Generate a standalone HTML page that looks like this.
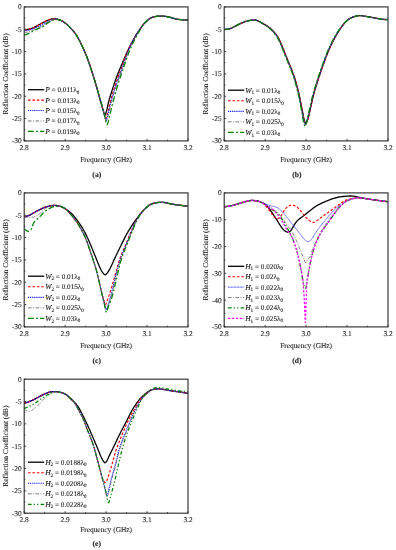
<!DOCTYPE html>
<html><head><meta charset="utf-8"><title>Reflection coefficient plots</title>
<style>svg text{text-rendering:geometricPrecision}html,body{margin:0;padding:0;background:#fff;width:396px;height:550px;overflow:hidden}svg{display:block;filter:blur(0.35px)}</style>
</head><body>
<svg width="396" height="550" viewBox="0 0 396 550" font-family="'Liberation Serif', 'Times New Roman', serif" fill="#1a1a1a"><style>text{stroke:#1a1a1a;stroke-width:0.1px}</style>
<g transform="translate(0 0)">
<clipPath id="cpa"><rect x="24.20" y="6.40" width="163.80" height="134.50"/></clipPath>
<g clip-path="url(#cpa)">
<path d="M24.2 29.9 24.7 29.9 25.2 29.8 25.7 29.7 26.2 29.7 26.7 29.6 27.2 29.5 27.7 29.4 28.2 29.3 28.7 29.2 29.0 29.1 29.2 29.1 29.7 28.9 30.2 28.8 30.7 28.7 31.2 28.5 31.7 28.3 32.2 28.2 32.7 28.0 33.2 27.8 33.7 27.6 34.2 27.4 34.6 27.2 34.7 27.2 35.2 26.9 35.7 26.7 36.2 26.4 36.7 26.1 37.2 25.8 37.7 25.5 38.2 25.2 38.7 24.9 39.2 24.6 39.7 24.4 40.0 24.2 40.2 24.1 40.7 23.8 41.2 23.5 41.7 23.3 42.2 23.0 42.7 22.7 43.2 22.5 43.7 22.2 44.2 21.9 44.7 21.7 45.1 21.5 45.2 21.5 45.7 21.2 46.2 21.0 46.7 20.7 47.2 20.5 47.7 20.3 48.2 20.0 48.7 19.8 49.2 19.7 49.7 19.5 50.1 19.4 50.2 19.4 50.7 19.3 51.2 19.2 51.7 19.1 52.2 19.0 52.7 19.0 53.2 18.9 53.7 18.9 54.2 18.9 54.7 18.9 55.2 18.9 55.7 18.9 56.2 19.0 56.7 19.1 57.2 19.2 57.7 19.3 58.2 19.5 58.7 19.6 59.2 19.8 59.7 19.9 60.2 20.1 60.7 20.3 61.2 20.5 61.7 20.8 62.2 21.0 62.7 21.3 63.2 21.6 63.7 22.0 64.2 22.3 64.7 22.7 65.2 23.0 65.3 23.1 65.7 23.4 66.2 23.8 66.7 24.2 67.2 24.7 67.7 25.1 68.2 25.6 68.7 26.1 69.2 26.6 69.7 27.1 70.2 27.6 70.3 27.7 70.7 28.1 71.2 28.6 71.7 29.2 72.2 29.7 72.7 30.3 73.2 30.9 73.7 31.5 74.2 32.1 74.7 32.8 75.2 33.4 75.4 33.7 75.7 34.1 76.2 34.9 76.7 35.6 77.2 36.5 77.7 37.4 78.2 38.2 78.7 39.2 79.1 39.9 79.2 40.1 79.7 41.0 80.2 42.0 80.7 43.0 81.2 44.0 81.7 45.1 82.2 46.1 82.7 47.2 83.2 48.3 83.7 49.4 84.2 50.5 84.7 51.7 85.2 52.8 85.4 53.3 85.7 54.0 86.2 55.2 86.7 56.5 87.2 57.8 87.7 59.2 88.2 60.6 88.7 62.0 89.0 62.8 89.2 63.4 89.7 64.8 90.2 66.3 90.7 67.9 91.2 69.4 91.7 71.0 92.2 72.6 92.5 73.5 92.7 74.1 93.2 75.7 93.7 77.3 94.2 78.9 94.7 80.5 95.2 82.1 95.7 83.8 96.2 85.5 96.5 86.5 96.7 87.2 97.2 89.0 97.7 90.8 98.2 92.6 98.7 94.5 99.2 96.4 99.7 98.2 100.0 99.3 100.2 100.0 100.7 101.8 101.2 103.6 101.4 104.3 101.7 105.4 102.2 107.1 102.7 108.8 103.2 110.5 103.3 110.8 103.7 112.1 104.2 113.8 104.7 114.9 104.9 115.1 105.2 115.0 105.7 113.8 106.2 112.1 106.5 111.0 106.7 110.3 107.2 108.2 107.7 105.8 108.2 103.6 108.7 101.5 109.2 99.7 109.7 98.0 110.2 96.3 110.7 94.7 111.2 93.1 111.7 91.5 112.0 90.6 112.2 90.0 112.7 88.4 113.2 86.9 113.7 85.4 114.2 83.9 114.7 82.4 115.2 81.0 115.3 80.7 115.7 79.6 116.2 78.2 116.7 76.9 117.2 75.6 117.7 74.3 118.2 73.0 118.6 72.0 118.7 71.8 119.2 70.5 119.7 69.3 120.2 68.1 120.7 67.0 121.2 65.8 121.7 64.6 121.8 64.4 122.2 63.5 122.7 62.3 123.2 61.1 123.7 59.9 124.2 58.7 124.7 57.5 125.2 56.4 125.6 55.5 125.7 55.3 126.2 54.2 126.7 53.1 127.2 52.0 127.7 50.9 128.2 49.8 128.7 48.7 129.2 47.7 129.7 46.7 130.2 45.7 130.7 44.7 130.8 44.5 131.2 43.7 131.7 42.8 132.2 41.9 132.7 41.0 133.2 40.0 133.7 39.1 134.2 38.3 134.7 37.4 135.2 36.5 135.7 35.7 136.2 34.9 136.7 34.1 137.2 33.3 137.6 32.7 137.7 32.5 138.2 31.8 138.7 31.0 139.2 30.3 139.7 29.5 140.2 28.8 140.7 28.0 141.2 27.3 141.7 26.6 142.2 25.9 142.7 25.3 143.2 24.7 143.7 24.1 144.2 23.5 144.7 23.0 145.2 22.5 145.7 22.0 146.2 21.6 146.7 21.1 147.2 20.7 147.7 20.2 148.2 19.8 148.7 19.4 149.2 19.0 149.7 18.7 150.2 18.3 150.7 18.0 151.2 17.8 151.7 17.5 152.2 17.4 152.7 17.2 153.2 17.1 153.7 16.9 154.2 16.8 154.7 16.7 155.2 16.6 155.7 16.5 156.2 16.4 156.7 16.3 157.2 16.2 157.7 16.2 158.2 16.1 158.7 16.1 158.8 16.1 159.2 16.1 159.7 16.1 160.2 16.1 160.7 16.1 161.2 16.1 161.7 16.1 162.2 16.1 162.7 16.1 163.2 16.2 163.7 16.2 164.2 16.2 164.7 16.3 165.0 16.3 165.2 16.3 165.7 16.4 166.2 16.5 166.7 16.6 167.2 16.7 167.7 16.8 168.2 16.9 168.7 17.0 169.2 17.1 169.7 17.2 170.2 17.3 170.7 17.5 171.2 17.6 171.7 17.8 172.2 17.9 172.7 18.1 173.2 18.2 173.7 18.4 174.2 18.5 174.7 18.6 175.2 18.8 175.7 18.9 176.2 19.0 176.7 19.1 177.2 19.2 177.7 19.3 178.2 19.4 178.7 19.4 179.2 19.5 179.7 19.5 180.2 19.6 180.7 19.6 181.2 19.7 181.7 19.7 182.2 19.8 182.7 19.8 183.0 19.8 183.2 19.8 183.7 19.8 184.2 19.9 184.7 19.9 185.2 19.9 185.7 19.9 186.2 20.0 186.7 20.0 187.2 20.0 187.7 20.0 188.0 20.0" fill="none" stroke="#000000" stroke-width="1.30" stroke-linejoin="round"/>
<path d="M24.2 29.9 24.7 29.9 25.2 29.8 25.7 29.7 26.2 29.7 26.7 29.6 27.2 29.5 27.7 29.4 28.2 29.3 28.7 29.2 29.0 29.1 29.2 29.1 29.7 28.9 30.2 28.8 30.7 28.7 31.2 28.5 31.7 28.3 32.2 28.2 32.7 28.0 33.2 27.8 33.7 27.6 34.2 27.4 34.6 27.2 34.7 27.2 35.2 26.9 35.7 26.7 36.2 26.4 36.7 26.1 37.2 25.8 37.7 25.5 38.2 25.2 38.7 24.9 39.2 24.6 39.7 24.4 40.0 24.2 40.2 24.1 40.7 23.8 41.2 23.5 41.7 23.3 42.2 23.0 42.7 22.7 43.2 22.5 43.7 22.2 44.2 21.9 44.7 21.7 45.1 21.5 45.2 21.5 45.7 21.2 46.2 21.0 46.7 20.7 47.2 20.5 47.7 20.3 48.2 20.0 48.7 19.8 49.2 19.7 49.7 19.5 50.1 19.4 50.2 19.4 50.7 19.3 51.2 19.2 51.7 19.1 52.2 19.0 52.7 19.0 53.2 18.9 53.7 18.9 54.2 18.9 54.7 18.9 55.2 18.9 55.7 18.9 56.2 19.0 56.7 19.1 57.2 19.2 57.7 19.3 58.2 19.5 58.7 19.6 59.2 19.8 59.7 19.9 60.2 20.1 60.7 20.3 61.2 20.5 61.7 20.8 62.2 21.0 62.7 21.3 63.2 21.6 63.7 22.0 64.2 22.3 64.7 22.7 65.2 23.0 65.3 23.1 65.7 23.4 66.2 23.8 66.7 24.2 67.2 24.7 67.7 25.1 68.2 25.6 68.7 26.1 69.2 26.6 69.7 27.1 70.2 27.6 70.3 27.7 70.7 28.1 71.2 28.6 71.7 29.2 72.2 29.7 72.7 30.3 73.2 30.9 73.7 31.5 74.2 32.1 74.7 32.8 75.2 33.4 75.4 33.7 75.7 34.1 76.2 34.9 76.7 35.6 77.2 36.5 77.7 37.4 78.2 38.2 78.7 39.2 79.1 39.9 79.2 40.1 79.7 41.0 80.2 42.0 80.7 43.0 81.2 44.0 81.7 45.1 82.2 46.1 82.7 47.2 83.2 48.3 83.7 49.4 84.2 50.5 84.7 51.7 85.2 52.8 85.4 53.3 85.7 54.0 86.2 55.2 86.7 56.5 87.2 57.8 87.7 59.2 88.2 60.6 88.7 62.0 89.0 62.8 89.2 63.4 89.7 64.8 90.2 66.3 90.7 67.9 91.2 69.4 91.7 71.0 92.2 72.6 92.5 73.5 92.7 74.1 93.2 75.7 93.7 77.3 94.2 78.9 94.7 80.5 95.2 82.1 95.7 83.8 96.2 85.5 96.5 86.5 96.7 87.2 97.2 89.0 97.7 90.8 98.2 92.7 98.7 94.6 99.2 96.4 99.7 98.2 100.0 99.3 100.2 100.0 100.7 101.6 101.2 103.2 101.6 104.5 101.7 104.8 102.2 106.6 102.7 108.5 103.2 110.3 103.6 111.8 103.7 112.2 104.2 114.3 104.7 116.5 105.2 118.3 105.6 119.0 105.7 119.0 106.2 118.3 106.7 116.5 107.2 114.5 107.7 112.6 108.2 110.4 108.7 108.2 109.2 106.1 109.6 104.5 109.7 104.1 110.2 102.2 110.7 100.4 111.2 98.6 111.7 96.9 112.2 95.2 112.7 93.5 113.0 92.5 113.2 91.8 113.7 90.2 114.2 88.6 114.7 87.0 115.2 85.5 115.7 84.0 116.2 82.5 116.7 81.0 117.2 79.6 117.7 78.2 118.2 76.8 118.7 75.4 119.2 74.0 119.4 73.5 119.7 72.7 120.2 71.4 120.7 70.1 121.2 68.8 121.7 67.4 122.2 66.1 122.4 65.5 122.7 64.6 123.2 63.0 123.7 61.4 124.2 59.7 124.7 58.1 125.2 56.6 125.6 55.5 125.7 55.2 126.2 54.0 126.7 52.8 127.2 51.7 127.7 50.6 128.2 49.6 128.7 48.5 129.2 47.6 129.7 46.6 130.2 45.6 130.7 44.7 130.8 44.5 131.2 43.8 131.7 42.8 132.2 41.9 132.7 41.0 133.2 40.1 133.7 39.2 134.2 38.3 134.7 37.4 135.2 36.6 135.7 35.7 136.2 34.9 136.7 34.1 137.2 33.3 137.6 32.7 137.7 32.5 138.2 31.8 138.7 31.0 139.2 30.3 139.7 29.5 140.2 28.8 140.7 28.0 141.2 27.3 141.7 26.6 142.2 25.9 142.7 25.3 143.2 24.7 143.7 24.1 144.2 23.5 144.7 23.0 145.2 22.5 145.7 22.0 146.2 21.6 146.7 21.1 147.2 20.7 147.7 20.2 148.2 19.8 148.7 19.4 149.2 19.0 149.7 18.7 150.2 18.3 150.7 18.0 151.2 17.8 151.7 17.5 152.2 17.4 152.7 17.2 153.2 17.1 153.7 16.9 154.2 16.8 154.7 16.7 155.2 16.6 155.7 16.5 156.2 16.4 156.7 16.3 157.2 16.2 157.7 16.2 158.2 16.1 158.7 16.1 158.8 16.1 159.2 16.1 159.7 16.1 160.2 16.1 160.7 16.1 161.2 16.1 161.7 16.1 162.2 16.1 162.7 16.1 163.2 16.2 163.7 16.2 164.2 16.2 164.7 16.3 165.0 16.3 165.2 16.3 165.7 16.4 166.2 16.5 166.7 16.6 167.2 16.7 167.7 16.8 168.2 16.9 168.7 17.0 169.2 17.1 169.7 17.2 170.2 17.3 170.7 17.5 171.2 17.6 171.7 17.8 172.2 17.9 172.7 18.1 173.2 18.2 173.7 18.4 174.2 18.5 174.7 18.6 175.2 18.8 175.7 18.9 176.2 19.0 176.7 19.1 177.2 19.2 177.7 19.3 178.2 19.4 178.7 19.4 179.2 19.5 179.7 19.5 180.2 19.6 180.7 19.6 181.2 19.7 181.7 19.7 182.2 19.8 182.7 19.8 183.0 19.8 183.2 19.8 183.7 19.8 184.2 19.9 184.7 19.9 185.2 19.9 185.7 19.9 186.2 20.0 186.7 20.0 187.2 20.0 187.7 20.0 188.0 20.0" fill="none" stroke="#ff0000" stroke-width="1.15" stroke-dasharray="2.6 1.8" stroke-linejoin="round"/>
<path d="M24.2 31.0 24.7 31.0 25.2 30.9 25.7 30.8 26.2 30.8 26.7 30.7 27.2 30.6 27.7 30.5 28.2 30.4 28.7 30.3 29.0 30.2 29.2 30.2 29.7 30.0 30.2 29.9 30.7 29.7 31.2 29.5 31.7 29.3 32.2 29.1 32.7 29.0 33.1 28.8 33.2 28.8 33.7 28.6 34.2 28.4 34.7 28.2 35.2 28.0 35.7 27.8 36.2 27.6 36.7 27.3 37.2 27.1 37.7 26.9 38.0 26.8 38.2 26.7 38.7 26.5 39.2 26.3 39.7 26.1 40.2 25.9 40.7 25.7 41.2 25.5 41.7 25.2 42.2 25.0 42.7 24.7 43.2 24.5 43.7 24.2 44.2 23.9 44.7 23.6 45.2 23.3 45.7 23.0 46.2 22.7 46.7 22.5 47.0 22.3 47.2 22.2 47.7 21.9 48.2 21.7 48.7 21.5 49.2 21.2 49.7 21.0 50.2 20.8 50.7 20.5 51.2 20.3 51.7 20.1 52.0 20.0 52.2 19.9 52.7 19.7 53.2 19.5 53.7 19.3 54.2 19.1 54.7 19.0 55.2 18.9 55.7 18.9 56.2 18.9 56.7 19.0 57.2 19.1 57.7 19.2 58.2 19.4 58.7 19.5 59.2 19.7 59.7 19.9 60.2 20.1 60.7 20.3 61.2 20.5 61.7 20.8 62.2 21.1 62.7 21.4 63.2 21.7 63.7 22.0 64.2 22.3 64.7 22.7 65.2 23.0 65.3 23.1 65.7 23.4 66.2 23.8 66.7 24.2 67.2 24.7 67.7 25.1 68.2 25.6 68.7 26.1 69.2 26.6 69.7 27.1 70.2 27.6 70.3 27.7 70.7 28.1 71.2 28.6 71.7 29.2 72.2 29.7 72.7 30.3 73.2 30.9 73.7 31.5 74.2 32.1 74.7 32.8 75.2 33.4 75.4 33.7 75.7 34.1 76.2 34.9 76.7 35.6 77.2 36.5 77.7 37.4 78.2 38.2 78.7 39.2 79.1 39.9 79.2 40.1 79.7 41.0 80.2 42.0 80.7 43.0 81.2 44.0 81.7 45.1 82.2 46.1 82.7 47.2 83.2 48.3 83.7 49.4 84.2 50.5 84.7 51.7 85.2 52.8 85.4 53.3 85.7 54.0 86.2 55.2 86.7 56.5 87.2 57.8 87.7 59.2 88.2 60.6 88.7 62.0 89.0 62.8 89.2 63.4 89.7 64.8 90.2 66.3 90.7 67.9 91.2 69.4 91.7 71.0 92.2 72.6 92.5 73.5 92.7 74.1 93.2 75.7 93.7 77.3 94.2 78.9 94.7 80.5 95.2 82.1 95.7 83.8 96.2 85.5 96.5 86.5 96.7 87.2 97.2 89.0 97.7 90.8 98.2 92.7 98.7 94.6 99.2 96.5 99.7 98.3 100.0 99.3 100.2 100.0 100.7 101.5 101.2 103.0 101.7 104.6 102.2 106.4 102.7 108.3 103.2 110.2 103.7 112.1 103.9 112.8 104.2 114.0 104.7 116.2 105.2 118.4 105.7 119.9 106.0 120.3 106.2 120.3 106.7 119.1 107.2 117.1 107.6 115.5 107.7 115.1 108.2 113.1 108.7 111.0 109.2 108.8 109.7 106.7 110.0 105.5 110.2 104.7 110.7 102.9 111.2 101.1 111.7 99.3 112.2 97.6 112.7 95.9 113.2 94.2 113.4 93.5 113.7 92.5 114.2 90.9 114.7 89.2 115.2 87.6 115.7 86.0 116.2 84.5 116.6 83.3 116.7 83.0 117.2 81.5 117.7 80.1 118.2 78.7 118.7 77.3 119.2 76.0 119.7 74.6 119.8 74.3 120.2 73.2 120.7 71.8 121.2 70.4 121.7 69.1 122.2 67.7 122.7 66.3 122.8 66.0 123.2 64.9 123.7 63.4 124.2 62.0 124.7 60.5 125.2 59.1 125.7 57.7 126.2 56.3 126.7 54.9 127.2 53.6 127.7 52.2 128.2 50.8 128.7 49.5 129.2 48.2 129.7 47.0 130.2 45.8 130.7 44.7 130.8 44.5 131.2 43.7 131.7 42.7 132.2 41.7 132.7 40.8 133.2 39.9 133.7 39.0 134.2 38.1 134.7 37.3 135.2 36.4 135.7 35.6 136.2 34.8 136.7 34.1 137.2 33.3 137.6 32.7 137.7 32.6 138.2 31.8 138.7 31.1 139.2 30.3 139.7 29.5 140.2 28.8 140.7 28.1 141.2 27.3 141.7 26.6 142.2 26.0 142.7 25.3 143.2 24.7 143.7 24.1 144.2 23.5 144.7 23.0 145.2 22.5 145.7 22.0 146.2 21.6 146.7 21.1 147.2 20.7 147.7 20.2 148.2 19.8 148.7 19.4 149.2 19.0 149.7 18.7 150.2 18.3 150.7 18.0 151.2 17.8 151.7 17.5 152.2 17.4 152.7 17.2 153.2 17.1 153.7 16.9 154.2 16.8 154.7 16.7 155.2 16.6 155.7 16.5 156.2 16.4 156.7 16.3 157.2 16.2 157.7 16.2 158.2 16.1 158.7 16.1 158.8 16.1 159.2 16.1 159.7 16.1 160.2 16.1 160.7 16.1 161.2 16.1 161.7 16.1 162.2 16.1 162.7 16.1 163.2 16.2 163.7 16.2 164.2 16.2 164.7 16.3 165.0 16.3 165.2 16.3 165.7 16.4 166.2 16.5 166.7 16.6 167.2 16.7 167.7 16.8 168.2 16.9 168.7 17.0 169.2 17.1 169.7 17.2 170.2 17.3 170.7 17.5 171.2 17.6 171.7 17.8 172.2 17.9 172.7 18.1 173.2 18.2 173.7 18.4 174.2 18.5 174.7 18.6 175.2 18.8 175.7 18.9 176.2 19.0 176.7 19.1 177.2 19.2 177.7 19.3 178.2 19.4 178.7 19.4 179.2 19.5 179.7 19.5 180.2 19.6 180.7 19.6 181.2 19.7 181.7 19.7 182.2 19.8 182.7 19.8 183.0 19.8 183.2 19.8 183.7 19.8 184.2 19.9 184.7 19.9 185.2 19.9 185.7 19.9 186.2 20.0 186.7 20.0 187.2 20.0 187.7 20.0 188.0 20.0" fill="none" stroke="#0000ff" stroke-width="1.15" stroke-dasharray="1.1 1.0" stroke-linejoin="round"/>
<path d="M24.2 32.8 24.7 32.7 25.2 32.7 25.7 32.6 26.2 32.5 26.7 32.4 27.2 32.2 27.7 32.1 28.2 32.0 28.7 31.9 29.0 31.8 29.2 31.7 29.7 31.6 30.2 31.5 30.7 31.3 31.2 31.1 31.7 31.0 32.2 30.8 32.7 30.6 33.0 30.5 33.2 30.4 33.7 30.2 34.2 30.0 34.7 29.8 35.2 29.6 35.7 29.4 36.2 29.2 36.7 28.9 37.2 28.7 37.7 28.4 38.0 28.3 38.2 28.2 38.7 28.0 39.2 27.7 39.7 27.4 40.2 27.2 40.7 26.9 41.2 26.6 41.7 26.3 42.2 26.0 42.7 25.7 43.2 25.4 43.7 25.0 44.2 24.7 44.7 24.3 45.2 23.9 45.7 23.6 46.2 23.3 46.7 23.0 47.0 22.8 47.2 22.7 47.7 22.4 48.2 22.2 48.7 21.9 49.2 21.7 49.7 21.5 50.2 21.2 50.7 21.0 51.2 20.8 51.7 20.5 52.0 20.4 52.2 20.3 52.7 20.0 53.2 19.8 53.7 19.5 54.2 19.2 54.7 19.0 55.2 18.9 55.7 18.8 56.2 18.8 56.7 18.9 57.2 19.0 57.7 19.1 58.2 19.3 58.7 19.5 59.2 19.7 59.7 19.9 60.2 20.1 60.7 20.3 61.2 20.5 61.7 20.8 62.2 21.1 62.7 21.4 63.2 21.7 63.7 22.0 64.2 22.3 64.7 22.7 65.2 23.0 65.3 23.1 65.7 23.4 66.2 23.8 66.7 24.2 67.2 24.7 67.7 25.1 68.2 25.6 68.7 26.1 69.2 26.6 69.7 27.1 70.2 27.6 70.3 27.7 70.7 28.1 71.2 28.6 71.7 29.2 72.2 29.7 72.7 30.3 73.2 30.9 73.7 31.5 74.2 32.1 74.7 32.8 75.2 33.4 75.4 33.7 75.7 34.1 76.2 34.9 76.7 35.6 77.2 36.5 77.7 37.4 78.2 38.2 78.7 39.2 79.1 39.9 79.2 40.1 79.7 41.0 80.2 42.0 80.7 43.0 81.2 44.0 81.7 45.1 82.2 46.1 82.7 47.2 83.2 48.3 83.7 49.4 84.2 50.5 84.7 51.7 85.2 52.8 85.4 53.3 85.7 54.0 86.2 55.2 86.7 56.5 87.2 57.8 87.7 59.2 88.2 60.6 88.7 62.0 89.0 62.8 89.2 63.4 89.7 64.8 90.2 66.3 90.7 67.9 91.2 69.4 91.7 71.0 92.2 72.6 92.5 73.5 92.7 74.1 93.2 75.7 93.7 77.3 94.2 78.9 94.7 80.5 95.2 82.1 95.7 83.8 96.2 85.5 96.5 86.5 96.7 87.2 97.2 89.0 97.7 90.9 98.2 92.8 98.7 94.6 99.2 96.5 99.7 98.3 100.0 99.3 100.2 99.9 100.7 101.4 101.2 102.8 101.7 104.4 101.8 104.7 102.2 106.1 102.7 108.0 103.2 110.0 103.7 112.0 104.1 113.5 104.2 113.9 104.7 116.1 105.2 118.3 105.7 120.2 106.2 121.2 106.3 121.3 106.7 120.9 107.2 119.3 107.7 117.2 108.0 116.0 108.2 115.3 108.7 113.3 109.2 111.3 109.7 109.2 110.2 107.2 110.5 106.0 110.7 105.2 111.2 103.3 111.7 101.5 112.2 99.6 112.7 97.8 113.2 96.1 113.7 94.3 113.8 94.0 114.2 92.7 114.7 91.1 115.2 89.5 115.7 88.0 116.2 86.4 116.7 84.9 117.0 84.0 117.2 83.4 117.7 81.9 118.2 80.4 118.7 78.9 119.2 77.4 119.7 76.0 120.1 74.8 120.2 74.5 120.7 73.1 121.2 71.7 121.7 70.4 122.2 69.0 122.7 67.6 123.1 66.5 123.2 66.2 123.7 64.7 124.2 63.2 124.7 61.6 125.2 60.1 125.7 58.6 126.2 57.2 126.4 56.6 126.7 55.8 127.2 54.4 127.7 53.1 128.2 51.8 128.7 50.6 129.2 49.3 129.7 48.1 130.2 47.0 130.7 45.8 131.0 45.2 131.2 44.8 131.7 43.7 132.2 42.7 132.7 41.6 133.2 40.6 133.7 39.6 134.2 38.7 134.7 37.7 135.2 36.8 135.7 35.9 136.2 35.0 136.7 34.1 137.2 33.3 137.6 32.7 137.7 32.5 138.2 31.8 138.7 31.0 139.2 30.2 139.7 29.5 140.2 28.7 140.7 28.0 141.2 27.3 141.7 26.6 142.2 25.9 142.7 25.2 143.2 24.6 143.7 24.0 144.2 23.5 144.7 23.0 145.2 22.5 145.7 22.0 146.2 21.6 146.7 21.1 147.2 20.7 147.7 20.3 148.2 19.8 148.7 19.4 149.2 19.1 149.7 18.7 150.2 18.4 150.7 18.1 151.2 17.8 151.7 17.5 152.2 17.4 152.7 17.2 153.2 17.1 153.7 16.9 154.2 16.8 154.7 16.7 155.2 16.6 155.7 16.5 156.2 16.4 156.7 16.3 157.2 16.2 157.7 16.2 158.2 16.1 158.7 16.1 158.8 16.1 159.2 16.1 159.7 16.1 160.2 16.1 160.7 16.1 161.2 16.1 161.7 16.1 162.2 16.1 162.7 16.1 163.2 16.2 163.7 16.2 164.2 16.2 164.7 16.3 165.0 16.3 165.2 16.3 165.7 16.4 166.2 16.5 166.7 16.6 167.2 16.7 167.7 16.8 168.2 16.9 168.7 17.0 169.2 17.1 169.7 17.2 170.2 17.3 170.7 17.5 171.2 17.6 171.7 17.8 172.2 17.9 172.7 18.1 173.2 18.2 173.7 18.4 174.2 18.5 174.7 18.6 175.2 18.8 175.7 18.9 176.2 19.0 176.7 19.1 177.2 19.2 177.7 19.3 178.2 19.4 178.7 19.4 179.2 19.5 179.7 19.5 180.2 19.6 180.7 19.6 181.2 19.7 181.7 19.7 182.2 19.8 182.7 19.8 183.0 19.8 183.2 19.8 183.7 19.8 184.2 19.9 184.7 19.9 185.2 19.9 185.7 19.9 186.2 20.0 186.7 20.0 187.2 20.0 187.7 20.0 188.0 20.0" fill="none" stroke="#6a6a6a" stroke-width="0.90" stroke-dasharray="3.6 1.4 0.9 1.6" stroke-linejoin="round"/>
<path d="M24.2 35.2 24.7 35.0 25.2 34.9 25.7 34.7 26.2 34.5 26.7 34.3 27.2 34.1 27.7 33.9 28.2 33.7 28.7 33.4 29.0 33.3 29.2 33.2 29.7 33.0 30.2 32.7 30.7 32.4 31.2 32.1 31.7 31.9 32.2 31.6 32.7 31.3 33.1 31.1 33.2 31.0 33.7 30.8 34.2 30.5 34.7 30.3 35.2 30.0 35.7 29.8 36.2 29.5 36.7 29.3 37.2 29.1 37.7 28.8 38.0 28.7 38.2 28.6 38.7 28.4 39.2 28.2 39.7 28.0 40.2 27.9 40.7 27.7 41.2 27.5 41.7 27.2 42.2 27.0 42.7 26.7 43.2 26.4 43.7 26.0 44.2 25.6 44.7 25.2 45.2 24.8 45.7 24.4 46.2 24.1 46.7 23.7 47.0 23.5 47.2 23.4 47.7 23.0 48.2 22.7 48.7 22.4 49.2 22.1 49.7 21.8 50.2 21.5 50.7 21.3 51.2 21.0 51.6 20.8 51.7 20.8 52.2 20.5 52.7 20.3 53.2 20.0 53.7 19.8 54.2 19.7 54.7 19.6 55.0 19.5 55.2 19.5 55.7 19.4 56.2 19.4 56.7 19.5 57.2 19.5 57.7 19.6 58.2 19.7 58.7 19.8 59.2 20.0 59.7 20.1 60.0 20.2 60.2 20.3 60.7 20.4 61.2 20.6 61.7 20.9 62.2 21.1 62.7 21.4 63.2 21.7 63.7 22.0 64.2 22.4 64.7 22.7 65.2 23.0 65.3 23.1 65.7 23.4 66.2 23.8 66.7 24.2 67.2 24.6 67.7 25.1 68.2 25.6 68.7 26.1 69.2 26.6 69.7 27.1 70.2 27.6 70.3 27.7 70.7 28.1 71.2 28.6 71.7 29.2 72.2 29.7 72.7 30.3 73.2 30.9 73.7 31.5 74.2 32.1 74.7 32.8 75.2 33.4 75.4 33.7 75.7 34.1 76.2 34.9 76.7 35.6 77.2 36.5 77.7 37.4 78.2 38.2 78.7 39.2 79.1 39.9 79.2 40.1 79.7 41.0 80.2 42.0 80.7 43.0 81.2 44.0 81.7 45.1 82.2 46.1 82.7 47.2 83.2 48.3 83.7 49.4 84.2 50.5 84.7 51.7 85.2 52.8 85.4 53.3 85.7 54.0 86.2 55.2 86.7 56.5 87.2 57.8 87.7 59.2 88.2 60.6 88.7 62.0 89.0 62.8 89.2 63.4 89.7 64.8 90.2 66.3 90.7 67.9 91.2 69.4 91.7 71.0 92.2 72.6 92.5 73.5 92.7 74.1 93.2 75.7 93.7 77.3 94.2 78.9 94.7 80.5 95.2 82.1 95.7 83.8 96.2 85.5 96.5 86.5 96.7 87.2 97.2 89.0 97.7 90.9 98.2 92.8 98.7 94.7 99.2 96.5 99.7 98.3 100.0 99.3 100.2 99.9 100.7 101.3 101.2 102.6 101.7 104.0 102.0 105.0 102.2 105.7 102.7 107.6 103.2 109.7 103.7 111.8 104.2 113.9 104.6 115.5 104.7 115.9 105.2 118.2 105.7 120.7 106.2 122.9 106.7 124.4 107.0 124.8 107.2 124.8 107.7 123.8 108.2 121.9 108.7 119.7 109.0 118.5 109.2 117.7 109.7 115.7 110.2 113.5 110.7 111.3 111.2 109.2 111.5 108.0 111.7 107.2 112.2 105.3 112.7 103.4 113.2 101.6 113.7 99.7 114.2 97.9 114.7 96.1 115.0 95.0 115.2 94.3 115.7 92.4 116.2 90.6 116.7 88.8 117.2 87.0 117.7 85.3 117.8 85.0 118.2 83.7 118.7 82.1 119.2 80.5 119.7 79.0 120.2 77.5 120.7 76.0 121.2 74.5 121.7 73.1 122.2 71.7 122.7 70.3 123.2 68.9 123.5 68.0 123.7 67.4 124.2 65.9 124.7 64.3 125.2 62.8 125.7 61.2 126.2 59.7 126.7 58.3 126.8 58.0 127.2 56.9 127.7 55.6 128.2 54.2 128.7 52.9 129.2 51.7 129.7 50.4 130.2 49.2 130.7 48.0 131.2 46.9 131.6 46.0 131.7 45.8 132.2 44.7 132.7 43.6 133.2 42.6 133.7 41.6 134.2 40.6 134.7 39.6 135.2 38.6 135.7 37.6 136.2 36.7 136.7 35.8 137.2 34.9 137.7 34.0 138.0 33.5 138.2 33.2 138.7 32.3 139.2 31.4 139.7 30.6 140.2 29.7 140.7 28.8 141.2 28.0 141.7 27.2 142.2 26.4 142.7 25.6 143.2 24.9 143.7 24.2 144.2 23.6 144.7 23.0 145.2 22.5 145.7 22.0 146.2 21.5 146.7 21.1 147.2 20.6 147.7 20.2 148.2 19.8 148.7 19.4 149.2 19.0 149.7 18.6 150.2 18.3 150.7 18.0 151.2 17.8 151.7 17.5 152.2 17.3 152.7 17.2 153.2 17.1 153.7 16.9 154.2 16.8 154.7 16.7 155.2 16.6 155.7 16.5 156.2 16.4 156.7 16.3 157.2 16.2 157.7 16.2 158.2 16.1 158.7 16.1 158.8 16.1 159.2 16.1 159.7 16.1 160.2 16.1 160.7 16.1 161.2 16.1 161.7 16.1 162.2 16.1 162.7 16.1 163.2 16.2 163.7 16.2 164.2 16.2 164.7 16.3 165.0 16.3 165.2 16.3 165.7 16.4 166.2 16.5 166.7 16.6 167.2 16.7 167.7 16.8 168.2 16.9 168.7 17.0 169.2 17.1 169.7 17.2 170.2 17.3 170.7 17.5 171.2 17.6 171.7 17.8 172.2 17.9 172.7 18.1 173.2 18.2 173.7 18.4 174.2 18.5 174.7 18.6 175.2 18.8 175.7 18.9 176.2 19.0 176.7 19.1 177.2 19.2 177.7 19.3 178.2 19.4 178.7 19.4 179.2 19.5 179.7 19.5 180.2 19.6 180.7 19.6 181.2 19.7 181.7 19.7 182.2 19.8 182.7 19.8 183.0 19.8 183.2 19.8 183.7 19.8 184.2 19.9 184.7 19.9 185.2 19.9 185.7 19.9 186.2 20.0 186.7 20.0 187.2 20.0 187.7 20.0 188.0 20.0" fill="none" stroke="#008000" stroke-width="1.25" stroke-dasharray="5.7 2.3 1.8 2.3" stroke-linejoin="round"/>
</g>
<line x1="28" y1="89.70" x2="44.2" y2="89.70" fill="none" stroke="#000000" stroke-width="1.30"/>
<text x="45.2" y="92.10" font-size="7.20"><tspan font-style="italic" font-size="7.5">P</tspan> = 0.011&#955;<tspan font-size="5.0" dy="1.6">0</tspan></text>
<line x1="28" y1="100.12" x2="44.2" y2="100.12" fill="none" stroke="#ff0000" stroke-width="1.15" stroke-dasharray="2.6 1.8"/>
<text x="45.2" y="102.52" font-size="7.20"><tspan font-style="italic" font-size="7.5">P</tspan> = 0.013&#955;<tspan font-size="5.0" dy="1.6">0</tspan></text>
<line x1="28" y1="110.54" x2="44.2" y2="110.54" fill="none" stroke="#0000ff" stroke-width="1.15" stroke-dasharray="1.1 1.0"/>
<text x="45.2" y="112.94" font-size="7.20"><tspan font-style="italic" font-size="7.5">P</tspan> = 0.015&#955;<tspan font-size="5.0" dy="1.6">0</tspan></text>
<line x1="28" y1="120.96" x2="44.2" y2="120.96" fill="none" stroke="#6a6a6a" stroke-width="0.90" stroke-dasharray="3.6 1.4 0.9 1.6"/>
<text x="45.2" y="123.36" font-size="7.20"><tspan font-style="italic" font-size="7.5">P</tspan> = 0.017&#955;<tspan font-size="5.0" dy="1.6">0</tspan></text>
<line x1="28" y1="131.38" x2="44.2" y2="131.38" fill="none" stroke="#008000" stroke-width="1.25" stroke-dasharray="5.7 2.3 1.8 2.3"/>
<text x="45.2" y="133.78" font-size="7.20"><tspan font-style="italic" font-size="7.5">P</tspan> = 0.019&#955;<tspan font-size="5.0" dy="1.6">0</tspan></text>
<rect x="24.20" y="6.90" width="163.80" height="134.00" fill="none" stroke="#303030" stroke-width="1.15"/>
<line x1="24.20" y1="140.90" x2="24.20" y2="138.90" stroke="#303030" stroke-width="0.9"/>
<text x="24.20" y="149.60" font-size="7.40" text-anchor="middle">2.8</text>
<line x1="44.67" y1="140.90" x2="44.67" y2="139.70" stroke="#303030" stroke-width="0.9"/>
<line x1="65.15" y1="140.90" x2="65.15" y2="138.90" stroke="#303030" stroke-width="0.9"/>
<text x="65.15" y="149.60" font-size="7.40" text-anchor="middle">2.9</text>
<line x1="85.62" y1="140.90" x2="85.62" y2="139.70" stroke="#303030" stroke-width="0.9"/>
<line x1="106.10" y1="140.90" x2="106.10" y2="138.90" stroke="#303030" stroke-width="0.9"/>
<text x="106.10" y="149.60" font-size="7.40" text-anchor="middle">3.0</text>
<line x1="126.58" y1="140.90" x2="126.58" y2="139.70" stroke="#303030" stroke-width="0.9"/>
<line x1="147.05" y1="140.90" x2="147.05" y2="138.90" stroke="#303030" stroke-width="0.9"/>
<text x="147.05" y="149.60" font-size="7.40" text-anchor="middle">3.1</text>
<line x1="167.53" y1="140.90" x2="167.53" y2="139.70" stroke="#303030" stroke-width="0.9"/>
<line x1="188.00" y1="140.90" x2="188.00" y2="138.90" stroke="#303030" stroke-width="0.9"/>
<text x="188.00" y="149.60" font-size="7.40" text-anchor="middle">3.2</text>
<line x1="24.20" y1="6.90" x2="26.20" y2="6.90" stroke="#303030" stroke-width="0.9"/>
<text x="21.60" y="9.30" font-size="7.40" text-anchor="end">0</text>
<line x1="24.20" y1="18.07" x2="25.40" y2="18.07" stroke="#303030" stroke-width="0.9"/>
<line x1="24.20" y1="29.23" x2="26.20" y2="29.23" stroke="#303030" stroke-width="0.9"/>
<text x="21.60" y="31.63" font-size="7.40" text-anchor="end">-5</text>
<line x1="24.20" y1="40.40" x2="25.40" y2="40.40" stroke="#303030" stroke-width="0.9"/>
<line x1="24.20" y1="51.57" x2="26.20" y2="51.57" stroke="#303030" stroke-width="0.9"/>
<text x="21.60" y="53.97" font-size="7.40" text-anchor="end">-10</text>
<line x1="24.20" y1="62.73" x2="25.40" y2="62.73" stroke="#303030" stroke-width="0.9"/>
<line x1="24.20" y1="73.90" x2="26.20" y2="73.90" stroke="#303030" stroke-width="0.9"/>
<text x="21.60" y="76.30" font-size="7.40" text-anchor="end">-15</text>
<line x1="24.20" y1="85.07" x2="25.40" y2="85.07" stroke="#303030" stroke-width="0.9"/>
<line x1="24.20" y1="96.23" x2="26.20" y2="96.23" stroke="#303030" stroke-width="0.9"/>
<text x="21.60" y="98.63" font-size="7.40" text-anchor="end">-20</text>
<line x1="24.20" y1="107.40" x2="25.40" y2="107.40" stroke="#303030" stroke-width="0.9"/>
<line x1="24.20" y1="118.57" x2="26.20" y2="118.57" stroke="#303030" stroke-width="0.9"/>
<text x="21.60" y="120.97" font-size="7.40" text-anchor="end">-25</text>
<line x1="24.20" y1="129.73" x2="25.40" y2="129.73" stroke="#303030" stroke-width="0.9"/>
<line x1="24.20" y1="140.90" x2="26.20" y2="140.90" stroke="#303030" stroke-width="0.9"/>
<text x="21.60" y="143.30" font-size="7.40" text-anchor="end">-30</text>
<text x="106.10" y="162.00" font-size="7.40" text-anchor="middle">Frequency (GHz)</text>
<text transform="translate(7.5 73.90) rotate(-90)" font-size="7.40" text-anchor="middle">Reflection Coefficient (dB)</text>
<text x="96.80" y="176.60" font-size="7.60" font-weight="bold" text-anchor="middle">(a)</text>
</g>
<g transform="translate(200 0)">
<clipPath id="cpb"><rect x="24.20" y="6.40" width="163.80" height="134.50"/></clipPath>
<g clip-path="url(#cpb)">
<path d="M24.2 29.5 24.7 29.5 25.2 29.5 25.7 29.4 26.2 29.4 26.7 29.3 27.2 29.3 27.7 29.2 28.2 29.1 28.7 29.0 29.2 28.9 29.7 28.7 29.8 28.7 30.2 28.6 30.7 28.4 31.2 28.2 31.7 28.0 32.2 27.8 32.7 27.5 33.2 27.2 33.7 27.0 34.2 26.7 34.7 26.5 35.2 26.2 35.6 26.0 35.7 26.0 36.2 25.7 36.7 25.4 37.2 25.2 37.7 24.9 38.2 24.7 38.7 24.4 39.2 24.1 39.7 23.9 40.2 23.6 40.7 23.4 41.2 23.2 41.4 23.1 41.7 23.0 42.2 22.8 42.7 22.6 43.2 22.4 43.7 22.2 44.2 22.0 44.7 21.8 45.2 21.6 45.7 21.4 46.2 21.3 46.7 21.2 47.2 21.0 47.3 21.0 47.7 20.9 48.2 20.8 48.7 20.7 49.2 20.6 49.7 20.5 50.2 20.4 50.7 20.3 51.2 20.2 51.7 20.1 52.2 20.0 52.7 20.0 53.2 19.9 53.7 19.9 54.2 19.9 54.7 20.0 55.0 20.0 55.2 20.0 55.7 20.1 56.2 20.3 56.7 20.4 57.2 20.6 57.7 20.8 58.2 21.0 58.7 21.3 58.8 21.3 59.2 21.5 59.7 21.7 60.2 22.0 60.7 22.3 61.2 22.6 61.7 22.9 62.2 23.2 62.6 23.4 62.7 23.5 63.2 23.7 63.7 24.0 64.2 24.3 64.7 24.6 65.2 24.9 65.7 25.2 66.2 25.5 66.4 25.6 66.7 25.8 67.2 26.1 67.7 26.4 68.2 26.8 68.7 27.1 69.2 27.5 69.7 27.9 70.2 28.3 70.7 28.7 71.2 29.2 71.7 29.7 72.2 30.2 72.7 30.7 73.2 31.2 73.7 31.8 73.9 32.0 74.2 32.3 74.7 32.9 75.2 33.5 75.7 34.1 76.2 34.8 76.7 35.4 77.2 36.2 77.7 36.9 78.2 37.7 78.7 38.7 79.2 39.7 79.7 40.7 80.2 41.8 80.7 42.9 81.2 44.1 81.7 45.3 82.2 46.5 82.7 47.7 82.9 48.2 83.2 48.9 83.7 50.2 84.2 51.4 84.7 52.7 85.2 53.9 85.7 55.2 86.2 56.4 86.7 57.6 87.2 58.9 87.7 60.1 88.2 61.4 88.7 62.6 89.2 63.9 89.5 64.6 89.7 65.1 90.2 66.3 90.7 67.5 91.2 68.7 91.7 70.0 92.2 71.2 92.7 72.5 92.8 72.8 93.2 73.9 93.7 75.3 94.2 76.8 94.7 78.3 95.2 79.9 95.3 80.2 95.7 81.5 96.2 83.3 96.7 85.1 97.2 87.0 97.7 88.9 98.1 90.5 98.2 90.9 98.7 93.0 99.2 95.2 99.7 97.5 100.0 98.9 100.2 99.9 100.7 102.5 101.2 105.1 101.7 107.8 102.2 110.5 102.5 112.0 102.7 113.0 103.2 115.5 103.7 117.9 104.1 119.4 104.2 119.7 104.7 121.4 105.2 122.8 105.7 123.2 106.2 122.6 106.7 121.5 106.8 121.3 107.2 120.4 107.7 119.2 108.2 117.8 108.7 116.0 109.2 113.9 109.7 111.7 110.2 109.3 110.7 107.1 111.2 104.9 111.7 102.6 112.2 100.3 112.7 98.1 113.1 96.5 113.2 96.1 113.7 94.2 114.2 92.4 114.7 90.6 115.2 88.9 115.7 87.3 116.2 85.6 116.4 85.0 116.7 84.0 117.2 82.4 117.7 80.9 118.2 79.3 118.7 77.8 119.2 76.3 119.7 74.8 119.8 74.5 120.2 73.3 120.7 71.8 121.2 70.4 121.7 69.0 122.2 67.5 122.7 66.1 123.2 64.7 123.7 63.3 124.2 61.9 124.7 60.5 125.2 59.1 125.7 57.8 126.0 57.0 126.2 56.5 126.7 55.2 127.2 53.9 127.7 52.6 128.2 51.4 128.7 50.2 129.0 49.5 129.2 49.0 129.7 47.9 130.2 46.8 130.7 45.8 131.2 44.7 131.7 43.7 132.2 42.7 132.7 41.7 132.8 41.5 133.2 40.7 133.7 39.8 134.2 38.8 134.7 37.9 135.2 37.0 135.7 36.1 136.2 35.2 136.7 34.3 136.9 34.0 137.2 33.5 137.7 32.7 138.2 31.9 138.7 31.1 139.2 30.4 139.7 29.6 140.0 29.2 140.2 28.9 140.7 28.2 141.2 27.5 141.7 26.7 142.2 26.0 142.7 25.4 143.0 25.0 143.2 24.7 143.7 24.1 144.2 23.5 144.7 22.9 145.2 22.3 145.7 21.8 146.2 21.3 146.5 21.0 146.7 20.8 147.2 20.4 147.7 20.0 148.2 19.6 148.7 19.2 149.2 18.9 149.7 18.6 150.0 18.4 150.2 18.3 150.7 18.1 151.2 17.8 151.7 17.6 152.2 17.4 152.7 17.1 153.2 16.9 153.7 16.8 154.2 16.6 154.7 16.5 155.0 16.4 155.2 16.4 155.7 16.2 156.2 16.1 156.7 16.0 157.2 15.9 157.7 15.8 158.2 15.7 158.7 15.6 159.2 15.6 159.7 15.6 160.1 15.6 160.2 15.6 160.7 15.6 161.2 15.7 161.7 15.7 162.2 15.8 162.7 15.9 163.2 15.9 163.7 16.0 164.2 16.1 164.7 16.2 165.2 16.3 165.7 16.3 166.2 16.4 166.7 16.5 167.2 16.6 167.7 16.7 168.2 16.8 168.7 16.9 169.2 17.0 169.7 17.0 170.2 17.1 170.7 17.2 171.2 17.3 171.7 17.4 172.2 17.5 172.7 17.6 173.2 17.7 173.7 17.8 174.2 17.9 174.7 18.0 175.2 18.1 175.3 18.1 175.7 18.2 176.2 18.3 176.7 18.4 177.2 18.4 177.7 18.5 178.2 18.6 178.7 18.7 179.2 18.8 179.7 18.9 180.2 19.0 180.7 19.1 181.2 19.1 181.7 19.2 182.2 19.3 182.7 19.3 183.2 19.4 183.3 19.4 183.7 19.4 184.2 19.5 184.7 19.5 185.2 19.5 185.7 19.5 186.2 19.5 186.7 19.5 187.2 19.5 187.7 19.5 188.0 19.5" fill="none" stroke="#000000" stroke-width="1.30" stroke-linejoin="round"/>
<path d="M24.2 29.5 24.7 29.5 25.2 29.5 25.7 29.4 26.2 29.4 26.7 29.3 27.2 29.3 27.7 29.2 28.2 29.1 28.7 29.0 29.2 28.9 29.7 28.7 29.8 28.7 30.2 28.6 30.7 28.4 31.2 28.2 31.7 28.0 32.2 27.8 32.7 27.5 33.2 27.2 33.7 27.0 34.2 26.7 34.7 26.5 35.2 26.2 35.6 26.0 35.7 26.0 36.2 25.7 36.7 25.4 37.2 25.2 37.7 24.9 38.2 24.7 38.7 24.4 39.2 24.1 39.7 23.9 40.2 23.6 40.7 23.4 41.2 23.2 41.4 23.1 41.7 23.0 42.2 22.8 42.7 22.6 43.2 22.4 43.7 22.2 44.2 22.0 44.7 21.8 45.2 21.6 45.7 21.4 46.2 21.3 46.7 21.2 47.2 21.0 47.3 21.0 47.7 20.9 48.2 20.8 48.7 20.7 49.2 20.6 49.7 20.5 50.2 20.4 50.7 20.3 51.2 20.2 51.7 20.1 52.2 20.0 52.7 20.0 53.2 19.9 53.7 19.9 54.2 19.9 54.7 20.0 55.0 20.0 55.2 20.0 55.7 20.1 56.2 20.3 56.7 20.4 57.2 20.6 57.7 20.8 58.2 21.0 58.7 21.3 58.8 21.3 59.2 21.5 59.7 21.7 60.2 22.0 60.7 22.3 61.2 22.6 61.7 22.9 62.2 23.2 62.6 23.4 62.7 23.4 63.2 23.7 63.7 24.0 64.2 24.3 64.7 24.6 65.2 24.8 65.7 25.1 66.2 25.4 66.5 25.6 66.7 25.7 67.2 26.1 67.7 26.4 68.2 26.7 68.7 27.1 69.2 27.4 69.7 27.8 70.2 28.2 70.3 28.3 70.7 28.6 71.2 29.1 71.7 29.6 72.2 30.1 72.7 30.6 73.2 31.1 73.7 31.7 74.0 32.0 74.2 32.2 74.7 32.8 75.2 33.4 75.7 34.0 76.2 34.6 76.7 35.3 77.2 36.0 77.7 36.7 77.8 36.9 78.2 37.6 78.7 38.5 79.2 39.5 79.7 40.5 80.2 41.6 80.3 41.8 80.7 42.7 81.2 43.8 81.7 45.0 82.2 46.2 82.7 47.5 83.0 48.2 83.2 48.7 83.7 49.9 84.2 51.2 84.7 52.4 85.2 53.7 85.7 54.9 86.2 56.2 86.3 56.4 86.7 57.4 87.2 58.6 87.7 59.9 88.2 61.1 88.7 62.4 89.2 63.6 89.6 64.6 89.7 64.8 90.2 66.1 90.7 67.3 91.2 68.5 91.7 69.7 92.2 71.0 92.7 72.3 92.9 72.8 93.2 73.6 93.7 75.0 94.2 76.5 94.7 78.0 95.2 79.6 95.4 80.2 95.7 81.2 96.2 82.9 96.7 84.7 97.2 86.6 97.7 88.5 98.2 90.5 98.2 90.5 98.7 92.6 99.2 94.7 99.7 97.0 100.1 98.9 100.2 99.4 100.7 101.9 101.2 104.6 101.7 107.2 102.2 109.9 102.6 112.0 102.7 112.5 103.2 115.2 103.7 117.7 104.2 119.9 104.2 119.9 104.7 121.7 105.2 123.2 105.7 124.0 105.8 124.0 106.2 123.6 106.7 122.6 106.9 122.1 107.2 121.3 107.7 119.9 108.2 118.2 108.3 117.8 108.7 116.3 109.2 114.2 109.7 112.0 110.2 109.8 110.7 107.5 110.8 107.1 111.2 105.3 111.7 103.0 112.2 100.8 112.7 98.6 113.2 96.5 113.2 96.5 113.7 94.6 114.2 92.8 114.7 91.0 115.2 89.3 115.7 87.6 116.2 86.0 116.5 85.0 116.7 84.4 117.2 82.8 117.7 81.2 118.2 79.6 118.7 78.1 119.2 76.6 119.7 75.1 119.9 74.5 120.2 73.6 120.7 72.1 121.2 70.7 121.7 69.2 122.2 67.8 122.7 66.4 123.2 65.0 123.3 64.7 123.7 63.6 124.2 62.2 124.7 60.8 125.2 59.4 125.7 58.1 126.1 57.0 126.2 56.7 126.7 55.4 127.2 54.1 127.7 52.9 128.2 51.6 128.7 50.4 129.1 49.5 129.2 49.3 129.7 48.2 130.2 47.1 130.7 46.0 131.2 44.9 131.7 43.9 132.2 42.9 132.7 41.9 132.9 41.5 133.2 40.9 133.7 40.0 134.2 39.0 134.7 38.1 135.2 37.1 135.7 36.2 136.2 35.4 136.7 34.5 137.0 34.0 137.2 33.7 137.7 32.8 138.2 32.0 138.7 31.3 139.2 30.5 139.7 29.8 140.1 29.2 140.2 29.0 140.7 28.3 141.2 27.5 141.7 26.8 142.2 26.1 142.7 25.4 143.0 25.0 143.2 24.8 143.7 24.2 144.2 23.5 144.7 22.9 145.2 22.3 145.7 21.8 146.2 21.3 146.5 21.0 146.7 20.8 147.2 20.4 147.7 20.0 148.2 19.6 148.7 19.2 149.2 18.9 149.7 18.6 150.0 18.4 150.2 18.3 150.7 18.1 151.2 17.8 151.7 17.6 152.2 17.4 152.7 17.1 153.2 16.9 153.7 16.8 154.2 16.6 154.7 16.5 155.0 16.4 155.2 16.4 155.7 16.2 156.2 16.1 156.7 16.0 157.2 15.9 157.7 15.8 158.2 15.7 158.7 15.6 159.2 15.6 159.7 15.6 160.1 15.6 160.2 15.6 160.7 15.6 161.2 15.7 161.7 15.7 162.2 15.8 162.7 15.9 163.2 15.9 163.7 16.0 164.2 16.1 164.7 16.2 165.2 16.3 165.7 16.3 166.2 16.4 166.7 16.5 167.2 16.6 167.7 16.7 168.2 16.8 168.7 16.9 169.2 17.0 169.7 17.0 170.2 17.1 170.7 17.2 171.2 17.3 171.7 17.4 172.2 17.5 172.7 17.6 173.2 17.7 173.7 17.8 174.2 17.9 174.7 18.0 175.2 18.1 175.3 18.1 175.7 18.2 176.2 18.3 176.7 18.4 177.2 18.4 177.7 18.5 178.2 18.6 178.7 18.7 179.2 18.8 179.7 18.9 180.2 19.0 180.7 19.1 181.2 19.1 181.7 19.2 182.2 19.3 182.7 19.3 183.2 19.4 183.3 19.4 183.7 19.4 184.2 19.5 184.7 19.5 185.2 19.5 185.7 19.5 186.2 19.5 186.7 19.5 187.2 19.5 187.7 19.5 188.0 19.5" fill="none" stroke="#ff0000" stroke-width="1.15" stroke-dasharray="2.6 1.8" stroke-linejoin="round"/>
<path d="M24.2 29.5 24.7 29.5 25.2 29.5 25.7 29.4 26.2 29.4 26.7 29.3 27.2 29.3 27.7 29.2 28.2 29.1 28.7 29.0 29.2 28.9 29.7 28.7 29.8 28.7 30.2 28.6 30.7 28.4 31.2 28.2 31.7 28.0 32.2 27.8 32.7 27.5 33.2 27.2 33.7 27.0 34.2 26.7 34.7 26.5 35.2 26.2 35.6 26.0 35.7 26.0 36.2 25.7 36.7 25.4 37.2 25.2 37.7 24.9 38.2 24.7 38.7 24.4 39.2 24.1 39.7 23.9 40.2 23.6 40.7 23.4 41.2 23.2 41.4 23.1 41.7 23.0 42.2 22.8 42.7 22.6 43.2 22.4 43.7 22.2 44.2 22.0 44.7 21.8 45.2 21.6 45.7 21.4 46.2 21.3 46.7 21.2 47.2 21.0 47.3 21.0 47.7 20.9 48.2 20.8 48.7 20.7 49.2 20.6 49.7 20.5 50.2 20.4 50.7 20.3 51.2 20.2 51.7 20.1 52.2 20.0 52.7 20.0 53.2 19.9 53.7 19.9 54.2 19.9 54.7 20.0 55.0 20.0 55.2 20.0 55.7 20.1 56.2 20.3 56.7 20.4 57.2 20.6 57.7 20.8 58.2 21.0 58.7 21.3 58.8 21.3 59.2 21.5 59.7 21.7 60.2 22.0 60.7 22.3 61.2 22.6 61.7 22.9 62.2 23.2 62.5 23.4 62.7 23.5 63.2 23.8 63.7 24.1 64.2 24.4 64.7 24.7 65.2 25.0 65.7 25.3 66.2 25.6 66.2 25.6 66.7 25.9 67.2 26.2 67.7 26.6 68.2 26.9 68.7 27.3 69.2 27.7 69.7 28.1 70.0 28.3 70.2 28.5 70.7 28.9 71.2 29.4 71.7 29.9 72.2 30.4 72.7 30.9 73.2 31.5 73.7 32.0 74.2 32.6 74.7 33.1 75.2 33.7 75.7 34.4 76.2 35.0 76.7 35.7 77.2 36.4 77.5 36.9 77.7 37.2 78.2 38.1 78.7 39.1 79.2 40.1 79.7 41.2 80.0 41.8 80.2 42.2 80.7 43.4 81.2 44.5 81.7 45.8 82.2 47.0 82.7 48.2 83.2 49.4 83.7 50.7 84.2 51.9 84.7 53.2 85.2 54.4 85.7 55.7 86.0 56.4 86.2 56.9 86.7 58.1 87.2 59.4 87.7 60.6 88.2 61.9 88.7 63.1 89.2 64.4 89.3 64.6 89.7 65.6 90.2 66.8 90.7 68.0 91.2 69.2 91.7 70.5 92.2 71.8 92.6 72.8 92.7 73.1 93.2 74.4 93.7 75.9 94.2 77.4 94.7 78.9 95.1 80.2 95.2 80.5 95.7 82.2 96.2 84.0 96.7 85.8 97.2 87.7 97.7 89.7 97.9 90.5 98.2 91.7 98.7 93.8 99.2 96.1 99.7 98.4 99.8 98.9 100.2 100.9 100.7 103.5 101.2 106.1 101.7 108.8 102.2 111.5 102.3 112.0 102.7 114.2 103.2 116.9 103.7 119.4 103.9 120.2 104.2 121.3 104.7 123.1 105.2 124.3 105.5 124.5 105.7 124.4 106.2 123.6 106.6 122.6 106.7 122.3 107.2 120.8 107.7 118.9 108.0 117.8 108.2 117.0 108.7 115.0 109.2 112.8 109.7 110.6 110.2 108.4 110.5 107.1 110.7 106.2 111.2 104.0 111.7 101.7 112.2 99.4 112.7 97.3 112.9 96.5 113.2 95.3 113.7 93.5 114.2 91.7 114.7 90.0 115.2 88.3 115.7 86.6 116.2 85.0 116.7 83.4 117.2 81.8 117.7 80.3 118.2 78.7 118.7 77.2 119.2 75.7 119.6 74.5 119.7 74.2 120.2 72.7 120.7 71.3 121.2 69.8 121.7 68.4 122.2 67.0 122.7 65.5 123.0 64.7 123.2 64.1 123.7 62.7 124.2 61.3 124.7 60.0 125.2 58.6 125.7 57.3 125.8 57.0 126.2 56.0 126.7 54.7 127.2 53.4 127.7 52.1 128.2 50.9 128.7 49.7 128.8 49.5 129.2 48.6 129.7 47.5 130.2 46.4 130.7 45.3 131.2 44.3 131.7 43.3 132.2 42.3 132.6 41.5 132.7 41.3 133.2 40.3 133.7 39.4 134.2 38.4 134.7 37.5 135.2 36.6 135.7 35.7 136.2 34.9 136.7 34.0 136.7 34.0 137.2 33.2 137.7 32.4 138.2 31.6 138.7 30.9 139.2 30.1 139.7 29.4 139.9 29.2 140.2 28.7 140.7 28.0 141.2 27.3 141.7 26.6 142.2 25.9 142.7 25.3 142.9 25.0 143.2 24.6 143.7 24.0 144.2 23.4 144.7 22.8 145.2 22.3 145.7 21.7 146.2 21.2 146.5 21.0 146.7 20.8 147.2 20.4 147.7 20.0 148.2 19.6 148.7 19.2 149.2 18.9 149.7 18.6 150.0 18.4 150.2 18.3 150.7 18.1 151.2 17.8 151.7 17.6 152.2 17.4 152.7 17.1 153.2 16.9 153.7 16.8 154.2 16.6 154.7 16.5 155.0 16.4 155.2 16.4 155.7 16.2 156.2 16.1 156.7 16.0 157.2 15.9 157.7 15.8 158.2 15.7 158.7 15.6 159.2 15.6 159.7 15.6 160.1 15.6 160.2 15.6 160.7 15.6 161.2 15.7 161.7 15.7 162.2 15.8 162.7 15.9 163.2 15.9 163.7 16.0 164.2 16.1 164.7 16.2 165.2 16.3 165.7 16.3 166.2 16.4 166.7 16.5 167.2 16.6 167.7 16.7 168.2 16.8 168.7 16.9 169.2 17.0 169.7 17.0 170.2 17.1 170.7 17.2 171.2 17.3 171.7 17.4 172.2 17.5 172.7 17.6 173.2 17.7 173.7 17.8 174.2 17.9 174.7 18.0 175.2 18.1 175.3 18.1 175.7 18.2 176.2 18.3 176.7 18.4 177.2 18.4 177.7 18.5 178.2 18.6 178.7 18.7 179.2 18.8 179.7 18.9 180.2 19.0 180.7 19.1 181.2 19.1 181.7 19.2 182.2 19.3 182.7 19.3 183.2 19.4 183.3 19.4 183.7 19.4 184.2 19.5 184.7 19.5 185.2 19.5 185.7 19.5 186.2 19.5 186.7 19.5 187.2 19.5 187.7 19.5 188.0 19.5" fill="none" stroke="#0000ff" stroke-width="1.15" stroke-dasharray="1.1 1.0" stroke-linejoin="round"/>
<path d="M24.2 29.5 24.7 29.5 25.2 29.5 25.7 29.4 26.2 29.4 26.7 29.3 27.2 29.3 27.7 29.2 28.2 29.1 28.7 29.0 29.2 28.9 29.7 28.7 29.8 28.7 30.2 28.6 30.7 28.4 31.2 28.2 31.7 28.0 32.2 27.8 32.7 27.5 33.2 27.2 33.7 27.0 34.2 26.7 34.7 26.5 35.2 26.2 35.6 26.0 35.7 26.0 36.2 25.7 36.7 25.4 37.2 25.2 37.7 24.9 38.2 24.7 38.7 24.4 39.2 24.1 39.7 23.9 40.2 23.6 40.7 23.4 41.2 23.2 41.4 23.1 41.7 23.0 42.2 22.8 42.7 22.6 43.2 22.4 43.7 22.2 44.2 22.0 44.7 21.8 45.2 21.6 45.7 21.4 46.2 21.3 46.7 21.2 47.2 21.0 47.3 21.0 47.7 20.9 48.2 20.8 48.7 20.7 49.2 20.6 49.7 20.5 50.2 20.4 50.7 20.3 51.2 20.2 51.7 20.1 52.2 20.0 52.7 20.0 53.2 19.9 53.7 19.9 54.2 19.9 54.7 20.0 55.0 20.0 55.2 20.0 55.7 20.1 56.2 20.3 56.7 20.4 57.2 20.6 57.7 20.8 58.2 21.0 58.7 21.3 58.8 21.3 59.2 21.5 59.7 21.7 60.2 22.0 60.7 22.3 61.2 22.6 61.7 22.9 62.2 23.2 62.5 23.4 62.7 23.5 63.2 23.8 63.7 24.1 64.2 24.4 64.7 24.7 65.2 25.0 65.7 25.3 66.2 25.6 66.2 25.6 66.7 25.9 67.2 26.3 67.7 26.6 68.2 27.0 68.7 27.4 69.2 27.7 69.7 28.1 69.9 28.3 70.2 28.6 70.7 29.0 71.2 29.5 71.7 30.0 72.2 30.5 72.7 31.0 73.2 31.6 73.6 32.0 73.7 32.1 74.2 32.7 74.7 33.3 75.2 33.9 75.7 34.5 76.2 35.2 76.7 35.9 77.2 36.6 77.4 36.9 77.7 37.4 78.2 38.3 78.7 39.3 79.2 40.3 79.7 41.4 79.9 41.8 80.2 42.5 80.7 43.6 81.2 44.8 81.7 46.0 82.2 47.2 82.6 48.2 82.7 48.4 83.2 49.7 83.7 50.9 84.2 52.2 84.7 53.4 85.2 54.7 85.7 55.9 85.9 56.4 86.2 57.1 86.7 58.4 87.2 59.6 87.7 60.9 88.2 62.1 88.7 63.4 89.2 64.6 89.7 65.8 90.2 67.0 90.7 68.3 91.2 69.5 91.7 70.7 92.2 72.0 92.5 72.8 92.7 73.3 93.2 74.7 93.7 76.2 94.2 77.7 94.7 79.2 95.0 80.2 95.2 80.9 95.7 82.6 96.2 84.4 96.7 86.2 97.2 88.1 97.7 90.1 97.8 90.5 98.2 92.1 98.7 94.3 99.2 96.5 99.7 98.9 100.2 101.4 100.7 104.0 101.2 106.6 101.7 109.3 102.2 112.0 102.7 114.8 103.2 117.6 103.7 120.1 103.8 120.5 104.2 122.1 104.7 123.8 105.2 124.9 105.4 125.0 105.7 124.9 106.2 123.9 106.5 123.1 106.7 122.5 107.2 120.7 107.7 118.6 107.9 117.8 108.2 116.6 108.7 114.5 109.2 112.3 109.7 110.2 110.2 108.0 110.4 107.1 110.7 105.8 111.2 103.5 111.7 101.2 112.2 99.0 112.7 96.9 112.8 96.5 113.2 95.0 113.7 93.1 114.2 91.3 114.7 89.6 115.2 87.9 115.7 86.3 116.1 85.0 116.2 84.7 116.7 83.1 117.2 81.5 117.7 79.9 118.2 78.4 118.7 76.9 119.2 75.4 119.5 74.5 119.7 73.9 120.2 72.4 120.7 71.0 121.2 69.5 121.7 68.1 122.2 66.7 122.7 65.3 122.9 64.7 123.2 63.9 123.7 62.5 124.2 61.1 124.7 59.7 125.2 58.3 125.7 57.0 126.2 55.7 126.7 54.4 127.2 53.1 127.7 51.9 128.2 50.7 128.7 49.5 129.2 48.4 129.7 47.3 130.2 46.2 130.7 45.1 131.2 44.1 131.7 43.1 132.2 42.1 132.5 41.5 132.7 41.1 133.2 40.1 133.7 39.2 134.2 38.3 134.7 37.3 135.2 36.4 135.7 35.5 136.2 34.7 136.6 34.0 136.7 33.9 137.2 33.1 137.7 32.3 138.2 31.5 138.7 30.8 139.2 30.0 139.7 29.3 139.8 29.2 140.2 28.6 140.7 27.9 141.2 27.2 141.7 26.5 142.2 25.8 142.7 25.2 142.9 25.0 143.2 24.6 143.7 24.0 144.2 23.4 144.7 22.8 145.2 22.2 145.7 21.7 146.2 21.2 146.5 21.0 146.7 20.8 147.2 20.4 147.7 19.9 148.2 19.6 148.7 19.2 149.2 18.9 149.7 18.6 150.0 18.4 150.2 18.3 150.7 18.1 151.2 17.8 151.7 17.6 152.2 17.4 152.7 17.1 153.2 16.9 153.7 16.8 154.2 16.6 154.7 16.5 155.0 16.4 155.2 16.4 155.7 16.2 156.2 16.1 156.7 16.0 157.2 15.9 157.7 15.8 158.2 15.7 158.7 15.6 159.2 15.6 159.7 15.6 160.1 15.6 160.2 15.6 160.7 15.6 161.2 15.7 161.7 15.7 162.2 15.8 162.7 15.9 163.2 15.9 163.7 16.0 164.2 16.1 164.7 16.2 165.2 16.3 165.7 16.3 166.2 16.4 166.7 16.5 167.2 16.6 167.7 16.7 168.2 16.8 168.7 16.9 169.2 17.0 169.7 17.0 170.2 17.1 170.7 17.2 171.2 17.3 171.7 17.4 172.2 17.5 172.7 17.6 173.2 17.7 173.7 17.8 174.2 17.9 174.7 18.0 175.2 18.1 175.3 18.1 175.7 18.2 176.2 18.3 176.7 18.4 177.2 18.4 177.7 18.5 178.2 18.6 178.7 18.7 179.2 18.8 179.7 18.9 180.2 19.0 180.7 19.1 181.2 19.1 181.7 19.2 182.2 19.3 182.7 19.3 183.2 19.4 183.3 19.4 183.7 19.4 184.2 19.5 184.7 19.5 185.2 19.5 185.7 19.5 186.2 19.5 186.7 19.5 187.2 19.5 187.7 19.5 188.0 19.5" fill="none" stroke="#6a6a6a" stroke-width="0.90" stroke-dasharray="3.6 1.4 0.9 1.6" stroke-linejoin="round"/>
<path d="M24.2 29.5 24.7 29.5 25.2 29.5 25.7 29.4 26.2 29.4 26.7 29.3 27.2 29.3 27.7 29.2 28.2 29.1 28.7 29.0 29.2 28.9 29.7 28.7 29.8 28.7 30.2 28.6 30.7 28.4 31.2 28.2 31.7 28.0 32.2 27.8 32.7 27.5 33.2 27.2 33.7 27.0 34.2 26.7 34.7 26.5 35.2 26.2 35.6 26.0 35.7 26.0 36.2 25.7 36.7 25.4 37.2 25.2 37.7 24.9 38.2 24.7 38.7 24.4 39.2 24.1 39.7 23.9 40.2 23.6 40.7 23.4 41.2 23.2 41.4 23.1 41.7 23.0 42.2 22.8 42.7 22.6 43.2 22.4 43.7 22.2 44.2 22.0 44.7 21.8 45.2 21.6 45.7 21.4 46.2 21.3 46.7 21.2 47.2 21.0 47.3 21.0 47.7 20.9 48.2 20.8 48.7 20.7 49.2 20.6 49.7 20.5 50.2 20.4 50.7 20.3 51.2 20.2 51.7 20.1 52.2 20.0 52.7 20.0 53.2 19.9 53.7 19.9 54.2 19.9 54.7 20.0 55.0 20.0 55.2 20.0 55.7 20.1 56.2 20.3 56.7 20.4 57.2 20.6 57.7 20.8 58.2 21.0 58.7 21.3 58.8 21.3 59.2 21.5 59.7 21.8 60.2 22.0 60.7 22.4 61.2 22.7 61.7 23.0 62.2 23.3 62.4 23.4 62.7 23.6 63.2 23.9 63.7 24.2 64.2 24.5 64.7 24.8 65.2 25.2 65.7 25.5 65.9 25.6 66.2 25.8 66.7 26.2 67.2 26.5 67.7 26.9 68.2 27.3 68.7 27.7 69.2 28.1 69.5 28.3 69.7 28.5 70.2 28.9 70.7 29.4 71.2 29.9 71.7 30.4 72.2 30.9 72.7 31.5 73.2 32.0 73.7 32.6 74.2 33.1 74.7 33.7 75.2 34.4 75.7 35.0 76.2 35.7 76.7 36.4 77.0 36.9 77.2 37.2 77.7 38.1 78.2 39.1 78.7 40.1 79.2 41.2 79.5 41.8 79.7 42.2 80.2 43.4 80.7 44.5 81.2 45.8 81.7 47.0 82.2 48.2 82.7 49.4 83.2 50.7 83.7 51.9 84.2 53.2 84.7 54.4 85.2 55.7 85.5 56.4 85.7 56.9 86.2 58.1 86.7 59.4 87.2 60.6 87.7 61.9 88.2 63.1 88.7 64.4 88.8 64.6 89.2 65.6 89.7 66.8 90.2 68.0 90.7 69.2 91.2 70.5 91.7 71.8 92.1 72.8 92.2 73.1 92.7 74.4 93.2 75.9 93.7 77.4 94.2 78.9 94.6 80.2 94.7 80.5 95.2 82.2 95.7 84.0 96.2 85.8 96.7 87.7 97.2 89.7 97.4 90.5 97.7 91.7 98.2 93.9 98.7 96.1 99.2 98.4 99.3 98.9 99.7 100.9 100.2 103.4 100.7 106.0 101.2 108.7 101.7 111.5 101.8 112.0 102.2 114.3 102.7 117.5 103.2 120.3 103.4 121.3 103.7 122.6 104.2 124.6 104.7 125.9 105.0 126.3 105.2 126.3 105.7 125.6 106.1 124.4 106.2 124.0 106.7 121.8 107.2 119.2 107.5 117.8 107.7 116.9 108.2 114.7 108.7 112.6 109.2 110.5 109.7 108.4 110.0 107.1 110.2 106.2 110.7 104.0 111.2 101.7 111.7 99.4 112.2 97.3 112.4 96.5 112.7 95.3 113.2 93.5 113.7 91.7 114.2 90.0 114.7 88.3 115.2 86.6 115.7 85.0 116.2 83.4 116.7 81.8 117.2 80.3 117.7 78.7 118.2 77.2 118.7 75.7 119.1 74.5 119.2 74.2 119.7 72.7 120.2 71.3 120.7 69.8 121.2 68.4 121.7 67.0 122.2 65.5 122.5 64.7 122.7 64.1 123.2 62.7 123.7 61.3 124.2 60.0 124.7 58.6 125.2 57.3 125.3 57.0 125.7 56.0 126.2 54.7 126.7 53.4 127.2 52.1 127.7 50.9 128.2 49.7 128.3 49.5 128.7 48.6 129.2 47.5 129.7 46.4 130.2 45.3 130.7 44.3 131.2 43.3 131.7 42.3 132.1 41.5 132.2 41.3 132.7 40.3 133.2 39.4 133.7 38.4 134.2 37.5 134.7 36.6 135.2 35.7 135.7 34.9 136.2 34.0 136.2 34.0 136.7 33.3 137.2 32.5 137.7 31.7 138.2 31.0 138.7 30.3 139.2 29.6 139.5 29.2 139.7 28.9 140.2 28.2 140.7 27.5 141.2 26.9 141.7 26.2 142.2 25.6 142.7 25.0 142.7 25.0 143.2 24.4 143.7 23.8 144.2 23.2 144.7 22.7 145.2 22.1 145.7 21.6 146.2 21.2 146.4 21.0 146.7 20.7 147.2 20.3 147.7 19.9 148.2 19.5 148.7 19.2 149.2 18.8 149.7 18.6 150.0 18.4 150.2 18.3 150.7 18.1 151.2 17.8 151.7 17.6 152.2 17.4 152.7 17.1 153.2 16.9 153.7 16.8 154.2 16.6 154.7 16.5 155.0 16.4 155.2 16.4 155.7 16.2 156.2 16.1 156.7 16.0 157.2 15.9 157.7 15.8 158.2 15.7 158.7 15.6 159.2 15.6 159.7 15.6 160.1 15.6 160.2 15.6 160.7 15.6 161.2 15.7 161.7 15.7 162.2 15.8 162.7 15.9 163.2 15.9 163.7 16.0 164.2 16.1 164.7 16.2 165.2 16.3 165.7 16.3 166.2 16.4 166.7 16.5 167.2 16.6 167.7 16.7 168.2 16.8 168.7 16.9 169.2 17.0 169.7 17.0 170.2 17.1 170.7 17.2 171.2 17.3 171.7 17.4 172.2 17.5 172.7 17.6 173.2 17.7 173.7 17.8 174.2 17.9 174.7 18.0 175.2 18.1 175.3 18.1 175.7 18.2 176.2 18.3 176.7 18.4 177.2 18.4 177.7 18.5 178.2 18.6 178.7 18.7 179.2 18.8 179.7 18.9 180.2 19.0 180.7 19.1 181.2 19.1 181.7 19.2 182.2 19.3 182.7 19.3 183.2 19.4 183.3 19.4 183.7 19.4 184.2 19.5 184.7 19.5 185.2 19.5 185.7 19.5 186.2 19.5 186.7 19.5 187.2 19.5 187.7 19.5 188.0 19.5" fill="none" stroke="#008000" stroke-width="1.25" stroke-dasharray="5.7 2.3 1.8 2.3" stroke-linejoin="round"/>
</g>
<line x1="28" y1="90.20" x2="44.2" y2="90.20" fill="none" stroke="#000000" stroke-width="1.30"/>
<text x="45.2" y="92.60" font-size="7.20"><tspan font-style="italic" font-size="7.5">W</tspan><tspan font-size="5.2" dy="1.7">1</tspan><tspan dy="-1.7"> </tspan>= 0.01&#955;<tspan font-size="5.0" dy="1.6">0</tspan></text>
<line x1="28" y1="100.75" x2="44.2" y2="100.75" fill="none" stroke="#ff0000" stroke-width="1.15" stroke-dasharray="2.6 1.8"/>
<text x="45.2" y="103.15" font-size="7.20"><tspan font-style="italic" font-size="7.5">W</tspan><tspan font-size="5.2" dy="1.7">1</tspan><tspan dy="-1.7"> </tspan>= 0.015&#955;<tspan font-size="5.0" dy="1.6">0</tspan></text>
<line x1="28" y1="111.30" x2="44.2" y2="111.30" fill="none" stroke="#0000ff" stroke-width="1.15" stroke-dasharray="1.1 1.0"/>
<text x="45.2" y="113.70" font-size="7.20"><tspan font-style="italic" font-size="7.5">W</tspan><tspan font-size="5.2" dy="1.7">1</tspan><tspan dy="-1.7"> </tspan>= 0.02&#955;<tspan font-size="5.0" dy="1.6">0</tspan></text>
<line x1="28" y1="121.85" x2="44.2" y2="121.85" fill="none" stroke="#6a6a6a" stroke-width="0.90" stroke-dasharray="3.6 1.4 0.9 1.6"/>
<text x="45.2" y="124.25" font-size="7.20"><tspan font-style="italic" font-size="7.5">W</tspan><tspan font-size="5.2" dy="1.7">1</tspan><tspan dy="-1.7"> </tspan>= 0.025&#955;<tspan font-size="5.0" dy="1.6">0</tspan></text>
<line x1="28" y1="132.40" x2="44.2" y2="132.40" fill="none" stroke="#008000" stroke-width="1.25" stroke-dasharray="5.7 2.3 1.8 2.3"/>
<text x="45.2" y="134.80" font-size="7.20"><tspan font-style="italic" font-size="7.5">W</tspan><tspan font-size="5.2" dy="1.7">1</tspan><tspan dy="-1.7"> </tspan>= 0.03&#955;<tspan font-size="5.0" dy="1.6">0</tspan></text>
<rect x="24.20" y="6.90" width="163.80" height="134.00" fill="none" stroke="#303030" stroke-width="1.15"/>
<line x1="24.20" y1="140.90" x2="24.20" y2="138.90" stroke="#303030" stroke-width="0.9"/>
<text x="24.20" y="149.60" font-size="7.40" text-anchor="middle">2.8</text>
<line x1="44.67" y1="140.90" x2="44.67" y2="139.70" stroke="#303030" stroke-width="0.9"/>
<line x1="65.15" y1="140.90" x2="65.15" y2="138.90" stroke="#303030" stroke-width="0.9"/>
<text x="65.15" y="149.60" font-size="7.40" text-anchor="middle">2.9</text>
<line x1="85.62" y1="140.90" x2="85.62" y2="139.70" stroke="#303030" stroke-width="0.9"/>
<line x1="106.10" y1="140.90" x2="106.10" y2="138.90" stroke="#303030" stroke-width="0.9"/>
<text x="106.10" y="149.60" font-size="7.40" text-anchor="middle">3.0</text>
<line x1="126.58" y1="140.90" x2="126.58" y2="139.70" stroke="#303030" stroke-width="0.9"/>
<line x1="147.05" y1="140.90" x2="147.05" y2="138.90" stroke="#303030" stroke-width="0.9"/>
<text x="147.05" y="149.60" font-size="7.40" text-anchor="middle">3.1</text>
<line x1="167.53" y1="140.90" x2="167.53" y2="139.70" stroke="#303030" stroke-width="0.9"/>
<line x1="188.00" y1="140.90" x2="188.00" y2="138.90" stroke="#303030" stroke-width="0.9"/>
<text x="188.00" y="149.60" font-size="7.40" text-anchor="middle">3.2</text>
<line x1="24.20" y1="6.90" x2="26.20" y2="6.90" stroke="#303030" stroke-width="0.9"/>
<text x="21.60" y="9.30" font-size="7.40" text-anchor="end">0</text>
<line x1="24.20" y1="18.07" x2="25.40" y2="18.07" stroke="#303030" stroke-width="0.9"/>
<line x1="24.20" y1="29.23" x2="26.20" y2="29.23" stroke="#303030" stroke-width="0.9"/>
<text x="21.60" y="31.63" font-size="7.40" text-anchor="end">-5</text>
<line x1="24.20" y1="40.40" x2="25.40" y2="40.40" stroke="#303030" stroke-width="0.9"/>
<line x1="24.20" y1="51.57" x2="26.20" y2="51.57" stroke="#303030" stroke-width="0.9"/>
<text x="21.60" y="53.97" font-size="7.40" text-anchor="end">-10</text>
<line x1="24.20" y1="62.73" x2="25.40" y2="62.73" stroke="#303030" stroke-width="0.9"/>
<line x1="24.20" y1="73.90" x2="26.20" y2="73.90" stroke="#303030" stroke-width="0.9"/>
<text x="21.60" y="76.30" font-size="7.40" text-anchor="end">-15</text>
<line x1="24.20" y1="85.07" x2="25.40" y2="85.07" stroke="#303030" stroke-width="0.9"/>
<line x1="24.20" y1="96.23" x2="26.20" y2="96.23" stroke="#303030" stroke-width="0.9"/>
<text x="21.60" y="98.63" font-size="7.40" text-anchor="end">-20</text>
<line x1="24.20" y1="107.40" x2="25.40" y2="107.40" stroke="#303030" stroke-width="0.9"/>
<line x1="24.20" y1="118.57" x2="26.20" y2="118.57" stroke="#303030" stroke-width="0.9"/>
<text x="21.60" y="120.97" font-size="7.40" text-anchor="end">-25</text>
<line x1="24.20" y1="129.73" x2="25.40" y2="129.73" stroke="#303030" stroke-width="0.9"/>
<line x1="24.20" y1="140.90" x2="26.20" y2="140.90" stroke="#303030" stroke-width="0.9"/>
<text x="21.60" y="143.30" font-size="7.40" text-anchor="end">-30</text>
<text x="106.10" y="162.00" font-size="7.40" text-anchor="middle">Frequency (GHz)</text>
<text transform="translate(7.5 73.90) rotate(-90)" font-size="7.40" text-anchor="middle">Reflection Coefficient (dB)</text>
<text x="96.80" y="176.60" font-size="7.60" font-weight="bold" text-anchor="middle">(b)</text>
</g>
<g transform="translate(0 186)">
<clipPath id="cpc"><rect x="24.20" y="6.40" width="163.80" height="134.50"/></clipPath>
<g clip-path="url(#cpc)">
<path d="M24.2 30.7 24.7 30.6 25.2 30.6 25.7 30.5 26.2 30.4 26.7 30.2 27.2 30.1 27.7 29.9 28.2 29.7 28.7 29.6 29.1 29.4 29.2 29.4 29.7 29.1 30.2 28.9 30.7 28.6 31.2 28.3 31.7 28.0 32.2 27.7 32.7 27.4 33.2 27.1 33.7 26.8 34.1 26.6 34.2 26.5 34.7 26.3 35.2 26.0 35.7 25.7 36.2 25.5 36.7 25.2 37.2 24.9 37.7 24.7 38.2 24.4 38.7 24.1 39.2 23.9 39.7 23.7 40.2 23.4 40.7 23.2 41.2 22.9 41.7 22.7 42.2 22.4 42.7 22.2 43.2 22.0 43.7 21.8 44.2 21.6 44.7 21.4 45.2 21.2 45.7 21.1 46.2 20.9 46.7 20.8 47.2 20.6 47.7 20.5 48.2 20.3 48.7 20.2 49.2 20.1 49.3 20.1 49.7 20.0 50.2 19.9 50.7 19.8 51.2 19.7 51.7 19.7 52.2 19.6 52.7 19.5 53.2 19.5 53.7 19.4 54.2 19.4 54.3 19.4 54.7 19.4 55.2 19.4 55.7 19.5 56.2 19.5 56.7 19.6 57.2 19.7 57.7 19.8 58.2 19.9 58.7 20.0 59.2 20.1 59.4 20.1 59.7 20.2 60.2 20.3 60.7 20.5 61.2 20.6 61.7 20.8 62.2 21.1 62.7 21.3 63.2 21.5 63.4 21.6 63.7 21.7 64.2 22.0 64.7 22.3 65.2 22.6 65.7 23.0 66.2 23.3 66.7 23.6 67.2 24.0 67.7 24.3 68.2 24.7 68.7 25.1 69.2 25.5 69.7 25.9 70.2 26.3 70.3 26.4 70.7 26.8 71.2 27.2 71.7 27.7 72.2 28.2 72.7 28.8 73.2 29.3 73.7 29.9 74.2 30.5 74.4 30.7 74.7 31.1 75.2 31.7 75.7 32.3 76.2 32.9 76.7 33.6 77.2 34.3 77.7 35.0 78.2 35.7 78.5 36.1 78.7 36.4 79.2 37.1 79.7 37.8 80.2 38.5 80.7 39.3 81.2 40.1 81.7 40.8 82.2 41.6 82.6 42.3 82.7 42.5 83.2 43.3 83.7 44.2 84.2 45.2 84.7 46.1 85.2 47.1 85.7 48.1 86.0 48.7 86.2 49.1 86.7 50.1 87.2 51.2 87.7 52.2 88.2 53.3 88.7 54.4 89.2 55.6 89.3 55.8 89.7 56.7 90.2 57.9 90.7 59.1 91.2 60.3 91.7 61.5 92.2 62.8 92.5 63.5 92.7 64.0 93.2 65.2 93.7 66.4 94.2 67.7 94.7 68.9 95.2 70.1 95.7 71.4 95.8 71.6 96.2 72.6 96.7 73.9 97.2 75.1 97.7 76.4 98.2 77.6 98.7 78.8 99.2 80.0 99.3 80.2 99.7 81.1 100.2 82.1 100.7 83.2 101.2 84.2 101.7 85.1 102.2 85.9 102.5 86.3 102.7 86.6 103.2 87.2 103.7 87.9 104.2 88.4 104.7 88.7 105.2 88.8 105.7 88.6 106.2 88.3 106.7 87.7 107.2 87.1 107.7 86.4 108.0 86.0 108.2 85.7 108.7 84.9 109.2 84.1 109.7 83.1 110.2 82.2 110.7 81.1 111.2 80.1 111.6 79.3 111.7 79.1 112.2 78.0 112.7 76.9 113.2 75.7 113.7 74.6 114.2 73.5 114.7 72.4 115.2 71.4 115.7 70.3 116.2 69.3 116.7 68.2 117.2 67.2 117.7 66.2 118.2 65.1 118.5 64.5 118.7 64.1 119.2 63.1 119.7 62.0 120.2 61.0 120.7 60.0 121.2 58.9 121.7 57.9 122.2 56.9 122.7 55.9 122.9 55.5 123.2 54.9 123.7 53.9 124.2 52.9 124.7 51.9 125.2 50.9 125.7 49.9 126.2 49.0 126.5 48.4 126.7 48.0 127.2 47.1 127.7 46.3 128.2 45.4 128.7 44.6 129.2 43.7 129.7 42.9 130.1 42.3 130.2 42.1 130.7 41.4 131.2 40.6 131.7 39.8 132.2 39.0 132.7 38.3 133.2 37.5 133.7 36.8 134.2 36.1 134.7 35.4 135.1 34.8 135.2 34.7 135.7 34.0 136.2 33.3 136.7 32.6 137.2 32.0 137.7 31.3 138.2 30.7 138.7 30.0 139.2 29.4 139.7 28.8 140.2 28.2 140.7 27.6 141.2 27.0 141.7 26.4 142.2 25.8 142.7 25.2 143.2 24.7 143.7 24.1 144.2 23.6 144.7 23.1 145.2 22.6 145.7 22.1 146.2 21.7 146.7 21.2 147.2 20.8 147.7 20.3 148.2 19.9 148.7 19.6 149.2 19.2 149.7 18.9 150.2 18.6 150.3 18.6 150.7 18.4 151.2 18.2 151.7 18.0 152.2 17.8 152.7 17.6 153.2 17.4 153.7 17.3 154.2 17.1 154.7 17.0 155.2 16.9 155.3 16.9 155.7 16.8 156.2 16.8 156.7 16.7 157.2 16.6 157.7 16.5 158.2 16.5 158.7 16.4 159.2 16.4 159.7 16.3 160.2 16.3 160.4 16.3 160.7 16.3 161.2 16.3 161.7 16.3 162.2 16.3 162.7 16.4 163.2 16.4 163.7 16.5 164.2 16.5 164.7 16.6 164.9 16.6 165.2 16.6 165.7 16.7 166.2 16.8 166.7 16.9 167.2 17.0 167.7 17.2 168.2 17.3 168.7 17.4 169.2 17.5 169.7 17.7 170.2 17.8 170.7 17.9 171.2 18.0 171.7 18.1 171.8 18.1 172.2 18.2 172.7 18.2 173.2 18.3 173.7 18.4 174.2 18.5 174.7 18.5 175.2 18.6 175.7 18.7 176.2 18.7 176.7 18.8 177.2 18.9 177.7 18.9 178.2 19.0 178.7 19.0 179.2 19.1 179.7 19.2 180.2 19.2 180.7 19.3 181.2 19.4 181.3 19.4 181.7 19.5 182.2 19.5 182.7 19.6 183.2 19.7 183.7 19.8 184.2 19.8 184.7 19.9 185.2 20.0 185.7 20.0 186.2 20.1 186.7 20.2 187.2 20.3 187.7 20.4 188.0 20.4" fill="none" stroke="#000000" stroke-width="1.30" stroke-linejoin="round"/>
<path d="M24.2 30.7 24.7 30.6 25.2 30.6 25.7 30.5 26.2 30.4 26.7 30.2 27.2 30.1 27.7 29.9 28.2 29.7 28.7 29.6 29.1 29.4 29.2 29.4 29.7 29.1 30.2 28.9 30.7 28.6 31.2 28.3 31.7 28.0 32.2 27.7 32.7 27.4 33.2 27.1 33.7 26.8 34.1 26.6 34.2 26.5 34.7 26.3 35.2 26.0 35.7 25.7 36.2 25.5 36.7 25.2 37.2 24.9 37.7 24.7 38.2 24.4 38.7 24.1 39.2 23.9 39.7 23.7 40.2 23.4 40.7 23.2 41.2 22.9 41.7 22.7 42.2 22.4 42.7 22.2 43.2 22.0 43.7 21.8 44.2 21.6 44.7 21.4 45.2 21.2 45.7 21.1 46.2 20.9 46.7 20.8 47.2 20.6 47.7 20.5 48.2 20.3 48.7 20.2 49.2 20.1 49.3 20.1 49.7 20.0 50.2 19.9 50.7 19.8 51.2 19.7 51.7 19.7 52.2 19.6 52.7 19.5 53.2 19.5 53.7 19.4 54.2 19.4 54.3 19.4 54.7 19.4 55.2 19.4 55.7 19.5 56.2 19.5 56.7 19.6 57.2 19.7 57.7 19.8 58.2 19.9 58.7 20.0 59.2 20.1 59.7 20.2 60.0 20.3 60.2 20.3 60.7 20.5 61.2 20.7 61.7 20.9 62.2 21.1 62.7 21.4 63.2 21.6 63.4 21.7 63.7 21.8 64.2 22.1 64.7 22.4 65.2 22.8 65.7 23.1 66.2 23.5 66.7 23.9 67.2 24.4 67.7 24.9 68.2 25.5 68.7 26.0 69.2 26.6 69.7 27.2 70.2 27.8 70.3 27.9 70.7 28.4 71.2 28.9 71.7 29.5 72.2 30.1 72.7 30.7 73.2 31.4 73.7 32.0 74.2 32.6 74.4 32.9 74.7 33.3 75.2 34.0 75.7 34.7 76.2 35.4 76.7 36.1 77.2 36.8 77.7 37.6 78.2 38.3 78.5 38.8 78.7 39.1 79.2 39.9 79.7 40.8 80.2 41.6 80.7 42.5 81.2 43.4 81.7 44.3 82.2 45.2 82.6 46.0 82.7 46.2 83.2 47.2 83.7 48.2 84.2 49.2 84.7 50.3 85.2 51.4 85.7 52.6 86.2 53.8 86.7 55.0 87.2 56.3 87.7 57.7 88.2 59.2 88.7 60.7 89.2 62.2 89.3 62.5 89.7 63.7 90.2 65.1 90.7 66.6 91.2 68.1 91.7 69.6 92.2 71.1 92.5 72.0 92.7 72.6 93.2 74.1 93.7 75.6 94.2 77.1 94.7 78.7 95.2 80.3 95.7 82.0 95.8 82.3 96.2 83.7 96.7 85.6 97.2 87.6 97.7 89.7 98.2 91.8 98.5 93.0 98.7 93.8 99.2 96.0 99.7 98.2 100.2 100.5 100.7 102.7 101.2 104.8 101.5 106.0 101.7 106.8 102.2 108.6 102.7 110.3 103.2 112.0 103.5 113.0 103.7 113.7 104.2 115.7 104.7 117.6 105.2 118.6 105.3 118.7 105.7 118.4 106.2 117.3 106.7 115.8 107.0 115.0 107.2 114.5 107.7 113.2 108.2 111.8 108.7 110.4 109.2 109.0 109.7 107.5 110.2 106.0 110.7 104.4 111.2 102.8 111.7 101.1 112.2 99.3 112.7 97.5 113.2 95.8 113.7 94.0 114.2 92.2 114.7 90.4 115.0 89.4 115.2 88.7 115.7 86.9 116.2 85.1 116.7 83.3 117.2 81.5 117.7 79.7 118.2 78.0 118.7 76.3 119.2 74.7 119.6 73.5 119.7 73.2 120.2 71.8 120.7 70.5 121.2 69.2 121.7 67.9 122.2 66.7 122.7 65.5 123.2 64.4 123.7 63.2 124.2 62.0 124.7 60.9 125.1 59.9 125.2 59.7 125.7 58.5 126.2 57.3 126.7 56.1 127.2 54.9 127.7 53.7 128.2 52.5 128.7 51.3 129.2 50.1 129.7 48.9 130.2 47.8 130.6 46.8 130.7 46.6 131.2 45.3 131.7 44.1 132.2 42.8 132.7 41.5 133.2 40.3 133.7 39.1 134.2 38.0 134.7 36.9 134.9 36.5 135.2 35.9 135.7 35.0 136.2 34.2 136.7 33.3 137.2 32.6 137.7 31.8 138.2 31.0 138.5 30.6 138.7 30.3 139.2 29.6 139.7 28.9 140.2 28.2 140.7 27.6 141.2 27.0 141.7 26.4 142.2 25.8 142.7 25.2 143.2 24.6 143.7 24.1 144.2 23.6 144.7 23.1 145.2 22.6 145.7 22.1 146.2 21.7 146.7 21.2 147.2 20.8 147.7 20.3 148.2 19.9 148.7 19.6 149.2 19.2 149.7 18.9 150.2 18.6 150.3 18.6 150.7 18.4 151.2 18.2 151.7 18.0 152.2 17.8 152.7 17.6 153.2 17.4 153.7 17.3 154.2 17.1 154.7 17.0 155.2 16.9 155.3 16.9 155.7 16.8 156.2 16.8 156.7 16.7 157.2 16.6 157.7 16.5 158.2 16.5 158.7 16.4 159.2 16.4 159.7 16.3 160.2 16.3 160.4 16.3 160.7 16.3 161.2 16.3 161.7 16.3 162.2 16.3 162.7 16.4 163.2 16.4 163.7 16.5 164.2 16.5 164.7 16.6 164.9 16.6 165.2 16.6 165.7 16.7 166.2 16.8 166.7 16.9 167.2 17.0 167.7 17.2 168.2 17.3 168.7 17.4 169.2 17.5 169.7 17.7 170.2 17.8 170.7 17.9 171.2 18.0 171.7 18.1 171.8 18.1 172.2 18.2 172.7 18.2 173.2 18.3 173.7 18.4 174.2 18.5 174.7 18.5 175.2 18.6 175.7 18.7 176.2 18.7 176.7 18.8 177.2 18.9 177.7 18.9 178.2 19.0 178.7 19.0 179.2 19.1 179.7 19.2 180.2 19.2 180.7 19.3 181.2 19.4 181.3 19.4 181.7 19.5 182.2 19.5 182.7 19.6 183.2 19.7 183.7 19.8 184.2 19.8 184.7 19.9 185.2 20.0 185.7 20.0 186.2 20.1 186.7 20.2 187.2 20.3 187.7 20.4 188.0 20.4" fill="none" stroke="#ff0000" stroke-width="1.15" stroke-dasharray="2.6 1.8" stroke-linejoin="round"/>
<path d="M24.2 30.7 24.7 30.6 25.2 30.6 25.7 30.5 26.2 30.4 26.7 30.2 27.2 30.1 27.7 29.9 28.2 29.7 28.7 29.6 29.1 29.4 29.2 29.4 29.7 29.1 30.2 28.9 30.7 28.6 31.2 28.3 31.7 28.0 32.2 27.7 32.7 27.4 33.2 27.1 33.7 26.8 34.1 26.6 34.2 26.5 34.7 26.3 35.2 26.0 35.7 25.7 36.2 25.5 36.7 25.2 37.2 24.9 37.7 24.7 38.2 24.4 38.7 24.1 39.2 23.9 39.7 23.7 40.2 23.4 40.7 23.2 41.2 22.9 41.7 22.7 42.2 22.4 42.7 22.2 43.2 22.0 43.7 21.8 44.2 21.6 44.7 21.4 45.2 21.2 45.7 21.1 46.2 20.9 46.7 20.8 47.2 20.6 47.7 20.5 48.2 20.3 48.7 20.2 49.2 20.1 49.3 20.1 49.7 20.0 50.2 19.9 50.7 19.8 51.2 19.7 51.7 19.7 52.2 19.6 52.7 19.5 53.2 19.5 53.7 19.4 54.2 19.4 54.3 19.4 54.7 19.4 55.2 19.4 55.7 19.5 56.2 19.5 56.7 19.6 57.2 19.7 57.7 19.8 58.2 19.9 58.7 20.0 59.2 20.1 59.7 20.2 60.0 20.3 60.2 20.3 60.7 20.5 61.2 20.7 61.7 20.9 62.2 21.1 62.7 21.4 63.2 21.6 63.4 21.7 63.7 21.8 64.2 22.1 64.7 22.4 65.2 22.8 65.7 23.1 66.2 23.5 66.7 23.9 67.2 24.4 67.7 24.9 68.2 25.5 68.7 26.0 69.2 26.6 69.7 27.2 70.2 27.8 70.3 27.9 70.7 28.4 71.2 28.9 71.7 29.5 72.2 30.1 72.7 30.7 73.2 31.4 73.7 32.0 74.2 32.6 74.4 32.9 74.7 33.3 75.2 34.0 75.7 34.7 76.2 35.4 76.7 36.1 77.2 36.8 77.7 37.6 78.2 38.3 78.5 38.8 78.7 39.1 79.2 39.9 79.7 40.8 80.2 41.6 80.7 42.5 81.2 43.4 81.7 44.3 82.2 45.2 82.6 46.0 82.7 46.2 83.2 47.2 83.7 48.2 84.2 49.2 84.7 50.3 85.2 51.4 85.7 52.6 86.2 53.8 86.7 55.0 87.2 56.3 87.7 57.7 88.2 59.2 88.7 60.7 89.2 62.2 89.3 62.5 89.7 63.7 90.2 65.1 90.7 66.6 91.2 68.1 91.7 69.6 92.2 71.1 92.5 72.0 92.7 72.6 93.2 74.1 93.7 75.6 94.2 77.1 94.7 78.7 95.2 80.3 95.7 82.0 95.8 82.3 96.2 83.7 96.7 85.6 97.2 87.6 97.7 89.7 98.2 91.8 98.5 93.0 98.7 93.8 99.2 96.0 99.7 98.2 100.2 100.4 100.7 102.6 101.2 104.7 101.5 106.0 101.7 106.8 102.2 108.9 102.7 110.9 103.2 112.9 103.7 114.9 104.0 116.0 104.2 116.8 104.7 119.0 105.2 121.1 105.7 122.8 106.2 123.7 106.3 123.8 106.7 123.5 107.2 122.2 107.7 120.5 108.0 119.5 108.2 118.9 108.7 117.3 109.2 115.6 109.7 113.8 110.2 112.0 110.7 110.1 111.0 109.0 111.2 108.2 111.7 106.3 112.2 104.2 112.7 102.1 113.2 100.0 113.7 97.9 114.2 95.8 114.7 93.7 115.2 91.7 115.5 90.5 115.7 89.7 116.2 87.7 116.7 85.7 117.2 83.8 117.7 81.8 118.2 79.9 118.7 78.1 119.2 76.3 119.7 74.7 120.0 73.8 120.2 73.2 120.7 71.8 121.2 70.4 121.7 69.1 122.2 67.9 122.7 66.7 123.2 65.5 123.7 64.3 124.2 63.1 124.7 61.9 125.2 60.7 125.4 60.2 125.7 59.5 126.2 58.2 126.7 57.0 127.2 55.8 127.7 54.5 128.2 53.3 128.7 52.1 129.2 50.9 129.7 49.7 130.2 48.5 130.7 47.2 130.8 47.0 131.2 46.0 131.7 44.8 132.2 43.5 132.7 42.2 133.2 41.0 133.7 39.8 134.2 38.6 134.7 37.5 135.1 36.7 135.2 36.5 135.7 35.5 136.2 34.6 136.7 33.8 137.2 33.0 137.7 32.1 138.2 31.3 138.6 30.7 138.7 30.5 139.2 29.7 139.7 28.9 140.2 28.2 140.7 27.6 141.2 26.9 141.7 26.3 142.2 25.7 142.7 25.2 143.2 24.6 143.7 24.1 144.2 23.6 144.7 23.1 145.2 22.6 145.7 22.1 146.2 21.7 146.7 21.2 147.2 20.8 147.7 20.4 148.2 19.9 148.7 19.6 149.2 19.2 149.7 18.9 150.2 18.6 150.3 18.6 150.7 18.4 151.2 18.2 151.7 18.0 152.2 17.8 152.7 17.6 153.2 17.4 153.7 17.3 154.2 17.1 154.7 17.0 155.2 16.9 155.3 16.9 155.7 16.8 156.2 16.8 156.7 16.7 157.2 16.6 157.7 16.5 158.2 16.5 158.7 16.4 159.2 16.4 159.7 16.3 160.2 16.3 160.4 16.3 160.7 16.3 161.2 16.3 161.7 16.3 162.2 16.3 162.7 16.4 163.2 16.4 163.7 16.5 164.2 16.5 164.7 16.6 164.9 16.6 165.2 16.6 165.7 16.7 166.2 16.8 166.7 16.9 167.2 17.0 167.7 17.2 168.2 17.3 168.7 17.4 169.2 17.5 169.7 17.7 170.2 17.8 170.7 17.9 171.2 18.0 171.7 18.1 171.8 18.1 172.2 18.2 172.7 18.2 173.2 18.3 173.7 18.4 174.2 18.5 174.7 18.5 175.2 18.6 175.7 18.7 176.2 18.7 176.7 18.8 177.2 18.9 177.7 18.9 178.2 19.0 178.7 19.0 179.2 19.1 179.7 19.2 180.2 19.2 180.7 19.3 181.2 19.4 181.3 19.4 181.7 19.5 182.2 19.5 182.7 19.6 183.2 19.7 183.7 19.8 184.2 19.8 184.7 19.9 185.2 20.0 185.7 20.0 186.2 20.1 186.7 20.2 187.2 20.3 187.7 20.4 188.0 20.4" fill="none" stroke="#0000ff" stroke-width="1.15" stroke-dasharray="1.1 1.0" stroke-linejoin="round"/>
<path d="M24.2 31.0 24.7 31.1 25.2 31.1 25.7 31.2 26.2 31.2 26.7 31.3 27.2 31.3 27.5 31.3 27.7 31.3 28.2 31.3 28.7 31.3 29.2 31.3 29.7 31.3 30.2 31.3 30.7 31.3 31.2 31.2 31.7 31.2 32.1 31.2 32.2 31.2 32.7 31.1 33.2 31.1 33.7 31.0 34.2 30.8 34.7 30.7 35.2 30.5 35.7 30.3 36.2 30.1 36.7 29.9 37.1 29.7 37.2 29.7 37.7 29.4 38.2 29.0 38.7 28.6 39.2 28.1 39.7 27.7 40.2 27.2 40.7 26.7 41.2 26.2 41.7 25.8 42.0 25.5 42.2 25.3 42.7 24.9 43.2 24.5 43.7 24.1 44.2 23.7 44.7 23.3 45.2 22.9 45.7 22.5 46.2 22.1 46.7 21.8 47.2 21.5 47.3 21.4 47.7 21.2 48.2 20.9 48.7 20.6 49.2 20.4 49.7 20.3 50.0 20.2 50.2 20.2 50.7 20.1 51.2 20.0 51.7 20.0 52.2 19.9 52.7 19.9 53.2 19.8 53.7 19.8 54.2 19.8 54.7 19.8 55.2 19.8 55.7 19.8 56.2 19.8 56.7 19.9 57.2 19.9 57.7 19.9 58.2 20.0 58.7 20.1 59.2 20.2 59.7 20.2 60.0 20.3 60.2 20.3 60.7 20.5 61.2 20.7 61.7 20.9 62.2 21.1 62.7 21.4 63.2 21.6 63.4 21.7 63.7 21.9 64.2 22.1 64.7 22.4 65.2 22.8 65.7 23.1 66.2 23.5 66.7 23.9 67.2 24.4 67.7 24.9 68.2 25.5 68.7 26.0 69.2 26.6 69.7 27.2 70.2 27.8 70.3 27.9 70.7 28.4 71.2 28.9 71.7 29.5 72.2 30.1 72.7 30.7 73.2 31.4 73.7 32.0 74.2 32.6 74.4 32.9 74.7 33.3 75.2 34.0 75.7 34.7 76.2 35.4 76.7 36.1 77.2 36.8 77.7 37.6 78.2 38.3 78.5 38.8 78.7 39.1 79.2 39.9 79.7 40.8 80.2 41.6 80.7 42.5 81.2 43.4 81.7 44.3 82.2 45.2 82.6 46.0 82.7 46.2 83.2 47.2 83.7 48.2 84.2 49.2 84.7 50.3 85.2 51.4 85.7 52.6 86.2 53.8 86.7 55.0 87.2 56.3 87.7 57.7 88.2 59.2 88.7 60.7 89.2 62.2 89.3 62.5 89.7 63.7 90.2 65.1 90.7 66.6 91.2 68.1 91.7 69.6 92.2 71.1 92.5 72.0 92.7 72.6 93.2 74.1 93.7 75.6 94.2 77.1 94.7 78.7 95.2 80.3 95.7 82.0 95.8 82.3 96.2 83.7 96.7 85.6 97.2 87.6 97.7 89.7 98.2 91.8 98.5 93.0 98.7 93.8 99.2 96.0 99.7 98.2 100.2 100.4 100.7 102.6 101.2 104.7 101.5 106.0 101.7 106.8 102.2 108.9 102.7 110.9 103.2 112.9 103.7 114.8 104.0 116.0 104.2 116.8 104.7 119.0 105.2 121.3 105.7 123.2 106.2 124.3 106.4 124.5 106.7 124.4 107.2 123.5 107.7 121.9 108.2 120.3 108.3 120.0 108.7 118.8 109.2 117.3 109.7 115.6 110.2 114.0 110.7 112.2 111.2 110.4 111.3 110.0 111.7 108.5 112.2 106.4 112.7 104.3 113.2 102.2 113.7 100.0 114.2 97.8 114.7 95.6 115.2 93.5 115.7 91.4 115.8 91.0 116.2 89.4 116.7 87.4 117.2 85.3 117.7 83.3 118.2 81.4 118.7 79.4 119.2 77.6 119.7 75.9 120.2 74.3 120.3 74.0 120.7 72.8 121.2 71.4 121.7 70.1 122.2 68.8 122.7 67.5 123.2 66.3 123.7 65.1 124.2 63.9 124.7 62.7 125.2 61.5 125.6 60.5 125.7 60.3 126.2 59.0 126.7 57.8 127.2 56.6 127.7 55.3 128.2 54.1 128.7 52.9 129.2 51.7 129.7 50.5 130.2 49.2 130.7 48.0 131.0 47.3 131.2 46.8 131.7 45.6 132.2 44.3 132.7 43.1 133.2 41.8 133.7 40.6 134.2 39.4 134.7 38.2 135.2 37.1 135.3 36.9 135.7 36.1 136.2 35.1 136.7 34.1 137.2 33.2 137.7 32.3 138.2 31.5 138.7 30.6 139.2 29.7 139.7 28.9 140.2 28.2 140.7 27.6 141.2 26.9 141.7 26.3 142.2 25.7 142.7 25.1 143.2 24.6 143.7 24.1 144.2 23.6 144.7 23.1 145.2 22.6 145.7 22.1 146.2 21.7 146.7 21.2 147.2 20.8 147.7 20.4 148.2 19.9 148.7 19.6 149.2 19.2 149.7 18.9 150.2 18.6 150.3 18.6 150.7 18.4 151.2 18.2 151.7 18.0 152.2 17.8 152.7 17.6 153.2 17.4 153.7 17.3 154.2 17.1 154.7 17.0 155.2 16.9 155.3 16.9 155.7 16.8 156.2 16.8 156.7 16.7 157.2 16.6 157.7 16.5 158.2 16.5 158.7 16.4 159.2 16.4 159.7 16.3 160.2 16.3 160.4 16.3 160.7 16.3 161.2 16.3 161.7 16.3 162.2 16.3 162.7 16.4 163.2 16.4 163.7 16.5 164.2 16.5 164.7 16.6 164.9 16.6 165.2 16.6 165.7 16.7 166.2 16.8 166.7 16.9 167.2 17.0 167.7 17.2 168.2 17.3 168.7 17.4 169.2 17.5 169.7 17.7 170.2 17.8 170.7 17.9 171.2 18.0 171.7 18.1 171.8 18.1 172.2 18.2 172.7 18.2 173.2 18.3 173.7 18.4 174.2 18.5 174.7 18.5 175.2 18.6 175.7 18.7 176.2 18.7 176.7 18.8 177.2 18.9 177.7 18.9 178.2 19.0 178.7 19.0 179.2 19.1 179.7 19.2 180.2 19.2 180.7 19.3 181.2 19.4 181.3 19.4 181.7 19.5 182.2 19.5 182.7 19.6 183.2 19.7 183.7 19.8 184.2 19.8 184.7 19.9 185.2 20.0 185.7 20.0 186.2 20.1 186.7 20.2 187.2 20.3 187.7 20.4 188.0 20.4" fill="none" stroke="#6a6a6a" stroke-width="0.90" stroke-dasharray="3.6 1.4 0.9 1.6" stroke-linejoin="round"/>
<path d="M24.2 42.7 24.7 43.2 25.2 43.7 25.7 44.1 26.0 44.3 26.2 44.4 26.7 44.7 27.2 45.0 27.7 45.2 28.2 45.3 28.7 45.3 29.2 45.2 29.7 44.9 30.2 44.6 30.5 44.3 30.7 44.1 31.2 43.2 31.7 42.1 32.2 40.7 32.7 39.3 33.2 38.0 33.7 36.9 34.1 36.2 34.2 36.1 34.7 35.5 35.2 34.9 35.7 34.4 36.2 33.9 36.7 33.5 37.2 33.0 37.7 32.6 38.2 32.1 38.7 31.7 39.2 31.2 39.7 30.7 40.2 30.2 40.7 29.6 41.2 29.1 41.7 28.5 42.2 28.0 42.7 27.5 43.2 27.0 43.7 26.5 44.2 26.1 44.7 25.7 45.2 25.3 45.7 24.9 46.2 24.5 46.7 24.2 47.2 23.8 47.7 23.5 48.2 23.2 48.7 22.9 49.2 22.6 49.3 22.6 49.7 22.4 50.2 22.2 50.7 21.9 51.2 21.7 51.7 21.4 52.2 21.2 52.7 21.0 53.2 20.9 53.7 20.7 54.2 20.6 54.3 20.6 54.7 20.5 55.2 20.5 55.7 20.4 56.2 20.3 56.7 20.3 57.2 20.2 57.7 20.2 58.0 20.2 58.2 20.2 58.7 20.2 59.2 20.2 59.7 20.3 60.0 20.3 60.2 20.3 60.7 20.5 61.2 20.6 61.7 20.8 62.2 21.1 62.7 21.3 63.2 21.6 63.4 21.7 63.7 21.9 64.2 22.1 64.7 22.4 65.2 22.8 65.7 23.1 66.2 23.5 66.7 23.9 67.2 24.4 67.7 24.9 68.2 25.5 68.7 26.0 69.2 26.6 69.7 27.2 70.2 27.8 70.3 27.9 70.7 28.4 71.2 28.9 71.7 29.5 72.2 30.1 72.7 30.7 73.2 31.4 73.7 32.0 74.2 32.6 74.4 32.9 74.7 33.3 75.2 34.0 75.7 34.7 76.2 35.4 76.7 36.1 77.2 36.8 77.7 37.6 78.2 38.3 78.5 38.8 78.7 39.1 79.2 39.9 79.7 40.8 80.2 41.6 80.7 42.5 81.2 43.4 81.7 44.3 82.2 45.2 82.6 46.0 82.7 46.2 83.2 47.2 83.7 48.2 84.2 49.2 84.7 50.3 85.2 51.4 85.7 52.6 86.2 53.8 86.7 55.0 87.2 56.3 87.7 57.7 88.2 59.2 88.7 60.7 89.2 62.2 89.3 62.5 89.7 63.7 90.2 65.1 90.7 66.6 91.2 68.1 91.7 69.6 92.2 71.1 92.5 72.0 92.7 72.6 93.2 74.1 93.7 75.6 94.2 77.1 94.7 78.7 95.2 80.3 95.7 82.0 95.8 82.3 96.2 83.7 96.7 85.6 97.2 87.6 97.7 89.7 98.2 91.8 98.5 93.0 98.7 93.8 99.2 96.0 99.7 98.1 100.2 100.3 100.7 102.5 101.2 104.7 101.5 106.0 101.7 106.9 102.2 109.0 102.7 111.1 103.2 113.2 103.7 115.3 104.0 116.5 104.2 117.4 104.7 119.9 105.2 122.4 105.7 124.6 106.2 126.0 106.5 126.3 106.7 126.2 107.2 125.0 107.7 123.0 108.2 121.0 108.5 120.0 108.7 119.5 109.2 118.2 109.7 117.1 110.2 116.0 110.7 114.8 111.2 113.5 111.6 112.3 111.7 112.0 112.2 110.3 112.7 108.5 113.2 106.6 113.7 104.6 114.2 102.6 114.7 100.5 115.2 98.4 115.7 96.3 116.2 94.2 116.5 93.0 116.7 92.2 117.2 90.0 117.7 87.8 118.2 85.6 118.7 83.4 119.2 81.2 119.7 79.1 120.2 77.1 120.7 75.3 120.8 75.0 121.2 73.7 121.7 72.2 122.2 70.8 122.7 69.4 123.2 68.1 123.7 66.8 124.2 65.5 124.7 64.3 125.2 63.0 125.7 61.8 126.0 61.0 126.2 60.5 126.7 59.2 127.2 57.9 127.7 56.6 128.2 55.4 128.7 54.1 129.2 52.8 129.7 51.6 130.2 50.3 130.7 49.1 131.2 47.8 131.3 47.6 131.7 46.6 132.2 45.4 132.7 44.1 133.2 42.9 133.7 41.6 134.2 40.4 134.7 39.2 135.2 38.1 135.6 37.2 135.7 37.0 136.2 35.9 136.7 34.9 137.2 33.9 137.7 33.0 138.2 32.0 138.7 31.1 139.0 30.5 139.2 30.1 139.7 29.1 140.2 28.2 140.7 27.5 141.2 26.8 141.7 26.2 142.2 25.6 142.7 25.1 143.2 24.5 143.7 24.0 144.2 23.5 144.7 23.1 145.2 22.6 145.7 22.2 146.2 21.7 146.7 21.2 147.2 20.8 147.7 20.4 148.2 20.0 148.7 19.6 149.2 19.2 149.7 18.9 150.2 18.6 150.3 18.6 150.7 18.4 151.2 18.2 151.7 18.0 152.2 17.8 152.7 17.6 153.2 17.4 153.7 17.3 154.2 17.1 154.7 17.0 155.2 16.9 155.3 16.9 155.7 16.8 156.2 16.8 156.7 16.7 157.2 16.6 157.7 16.5 158.2 16.5 158.7 16.4 159.2 16.4 159.7 16.3 160.2 16.3 160.4 16.3 160.7 16.3 161.2 16.3 161.7 16.3 162.2 16.3 162.7 16.4 163.2 16.4 163.7 16.5 164.2 16.5 164.7 16.6 164.9 16.6 165.2 16.6 165.7 16.7 166.2 16.8 166.7 16.9 167.2 17.0 167.7 17.2 168.2 17.3 168.7 17.4 169.2 17.5 169.7 17.7 170.2 17.8 170.7 17.9 171.2 18.0 171.7 18.1 171.8 18.1 172.2 18.2 172.7 18.2 173.2 18.3 173.7 18.4 174.2 18.5 174.7 18.5 175.2 18.6 175.7 18.7 176.2 18.7 176.7 18.8 177.2 18.9 177.7 18.9 178.2 19.0 178.7 19.0 179.2 19.1 179.7 19.2 180.2 19.2 180.7 19.3 181.2 19.4 181.3 19.4 181.7 19.5 182.2 19.5 182.7 19.6 183.2 19.7 183.7 19.8 184.2 19.8 184.7 19.9 185.2 20.0 185.7 20.0 186.2 20.1 186.7 20.2 187.2 20.3 187.7 20.4 188.0 20.4" fill="none" stroke="#008000" stroke-width="1.25" stroke-dasharray="5.7 2.3 1.8 2.3" stroke-linejoin="round"/>
</g>
<line x1="28" y1="90.20" x2="44.2" y2="90.20" fill="none" stroke="#000000" stroke-width="1.30"/>
<text x="45.2" y="92.60" font-size="7.20"><tspan font-style="italic" font-size="7.5">W</tspan><tspan font-size="5.2" dy="1.7">2</tspan><tspan dy="-1.7"> </tspan>= 0.01&#955;<tspan font-size="5.0" dy="1.6">0</tspan></text>
<line x1="28" y1="100.75" x2="44.2" y2="100.75" fill="none" stroke="#ff0000" stroke-width="1.15" stroke-dasharray="2.6 1.8"/>
<text x="45.2" y="103.15" font-size="7.20"><tspan font-style="italic" font-size="7.5">W</tspan><tspan font-size="5.2" dy="1.7">2</tspan><tspan dy="-1.7"> </tspan>= 0.015&#955;<tspan font-size="5.0" dy="1.6">0</tspan></text>
<line x1="28" y1="111.30" x2="44.2" y2="111.30" fill="none" stroke="#0000ff" stroke-width="1.15" stroke-dasharray="1.1 1.0"/>
<text x="45.2" y="113.70" font-size="7.20"><tspan font-style="italic" font-size="7.5">W</tspan><tspan font-size="5.2" dy="1.7">2</tspan><tspan dy="-1.7"> </tspan>= 0.02&#955;<tspan font-size="5.0" dy="1.6">0</tspan></text>
<line x1="28" y1="121.85" x2="44.2" y2="121.85" fill="none" stroke="#6a6a6a" stroke-width="0.90" stroke-dasharray="3.6 1.4 0.9 1.6"/>
<text x="45.2" y="124.25" font-size="7.20"><tspan font-style="italic" font-size="7.5">W</tspan><tspan font-size="5.2" dy="1.7">2</tspan><tspan dy="-1.7"> </tspan>= 0.025&#955;<tspan font-size="5.0" dy="1.6">0</tspan></text>
<line x1="28" y1="132.40" x2="44.2" y2="132.40" fill="none" stroke="#008000" stroke-width="1.25" stroke-dasharray="5.7 2.3 1.8 2.3"/>
<text x="45.2" y="134.80" font-size="7.20"><tspan font-style="italic" font-size="7.5">W</tspan><tspan font-size="5.2" dy="1.7">2</tspan><tspan dy="-1.7"> </tspan>= 0.03&#955;<tspan font-size="5.0" dy="1.6">0</tspan></text>
<rect x="24.20" y="6.90" width="163.80" height="134.00" fill="none" stroke="#303030" stroke-width="1.15"/>
<line x1="24.20" y1="140.90" x2="24.20" y2="138.90" stroke="#303030" stroke-width="0.9"/>
<text x="24.20" y="149.60" font-size="7.40" text-anchor="middle">2.8</text>
<line x1="44.67" y1="140.90" x2="44.67" y2="139.70" stroke="#303030" stroke-width="0.9"/>
<line x1="65.15" y1="140.90" x2="65.15" y2="138.90" stroke="#303030" stroke-width="0.9"/>
<text x="65.15" y="149.60" font-size="7.40" text-anchor="middle">2.9</text>
<line x1="85.62" y1="140.90" x2="85.62" y2="139.70" stroke="#303030" stroke-width="0.9"/>
<line x1="106.10" y1="140.90" x2="106.10" y2="138.90" stroke="#303030" stroke-width="0.9"/>
<text x="106.10" y="149.60" font-size="7.40" text-anchor="middle">3.0</text>
<line x1="126.58" y1="140.90" x2="126.58" y2="139.70" stroke="#303030" stroke-width="0.9"/>
<line x1="147.05" y1="140.90" x2="147.05" y2="138.90" stroke="#303030" stroke-width="0.9"/>
<text x="147.05" y="149.60" font-size="7.40" text-anchor="middle">3.1</text>
<line x1="167.53" y1="140.90" x2="167.53" y2="139.70" stroke="#303030" stroke-width="0.9"/>
<line x1="188.00" y1="140.90" x2="188.00" y2="138.90" stroke="#303030" stroke-width="0.9"/>
<text x="188.00" y="149.60" font-size="7.40" text-anchor="middle">3.2</text>
<line x1="24.20" y1="6.90" x2="26.20" y2="6.90" stroke="#303030" stroke-width="0.9"/>
<text x="21.60" y="9.30" font-size="7.40" text-anchor="end">0</text>
<line x1="24.20" y1="18.07" x2="25.40" y2="18.07" stroke="#303030" stroke-width="0.9"/>
<line x1="24.20" y1="29.23" x2="26.20" y2="29.23" stroke="#303030" stroke-width="0.9"/>
<text x="21.60" y="31.63" font-size="7.40" text-anchor="end">-5</text>
<line x1="24.20" y1="40.40" x2="25.40" y2="40.40" stroke="#303030" stroke-width="0.9"/>
<line x1="24.20" y1="51.57" x2="26.20" y2="51.57" stroke="#303030" stroke-width="0.9"/>
<text x="21.60" y="53.97" font-size="7.40" text-anchor="end">-10</text>
<line x1="24.20" y1="62.73" x2="25.40" y2="62.73" stroke="#303030" stroke-width="0.9"/>
<line x1="24.20" y1="73.90" x2="26.20" y2="73.90" stroke="#303030" stroke-width="0.9"/>
<text x="21.60" y="76.30" font-size="7.40" text-anchor="end">-15</text>
<line x1="24.20" y1="85.07" x2="25.40" y2="85.07" stroke="#303030" stroke-width="0.9"/>
<line x1="24.20" y1="96.23" x2="26.20" y2="96.23" stroke="#303030" stroke-width="0.9"/>
<text x="21.60" y="98.63" font-size="7.40" text-anchor="end">-20</text>
<line x1="24.20" y1="107.40" x2="25.40" y2="107.40" stroke="#303030" stroke-width="0.9"/>
<line x1="24.20" y1="118.57" x2="26.20" y2="118.57" stroke="#303030" stroke-width="0.9"/>
<text x="21.60" y="120.97" font-size="7.40" text-anchor="end">-25</text>
<line x1="24.20" y1="129.73" x2="25.40" y2="129.73" stroke="#303030" stroke-width="0.9"/>
<line x1="24.20" y1="140.90" x2="26.20" y2="140.90" stroke="#303030" stroke-width="0.9"/>
<text x="21.60" y="143.30" font-size="7.40" text-anchor="end">-30</text>
<text x="106.10" y="162.00" font-size="7.40" text-anchor="middle">Frequency (GHz)</text>
<text transform="translate(7.5 73.90) rotate(-90)" font-size="7.40" text-anchor="middle">Reflection Coefficient (dB)</text>
<text x="96.80" y="176.60" font-size="7.60" font-weight="bold" text-anchor="middle">(c)</text>
</g>
<g transform="translate(200 186)">
<clipPath id="cpd"><rect x="24.20" y="6.40" width="163.80" height="134.50"/></clipPath>
<g clip-path="url(#cpd)">
<path d="M24.2 20.7 24.7 20.7 25.2 20.6 25.7 20.6 26.2 20.5 26.7 20.5 27.2 20.4 27.7 20.3 28.2 20.3 28.7 20.2 29.2 20.1 29.7 20.0 30.2 19.9 30.7 19.8 31.2 19.7 31.7 19.6 32.2 19.5 32.3 19.5 32.7 19.4 33.2 19.3 33.7 19.2 34.2 19.0 34.7 18.9 35.2 18.7 35.7 18.6 36.2 18.4 36.7 18.3 37.2 18.1 37.7 17.9 38.2 17.8 38.7 17.6 39.2 17.4 39.7 17.3 40.2 17.1 40.7 17.0 41.2 16.9 41.7 16.7 42.2 16.6 42.7 16.4 43.2 16.3 43.7 16.1 44.2 16.0 44.7 15.8 45.2 15.7 45.7 15.6 46.2 15.4 46.7 15.3 47.2 15.2 47.7 15.0 48.2 14.9 48.7 14.8 49.2 14.7 49.7 14.6 50.2 14.6 50.7 14.5 51.2 14.5 51.7 14.4 52.2 14.4 52.7 14.4 53.2 14.5 53.7 14.5 54.2 14.5 54.7 14.6 55.2 14.7 55.7 14.7 56.2 14.8 56.7 14.9 57.2 15.0 57.3 15.0 57.7 15.1 58.2 15.2 58.7 15.3 59.2 15.5 59.7 15.7 60.2 15.9 60.7 16.1 61.2 16.3 61.7 16.5 62.0 16.6 62.2 16.7 62.7 16.9 63.2 17.2 63.7 17.5 64.2 17.8 64.7 18.1 65.2 18.5 65.7 18.9 66.2 19.3 66.7 19.7 67.1 20.1 67.2 20.2 67.7 20.7 68.2 21.3 68.7 21.9 69.2 22.5 69.7 23.2 70.2 23.9 70.7 24.7 71.2 25.4 71.7 26.1 72.1 26.7 72.2 26.8 72.7 27.6 73.2 28.3 73.7 29.0 74.2 29.8 74.7 30.5 75.2 31.3 75.7 32.1 76.1 32.7 76.2 32.9 76.7 33.7 77.2 34.5 77.7 35.3 78.2 36.1 78.7 37.0 79.2 37.8 79.7 38.6 80.2 39.3 80.7 40.0 81.2 40.8 81.7 41.5 82.2 42.2 82.7 42.8 83.2 43.4 83.7 43.9 84.2 44.4 84.7 44.8 85.2 45.1 85.7 45.5 86.2 45.7 86.5 45.8 86.7 45.9 87.2 46.0 87.7 46.1 88.2 46.1 88.5 46.1 88.7 46.1 89.2 45.9 89.7 45.6 90.2 45.2 90.4 45.0 90.7 44.7 91.2 44.0 91.7 43.3 91.8 43.1 92.2 42.4 92.7 41.6 93.2 40.6 93.7 39.8 93.8 39.6 94.2 38.9 94.7 38.1 95.2 37.3 95.7 36.6 96.1 36.1 96.2 36.0 96.7 35.4 97.2 34.9 97.7 34.4 98.2 33.9 98.7 33.4 99.2 33.0 99.7 32.6 100.2 32.2 100.7 31.9 101.2 31.5 101.7 31.2 102.2 30.8 102.7 30.5 102.9 30.3 103.2 30.1 103.7 29.7 104.2 29.3 104.7 28.9 105.2 28.5 105.7 28.1 106.2 27.7 106.7 27.3 107.2 26.9 107.7 26.5 108.2 26.1 108.7 25.7 109.2 25.3 109.7 24.9 110.2 24.5 110.5 24.3 110.7 24.1 111.2 23.7 111.7 23.3 112.2 22.9 112.7 22.5 113.2 22.1 113.5 21.9 113.7 21.8 114.2 21.4 114.7 21.0 115.2 20.7 115.7 20.4 116.0 20.2 116.2 20.1 116.7 19.8 117.2 19.5 117.7 19.2 118.2 18.9 118.7 18.7 119.2 18.4 119.7 18.1 120.2 17.9 120.4 17.8 120.7 17.7 121.2 17.4 121.7 17.2 122.2 16.9 122.7 16.7 123.2 16.5 123.7 16.3 124.2 16.1 124.7 15.8 125.2 15.6 125.5 15.5 125.7 15.4 126.2 15.2 126.7 15.0 127.2 14.8 127.7 14.6 128.2 14.4 128.7 14.2 129.2 14.0 129.7 13.8 130.2 13.6 130.7 13.4 131.2 13.2 131.7 13.1 132.2 12.9 132.7 12.7 133.2 12.6 133.7 12.4 134.2 12.3 134.7 12.1 135.2 12.0 135.7 11.9 135.9 11.8 136.2 11.7 136.7 11.6 137.2 11.5 137.7 11.4 138.2 11.2 138.7 11.1 139.2 11.0 139.7 10.9 140.2 10.8 140.7 10.8 141.1 10.7 141.2 10.7 141.7 10.6 142.2 10.6 142.7 10.5 143.2 10.5 143.7 10.4 144.2 10.4 144.7 10.3 145.2 10.3 145.7 10.2 146.2 10.2 146.3 10.2 146.7 10.2 147.2 10.1 147.7 10.1 148.2 10.1 148.7 10.1 149.2 10.1 149.7 10.0 150.2 10.0 150.7 10.0 151.2 10.0 151.7 10.1 152.2 10.1 152.6 10.1 152.7 10.1 153.2 10.2 153.7 10.2 154.2 10.3 154.7 10.4 155.2 10.5 155.7 10.6 156.2 10.7 156.7 10.8 157.2 10.9 157.7 11.1 158.2 11.2 158.7 11.3 158.9 11.3 159.2 11.4 159.7 11.5 160.2 11.5 160.7 11.6 161.2 11.7 161.7 11.8 162.2 11.9 162.7 12.0 163.2 12.1 163.7 12.2 164.2 12.3 164.7 12.4 165.2 12.5 165.3 12.5 165.7 12.6 166.2 12.7 166.7 12.7 167.2 12.8 167.7 12.9 168.2 13.0 168.7 13.1 169.2 13.1 169.7 13.2 170.2 13.3 170.7 13.4 171.2 13.4 171.6 13.5 171.7 13.5 172.2 13.6 172.7 13.7 173.2 13.7 173.7 13.8 174.2 13.9 174.7 14.0 175.2 14.0 175.7 14.1 176.2 14.2 176.7 14.2 177.2 14.3 177.7 14.4 177.9 14.4 178.2 14.4 178.7 14.5 179.2 14.6 179.7 14.6 180.2 14.7 180.7 14.8 181.2 14.8 181.7 14.9 182.2 15.0 182.7 15.0 183.2 15.1 183.7 15.2 184.2 15.2 184.7 15.3 185.2 15.4 185.7 15.4 186.2 15.5 186.7 15.5 187.2 15.6 187.7 15.7 188.0 15.7" fill="none" stroke="#000000" stroke-width="1.30" stroke-linejoin="round"/>
<path d="M24.2 20.7 24.7 20.7 25.2 20.6 25.7 20.6 26.2 20.5 26.7 20.5 27.2 20.4 27.7 20.3 28.2 20.3 28.7 20.2 29.2 20.1 29.7 20.0 30.2 19.9 30.7 19.8 31.2 19.7 31.7 19.6 32.2 19.5 32.3 19.5 32.7 19.4 33.2 19.3 33.7 19.2 34.2 19.0 34.7 18.9 35.2 18.7 35.7 18.6 36.2 18.4 36.7 18.3 37.2 18.1 37.7 17.9 38.2 17.8 38.7 17.6 39.2 17.4 39.7 17.3 40.2 17.1 40.7 17.0 41.2 16.9 41.7 16.7 42.2 16.6 42.7 16.4 43.2 16.3 43.7 16.1 44.2 16.0 44.7 15.8 45.2 15.7 45.7 15.6 46.2 15.4 46.7 15.3 47.2 15.2 47.7 15.0 48.2 14.9 48.7 14.8 49.2 14.7 49.7 14.6 50.2 14.6 50.7 14.5 51.2 14.5 51.7 14.4 52.2 14.4 52.7 14.4 53.2 14.5 53.7 14.5 54.2 14.6 54.7 14.6 55.2 14.7 55.7 14.8 56.2 14.8 56.7 14.9 57.2 15.0 57.3 15.0 57.7 15.1 58.2 15.2 58.7 15.3 59.2 15.4 59.7 15.6 60.2 15.8 60.7 16.0 61.2 16.2 61.7 16.5 62.0 16.6 62.2 16.7 62.7 17.0 63.2 17.4 63.7 17.8 64.2 18.3 64.7 18.8 65.2 19.4 65.7 20.0 66.2 20.6 66.7 21.1 67.1 21.6 67.2 21.7 67.7 22.3 68.2 22.9 68.7 23.6 69.2 24.3 69.7 25.0 70.2 25.7 70.7 26.4 71.2 27.0 71.7 27.7 72.1 28.2 72.2 28.3 72.7 29.0 73.2 29.6 73.7 30.2 74.2 30.8 74.7 31.4 75.1 31.7 75.2 31.8 75.7 32.1 76.2 32.4 76.7 32.6 77.2 32.7 77.7 32.7 78.2 32.6 78.7 32.3 79.2 31.8 79.7 31.3 80.2 30.8 80.7 30.2 81.2 29.5 81.7 28.7 82.2 27.8 82.7 26.9 83.2 26.0 83.7 25.2 84.2 24.5 84.7 23.8 85.2 23.1 85.7 22.5 86.2 21.9 86.7 21.4 87.2 21.0 87.3 20.9 87.7 20.7 88.2 20.4 88.7 20.1 89.2 19.8 89.7 19.6 90.2 19.4 90.7 19.2 91.2 19.1 91.7 19.1 91.8 19.1 92.2 19.1 92.7 19.2 93.2 19.3 93.7 19.4 94.2 19.6 94.7 19.8 95.2 20.0 95.7 20.3 96.2 20.5 96.3 20.6 96.7 20.9 97.2 21.2 97.7 21.6 98.2 22.1 98.7 22.6 99.2 23.2 99.7 23.7 100.2 24.3 100.7 24.9 101.2 25.5 101.4 25.7 101.7 26.0 102.2 26.7 102.7 27.3 103.2 28.0 103.7 28.6 104.2 29.3 104.7 30.0 105.2 30.6 105.7 31.2 106.0 31.5 106.2 31.7 106.7 32.2 107.2 32.7 107.7 33.2 108.2 33.6 108.7 34.1 109.2 34.4 109.7 34.8 110.0 35.0 110.2 35.1 110.7 35.5 111.2 35.8 111.7 36.1 112.2 36.3 112.7 36.5 113.1 36.5 113.2 36.5 113.7 36.4 114.2 36.3 114.7 36.1 115.2 35.8 115.7 35.5 116.2 35.2 116.7 34.9 117.2 34.5 117.7 34.1 118.2 33.7 118.7 33.3 119.2 32.9 119.7 32.5 119.8 32.4 120.2 32.1 120.7 31.8 121.2 31.4 121.7 31.1 122.2 30.7 122.7 30.4 123.2 30.0 123.5 29.8 123.7 29.7 124.2 29.3 124.7 28.9 125.2 28.6 125.7 28.2 126.2 27.9 126.7 27.5 127.1 27.2 127.2 27.1 127.7 26.8 128.2 26.4 128.7 26.0 129.2 25.7 129.7 25.3 130.2 25.0 130.7 24.6 131.2 24.2 131.7 23.9 132.2 23.6 132.7 23.2 133.2 22.9 133.7 22.5 134.2 22.1 134.4 22.0 134.7 21.8 135.2 21.4 135.7 21.0 136.2 20.6 136.7 20.2 137.2 19.8 137.5 19.6 137.7 19.5 138.2 19.1 138.7 18.7 139.2 18.3 139.7 18.0 140.2 17.6 140.7 17.3 141.1 17.0 141.2 16.9 141.7 16.6 142.2 16.3 142.7 16.0 143.2 15.7 143.7 15.4 144.2 15.2 144.7 14.9 145.2 14.6 145.7 14.4 146.2 14.1 146.7 13.9 147.2 13.7 147.7 13.5 148.2 13.3 148.3 13.3 148.7 13.2 149.2 13.1 149.7 13.0 150.2 12.9 150.7 12.8 151.2 12.7 151.7 12.6 152.2 12.6 152.6 12.5 152.7 12.5 153.2 12.4 153.7 12.3 154.2 12.3 154.7 12.2 155.2 12.1 155.7 12.0 156.2 12.0 156.7 11.9 157.2 11.9 157.7 11.8 158.2 11.8 158.7 11.8 158.9 11.8 159.2 11.8 159.7 11.8 160.2 11.9 160.7 11.9 161.2 12.0 161.7 12.1 162.2 12.1 162.7 12.2 163.2 12.3 163.7 12.4 164.2 12.4 164.7 12.5 165.2 12.6 165.3 12.6 165.7 12.7 166.2 12.7 166.7 12.8 167.2 12.9 167.7 12.9 168.2 13.0 168.7 13.1 169.2 13.2 169.7 13.2 170.2 13.3 170.7 13.4 171.2 13.4 171.6 13.5 171.7 13.5 172.2 13.6 172.7 13.7 173.2 13.7 173.7 13.8 174.2 13.9 174.7 13.9 175.2 14.0 175.7 14.1 176.2 14.2 176.7 14.2 177.2 14.3 177.7 14.4 177.9 14.4 178.2 14.4 178.7 14.5 179.2 14.6 179.7 14.6 180.2 14.7 180.7 14.8 181.2 14.8 181.7 14.9 182.2 15.0 182.7 15.0 183.2 15.1 183.7 15.2 184.2 15.2 184.7 15.3 185.2 15.4 185.7 15.4 186.2 15.5 186.7 15.5 187.2 15.6 187.7 15.7 188.0 15.7" fill="none" stroke="#ff0000" stroke-width="1.15" stroke-dasharray="2.6 1.8" stroke-linejoin="round"/>
<path d="M24.2 20.7 24.7 20.7 25.2 20.6 25.7 20.6 26.2 20.5 26.7 20.5 27.2 20.4 27.7 20.3 28.2 20.3 28.7 20.2 29.2 20.1 29.7 20.0 30.2 19.9 30.7 19.8 31.2 19.7 31.7 19.6 32.2 19.5 32.3 19.5 32.7 19.4 33.2 19.3 33.7 19.2 34.2 19.0 34.7 18.9 35.2 18.7 35.7 18.6 36.2 18.4 36.7 18.3 37.2 18.1 37.7 17.9 38.2 17.8 38.7 17.6 39.2 17.4 39.7 17.3 40.2 17.1 40.7 17.0 41.2 16.9 41.7 16.7 42.2 16.6 42.7 16.4 43.2 16.3 43.7 16.1 44.2 16.0 44.7 15.8 45.2 15.7 45.7 15.6 46.2 15.4 46.7 15.3 47.2 15.2 47.7 15.0 48.2 14.9 48.7 14.8 49.2 14.7 49.7 14.6 50.2 14.6 50.7 14.5 51.2 14.5 51.7 14.4 52.2 14.4 52.7 14.4 53.2 14.4 53.7 14.5 54.2 14.5 54.7 14.6 55.2 14.6 55.7 14.7 56.2 14.8 56.7 14.9 57.2 15.0 57.3 15.0 57.7 15.1 58.2 15.2 58.7 15.4 59.2 15.5 59.7 15.7 60.2 15.9 60.7 16.1 61.2 16.3 61.7 16.5 62.0 16.6 62.2 16.7 62.7 16.9 63.2 17.1 63.7 17.3 64.2 17.5 64.7 17.7 65.2 17.9 65.7 18.1 66.2 18.3 66.7 18.5 67.1 18.6 67.2 18.6 67.7 18.8 68.2 19.0 68.7 19.1 69.2 19.3 69.7 19.4 70.2 19.5 70.7 19.7 71.2 19.8 71.7 20.0 72.1 20.1 72.2 20.1 72.7 20.3 73.2 20.4 73.7 20.5 74.2 20.7 74.7 20.8 75.2 20.9 75.7 21.1 76.2 21.2 76.7 21.4 77.2 21.6 77.7 21.8 78.2 22.1 78.7 22.5 79.2 22.9 79.7 23.3 80.2 23.7 80.7 24.2 81.2 24.7 81.7 25.2 82.2 25.7 82.7 26.2 83.2 26.7 83.7 27.3 84.2 27.9 84.7 28.5 85.2 29.1 85.7 29.7 86.2 30.3 86.7 30.9 87.2 31.6 87.3 31.7 87.7 32.2 88.2 32.9 88.7 33.5 89.2 34.2 89.7 34.9 90.2 35.5 90.7 36.2 91.2 36.9 91.7 37.5 92.2 38.2 92.3 38.3 92.7 38.8 93.2 39.4 93.7 40.0 94.2 40.6 94.7 41.2 95.2 41.8 95.7 42.3 96.2 42.9 96.7 43.5 97.2 44.1 97.4 44.4 97.7 44.8 98.2 45.4 98.7 46.1 99.2 46.8 99.7 47.5 100.2 48.1 100.7 48.8 101.2 49.5 101.7 50.1 102.0 50.5 102.2 50.8 102.7 51.4 103.2 52.0 103.7 52.6 104.2 53.2 104.7 53.7 105.0 54.0 105.2 54.2 105.7 54.6 106.2 55.0 106.7 55.3 107.2 55.5 107.4 55.5 107.7 55.5 108.2 55.5 108.7 55.4 109.2 55.1 109.7 54.9 110.0 54.7 110.2 54.6 110.7 54.1 111.2 53.6 111.7 53.0 112.2 52.3 112.7 51.6 112.9 51.3 113.2 50.8 113.7 50.0 114.2 49.1 114.7 48.2 115.2 47.4 115.7 46.7 116.2 46.0 116.7 45.3 117.2 44.6 117.7 44.0 118.2 43.3 118.4 43.0 118.7 42.6 119.2 41.9 119.7 41.2 120.2 40.5 120.4 40.2 120.7 39.8 121.2 39.2 121.7 38.6 122.2 37.9 122.7 37.3 123.2 36.7 123.7 36.2 124.2 35.6 124.7 35.0 125.2 34.4 125.5 34.0 125.7 33.8 126.2 33.1 126.7 32.5 127.2 31.9 127.7 31.3 128.2 30.7 128.7 30.0 129.2 29.4 129.7 28.8 130.2 28.3 130.7 27.7 131.2 27.2 131.7 26.6 132.2 26.1 132.7 25.6 133.2 25.1 133.7 24.6 134.2 24.1 134.7 23.6 135.2 23.1 135.7 22.7 135.9 22.5 136.2 22.2 136.7 21.8 137.2 21.4 137.7 21.0 138.2 20.6 138.7 20.2 139.2 19.8 139.7 19.4 140.2 19.0 140.7 18.7 141.1 18.4 141.2 18.3 141.7 18.0 142.2 17.7 142.7 17.3 143.2 17.0 143.7 16.7 144.2 16.4 144.7 16.1 145.2 15.9 145.7 15.6 146.2 15.3 146.3 15.3 146.7 15.1 147.2 14.9 147.7 14.6 148.2 14.4 148.7 14.2 149.2 14.0 149.7 13.8 150.2 13.6 150.7 13.4 151.2 13.2 151.7 13.0 152.2 12.9 152.6 12.8 152.7 12.8 153.2 12.7 153.7 12.5 154.2 12.4 154.7 12.3 155.2 12.2 155.7 12.1 156.2 12.0 156.7 11.9 157.2 11.8 157.7 11.8 158.2 11.8 158.7 11.8 158.9 11.8 159.2 11.8 159.7 11.9 160.2 11.9 160.7 12.0 161.2 12.0 161.7 12.1 162.2 12.2 162.7 12.2 163.2 12.3 163.7 12.4 164.2 12.4 164.7 12.5 165.2 12.6 165.3 12.6 165.7 12.7 166.2 12.7 166.7 12.8 167.2 12.9 167.7 12.9 168.2 13.0 168.7 13.1 169.2 13.2 169.7 13.2 170.2 13.3 170.7 13.4 171.2 13.4 171.6 13.5 171.7 13.5 172.2 13.6 172.7 13.7 173.2 13.7 173.7 13.8 174.2 13.9 174.7 13.9 175.2 14.0 175.7 14.1 176.2 14.2 176.7 14.2 177.2 14.3 177.7 14.4 177.9 14.4 178.2 14.4 178.7 14.5 179.2 14.6 179.7 14.6 180.2 14.7 180.7 14.8 181.2 14.8 181.7 14.9 182.2 15.0 182.7 15.0 183.2 15.1 183.7 15.2 184.2 15.2 184.7 15.3 185.2 15.4 185.7 15.4 186.2 15.5 186.7 15.5 187.2 15.6 187.7 15.7 188.0 15.7" fill="none" stroke="#3a3aff" stroke-width="1.00" stroke-dasharray="1.0 0.45" stroke-linejoin="round"/>
<path d="M24.2 20.7 24.7 20.7 25.2 20.6 25.7 20.6 26.2 20.5 26.7 20.5 27.2 20.4 27.7 20.3 28.2 20.3 28.7 20.2 29.2 20.1 29.7 20.0 30.2 19.9 30.7 19.8 31.2 19.7 31.7 19.6 32.2 19.5 32.3 19.5 32.7 19.4 33.2 19.3 33.7 19.2 34.2 19.0 34.7 18.9 35.2 18.7 35.7 18.6 36.2 18.4 36.7 18.3 37.2 18.1 37.7 17.9 38.2 17.8 38.7 17.6 39.2 17.4 39.7 17.3 40.2 17.1 40.7 17.0 41.2 16.9 41.7 16.7 42.2 16.6 42.7 16.4 43.2 16.3 43.7 16.1 44.2 16.0 44.7 15.8 45.2 15.7 45.7 15.6 46.2 15.4 46.7 15.3 47.2 15.2 47.7 15.0 48.2 14.9 48.7 14.8 49.2 14.7 49.7 14.6 50.2 14.6 50.7 14.5 51.2 14.5 51.7 14.4 52.2 14.4 52.7 14.4 53.2 14.4 53.7 14.5 54.2 14.5 54.7 14.6 55.2 14.7 55.7 14.7 56.2 14.8 56.7 14.9 57.2 15.0 57.3 15.0 57.7 15.1 58.2 15.2 58.7 15.3 59.2 15.5 59.7 15.7 60.2 15.8 60.7 16.0 61.2 16.3 61.7 16.5 62.0 16.6 62.2 16.7 62.7 16.9 63.2 17.2 63.7 17.5 64.2 17.8 64.7 18.0 65.2 18.4 65.7 18.7 66.2 19.0 66.7 19.3 67.1 19.5 67.2 19.6 67.7 19.8 68.2 20.1 68.7 20.4 69.2 20.7 69.7 21.0 70.2 21.3 70.7 21.6 71.2 21.9 71.7 22.2 72.1 22.5 72.2 22.6 72.7 22.9 73.2 23.3 73.7 23.6 74.2 24.0 74.7 24.4 75.2 24.8 75.7 25.2 76.2 25.6 76.7 26.1 77.2 26.5 77.7 27.0 78.2 27.4 78.7 27.9 79.2 28.5 79.7 29.0 80.2 29.6 80.7 30.2 81.2 30.8 81.7 31.4 82.2 32.0 82.7 32.7 83.2 33.3 83.7 34.1 84.2 34.8 84.7 35.6 85.2 36.3 85.7 37.1 86.2 37.9 86.7 38.6 87.2 39.4 87.3 39.5 87.7 40.1 88.2 40.7 88.7 41.4 89.2 42.0 89.7 42.7 90.2 43.3 90.7 44.0 91.2 44.7 91.7 45.4 92.2 46.2 92.7 47.0 93.2 47.9 93.7 48.9 94.2 49.9 94.7 50.9 95.2 52.0 95.7 53.1 96.2 54.2 96.5 54.9 96.7 55.4 97.2 56.5 97.7 57.7 98.2 59.0 98.7 60.2 99.2 61.5 99.7 62.8 100.2 64.1 100.7 65.3 100.9 65.8 101.2 66.5 101.7 67.7 102.2 69.0 102.7 70.2 103.2 71.3 103.5 72.0 103.7 72.5 104.2 73.8 104.7 75.2 105.2 76.2 105.7 76.7 105.8 76.7 106.2 76.4 106.7 75.5 107.2 74.5 107.5 74.0 107.7 73.7 108.2 73.1 108.7 72.6 109.2 71.9 109.6 71.3 109.7 71.1 110.2 70.0 110.7 68.7 111.2 67.3 111.7 65.8 112.2 64.3 112.7 63.0 112.9 62.5 113.2 61.8 113.7 60.6 114.2 59.4 114.7 58.3 115.2 57.2 115.7 56.0 116.2 55.0 116.7 53.9 117.2 52.9 117.7 51.9 118.2 50.9 118.4 50.5 118.7 49.9 119.2 49.0 119.7 48.2 120.2 47.3 120.7 46.5 121.2 45.7 121.7 44.8 122.2 44.0 122.7 43.2 123.2 42.3 123.7 41.4 124.2 40.6 124.7 39.8 125.2 39.0 125.5 38.5 125.7 38.2 126.2 37.4 126.7 36.7 127.2 35.9 127.7 35.2 128.2 34.5 128.7 33.7 129.2 33.0 129.7 32.3 130.2 31.7 130.7 31.0 131.2 30.3 131.7 29.7 132.2 29.0 132.7 28.4 133.2 27.8 133.7 27.2 134.2 26.6 134.7 26.0 135.2 25.4 135.7 24.8 135.9 24.6 136.2 24.3 136.7 23.7 137.2 23.2 137.7 22.7 138.2 22.2 138.7 21.7 139.2 21.2 139.7 20.7 140.2 20.2 140.7 19.8 141.1 19.4 141.2 19.3 141.7 18.9 142.2 18.4 142.7 18.0 143.2 17.5 143.7 17.1 144.2 16.7 144.7 16.3 145.2 16.0 145.7 15.6 146.2 15.4 146.3 15.3 146.7 15.1 147.2 14.8 147.7 14.6 148.2 14.4 148.7 14.1 149.2 13.9 149.7 13.7 150.2 13.5 150.7 13.3 151.2 13.2 151.7 13.0 152.2 12.9 152.6 12.8 152.7 12.8 153.2 12.7 153.7 12.5 154.2 12.4 154.7 12.3 155.2 12.2 155.7 12.1 156.2 12.0 156.7 11.9 157.2 11.9 157.7 11.8 158.2 11.8 158.7 11.8 158.9 11.8 159.2 11.8 159.7 11.9 160.2 11.9 160.7 12.0 161.2 12.0 161.7 12.1 162.2 12.2 162.7 12.2 163.2 12.3 163.7 12.4 164.2 12.4 164.7 12.5 165.2 12.6 165.3 12.6 165.7 12.7 166.2 12.7 166.7 12.8 167.2 12.9 167.7 12.9 168.2 13.0 168.7 13.1 169.2 13.2 169.7 13.2 170.2 13.3 170.7 13.4 171.2 13.4 171.6 13.5 171.7 13.5 172.2 13.6 172.7 13.7 173.2 13.7 173.7 13.8 174.2 13.9 174.7 13.9 175.2 14.0 175.7 14.1 176.2 14.2 176.7 14.2 177.2 14.3 177.7 14.4 177.9 14.4 178.2 14.4 178.7 14.5 179.2 14.6 179.7 14.6 180.2 14.7 180.7 14.8 181.2 14.8 181.7 14.9 182.2 15.0 182.7 15.0 183.2 15.1 183.7 15.2 184.2 15.2 184.7 15.3 185.2 15.4 185.7 15.4 186.2 15.5 186.7 15.5 187.2 15.6 187.7 15.7 188.0 15.7" fill="none" stroke="#6a6a6a" stroke-width="0.90" stroke-dasharray="3.6 1.4 0.9 1.6" stroke-linejoin="round"/>
<path d="M24.2 20.7 24.7 20.7 25.2 20.6 25.7 20.6 26.2 20.5 26.7 20.5 27.2 20.4 27.7 20.3 28.2 20.3 28.7 20.2 29.2 20.1 29.7 20.0 30.2 19.9 30.7 19.8 31.2 19.7 31.7 19.6 32.2 19.5 32.3 19.5 32.7 19.4 33.2 19.3 33.7 19.2 34.2 19.0 34.7 18.9 35.2 18.7 35.7 18.6 36.2 18.4 36.7 18.3 37.2 18.1 37.7 17.9 38.2 17.8 38.7 17.6 39.2 17.4 39.7 17.3 40.2 17.1 40.7 17.0 41.2 16.9 41.7 16.7 42.2 16.6 42.7 16.4 43.2 16.3 43.7 16.1 44.2 16.0 44.7 15.8 45.2 15.7 45.7 15.6 46.2 15.4 46.7 15.3 47.2 15.2 47.7 15.0 48.2 14.9 48.7 14.8 49.2 14.7 49.7 14.6 50.2 14.6 50.7 14.5 51.2 14.5 51.7 14.4 52.2 14.4 52.7 14.4 53.2 14.5 53.7 14.5 54.2 14.5 54.7 14.6 55.2 14.7 55.7 14.7 56.2 14.8 56.7 14.9 57.2 15.0 57.3 15.0 57.7 15.1 58.2 15.2 58.7 15.3 59.2 15.5 59.7 15.6 60.2 15.8 60.7 16.0 61.2 16.2 61.7 16.5 62.0 16.6 62.2 16.7 62.7 17.0 63.2 17.3 63.7 17.6 64.2 17.9 64.7 18.3 65.2 18.6 65.7 19.0 66.2 19.4 66.7 19.7 67.1 20.0 67.2 20.1 67.7 20.4 68.2 20.8 68.7 21.1 69.2 21.5 69.7 21.8 70.2 22.2 70.7 22.5 71.2 22.9 71.7 23.2 72.1 23.5 72.2 23.6 72.7 23.9 73.2 24.2 73.7 24.5 74.2 24.9 74.7 25.2 75.2 25.5 75.7 25.8 76.2 26.2 76.7 26.6 77.2 27.0 77.7 27.5 78.2 28.0 78.7 28.6 79.2 29.2 79.7 29.9 80.2 30.6 80.7 31.3 81.2 32.0 81.7 32.8 82.2 33.5 82.7 34.2 83.2 35.0 83.7 35.8 84.2 36.6 84.7 37.5 85.2 38.3 85.7 39.2 86.2 40.0 86.7 40.9 87.2 41.8 87.3 42.0 87.7 42.7 88.2 43.7 88.7 44.6 89.2 45.6 89.7 46.6 90.2 47.6 90.7 48.7 91.1 49.5 91.2 49.7 91.7 50.8 92.2 51.9 92.7 53.1 93.2 54.3 93.7 55.5 94.2 56.8 94.7 58.2 95.2 59.5 95.5 60.4 95.7 61.0 96.2 62.6 96.7 64.4 97.2 66.2 97.7 68.2 98.2 70.3 98.7 72.4 99.2 74.7 99.7 77.1 100.2 79.7 100.7 82.3 100.9 83.3 101.2 84.9 101.7 87.7 102.2 90.6 102.7 93.3 103.1 95.3 103.2 95.8 103.7 98.0 104.2 99.9 104.6 101.0 104.7 101.2 105.2 102.1 105.5 102.3 105.7 102.2 106.2 101.0 106.7 97.7 106.9 96.3 107.2 94.4 107.7 91.4 108.2 88.4 108.7 85.5 109.1 83.3 109.2 82.8 109.7 80.1 110.2 77.5 110.7 75.0 111.2 72.7 111.7 70.6 111.8 70.2 112.2 68.7 112.7 66.8 113.2 65.1 113.7 63.4 114.2 61.8 114.7 60.4 115.1 59.3 115.2 59.0 115.7 57.8 116.2 56.5 116.7 55.3 117.2 54.1 117.7 53.0 118.2 51.9 118.7 50.9 119.2 49.9 119.4 49.5 119.7 48.9 120.2 48.0 120.7 47.2 121.2 46.3 121.7 45.5 122.2 44.7 122.7 44.0 123.2 43.3 123.7 42.6 124.2 41.9 124.7 41.3 125.2 40.6 125.5 40.2 125.7 39.9 126.2 39.2 126.7 38.5 127.2 37.8 127.7 37.1 128.2 36.4 128.7 35.7 129.2 35.0 129.7 34.3 130.2 33.6 130.7 32.9 131.2 32.2 131.7 31.5 132.2 30.8 132.7 30.1 133.2 29.4 133.7 28.7 134.2 28.0 134.7 27.3 135.2 26.6 135.7 26.0 135.9 25.7 136.2 25.3 136.7 24.7 137.2 24.0 137.7 23.3 138.2 22.7 138.7 22.1 139.2 21.5 139.7 20.9 140.2 20.3 140.7 19.8 141.1 19.4 141.2 19.3 141.7 18.8 142.2 18.4 142.7 17.9 143.2 17.5 143.7 17.1 144.2 16.7 144.7 16.3 145.2 15.9 145.7 15.6 146.2 15.4 146.3 15.3 146.7 15.1 147.2 14.9 147.7 14.6 148.2 14.4 148.7 14.1 149.2 13.9 149.7 13.7 150.2 13.5 150.7 13.3 151.2 13.2 151.7 13.0 152.2 12.9 152.6 12.8 152.7 12.8 153.2 12.7 153.7 12.5 154.2 12.4 154.7 12.3 155.2 12.2 155.7 12.1 156.2 12.0 156.7 11.9 157.2 11.9 157.7 11.8 158.2 11.8 158.7 11.8 158.9 11.8 159.2 11.8 159.7 11.9 160.2 11.9 160.7 12.0 161.2 12.0 161.7 12.1 162.2 12.2 162.7 12.2 163.2 12.3 163.7 12.4 164.2 12.4 164.7 12.5 165.2 12.6 165.3 12.6 165.7 12.7 166.2 12.7 166.7 12.8 167.2 12.9 167.7 12.9 168.2 13.0 168.7 13.1 169.2 13.2 169.7 13.2 170.2 13.3 170.7 13.4 171.2 13.4 171.6 13.5 171.7 13.5 172.2 13.6 172.7 13.7 173.2 13.7 173.7 13.8 174.2 13.9 174.7 13.9 175.2 14.0 175.7 14.1 176.2 14.2 176.7 14.2 177.2 14.3 177.7 14.4 177.9 14.4 178.2 14.4 178.7 14.5 179.2 14.6 179.7 14.6 180.2 14.7 180.7 14.8 181.2 14.8 181.7 14.9 182.2 15.0 182.7 15.0 183.2 15.1 183.7 15.2 184.2 15.2 184.7 15.3 185.2 15.4 185.7 15.4 186.2 15.5 186.7 15.5 187.2 15.6 187.7 15.7 188.0 15.7" fill="none" stroke="#008000" stroke-width="1.25" stroke-dasharray="3.6 2.2 1.2 2.2 1.2 2.2" stroke-linejoin="round"/>
<path d="M24.2 20.7 24.7 20.7 25.2 20.6 25.7 20.6 26.2 20.5 26.7 20.5 27.2 20.4 27.7 20.3 28.2 20.3 28.7 20.2 29.2 20.1 29.7 20.0 30.2 19.9 30.7 19.8 31.2 19.7 31.7 19.6 32.2 19.5 32.3 19.5 32.7 19.4 33.2 19.3 33.7 19.2 34.2 19.0 34.7 18.9 35.2 18.7 35.7 18.6 36.2 18.4 36.7 18.3 37.2 18.1 37.7 17.9 38.2 17.8 38.7 17.6 39.2 17.4 39.7 17.3 40.2 17.1 40.7 17.0 41.2 16.9 41.7 16.7 42.2 16.6 42.7 16.4 43.2 16.3 43.7 16.1 44.2 16.0 44.7 15.8 45.2 15.7 45.7 15.6 46.2 15.4 46.7 15.3 47.2 15.2 47.7 15.0 48.2 14.9 48.7 14.8 49.2 14.7 49.7 14.6 50.2 14.6 50.7 14.5 51.2 14.5 51.7 14.4 52.2 14.4 52.7 14.4 53.2 14.5 53.7 14.5 54.2 14.5 54.7 14.6 55.2 14.7 55.7 14.7 56.2 14.8 56.7 14.9 57.2 15.0 57.3 15.0 57.7 15.1 58.2 15.2 58.7 15.3 59.2 15.5 59.7 15.6 60.2 15.8 60.7 16.0 61.2 16.2 61.7 16.5 62.0 16.6 62.2 16.7 62.7 17.0 63.2 17.3 63.7 17.7 64.2 18.1 64.7 18.6 65.2 19.0 65.7 19.4 66.2 19.8 66.7 20.2 67.1 20.5 67.2 20.6 67.7 20.9 68.2 21.1 68.7 21.4 69.2 21.6 69.7 21.8 70.2 22.0 70.7 22.3 71.2 22.5 71.7 22.8 72.1 23.1 72.2 23.2 72.7 23.5 73.2 24.0 73.7 24.4 74.2 24.9 74.7 25.4 75.2 25.9 75.7 26.5 76.2 27.0 76.7 27.6 77.2 28.2 77.7 28.8 78.2 29.4 78.7 30.1 79.2 30.8 79.7 31.5 80.2 32.2 80.7 33.0 81.2 33.7 81.7 34.5 82.2 35.3 82.7 36.1 83.2 37.0 83.7 37.9 84.2 38.8 84.7 39.7 85.2 40.7 85.7 41.6 86.2 42.5 86.7 43.4 87.2 44.2 87.3 44.4 87.7 45.0 88.2 45.7 88.7 46.3 89.2 46.9 89.7 47.5 90.2 48.1 90.7 48.9 91.1 49.5 91.2 49.7 91.7 50.6 92.2 51.7 92.7 52.8 93.2 54.0 93.7 55.3 94.2 56.7 94.7 58.1 95.2 59.5 95.5 60.4 95.7 61.0 96.2 62.6 96.7 64.4 97.2 66.2 97.7 68.2 98.2 70.3 98.7 72.4 99.2 74.7 99.7 77.1 100.2 79.7 100.7 82.3 100.9 83.3 101.2 84.7 101.7 87.0 102.2 89.4 102.7 92.4 103.1 95.3 103.2 96.5 103.6 104.0 103.7 105.5 104.2 112.4 104.3 114.0 104.7 121.8 104.8 124.0 105.1 132.0 105.2 134.8 105.3 136.5 105.6 132.0 105.7 129.7 105.9 124.0 106.2 114.0 106.5 104.0 106.7 99.3 106.9 96.3 107.2 94.1 107.7 90.8 108.2 87.9 108.7 85.3 109.1 83.3 109.2 82.8 109.7 80.2 110.2 77.6 110.7 75.1 111.2 72.7 111.7 70.6 111.8 70.2 112.2 68.7 112.7 66.8 113.2 65.1 113.7 63.4 114.2 61.8 114.7 60.4 115.1 59.3 115.2 59.0 115.7 57.8 116.2 56.5 116.7 55.3 117.2 54.1 117.7 53.0 118.2 51.9 118.7 50.9 119.2 49.9 119.4 49.5 119.7 48.9 120.2 48.0 120.7 47.2 121.2 46.3 121.7 45.5 122.2 44.7 122.7 44.0 123.2 43.3 123.7 42.6 124.2 41.9 124.7 41.3 125.2 40.6 125.5 40.2 125.7 39.9 126.2 39.2 126.7 38.5 127.2 37.8 127.7 37.1 128.2 36.4 128.7 35.7 129.2 35.0 129.7 34.3 130.2 33.6 130.7 32.9 131.2 32.2 131.7 31.5 132.2 30.8 132.7 30.1 133.2 29.4 133.7 28.7 134.2 28.0 134.7 27.3 135.2 26.6 135.7 26.0 135.9 25.7 136.2 25.3 136.7 24.7 137.2 24.0 137.7 23.3 138.2 22.7 138.7 22.1 139.2 21.5 139.7 20.9 140.2 20.3 140.7 19.8 141.1 19.4 141.2 19.3 141.7 18.8 142.2 18.4 142.7 17.9 143.2 17.5 143.7 17.1 144.2 16.7 144.7 16.3 145.2 15.9 145.7 15.6 146.2 15.4 146.3 15.3 146.7 15.1 147.2 14.9 147.7 14.6 148.2 14.4 148.7 14.1 149.2 13.9 149.7 13.7 150.2 13.5 150.7 13.3 151.2 13.2 151.7 13.0 152.2 12.9 152.6 12.8 152.7 12.8 153.2 12.7 153.7 12.5 154.2 12.4 154.7 12.3 155.2 12.2 155.7 12.1 156.2 12.0 156.7 11.9 157.2 11.9 157.7 11.8 158.2 11.8 158.7 11.8 158.9 11.8 159.2 11.8 159.7 11.9 160.2 11.9 160.7 12.0 161.2 12.0 161.7 12.1 162.2 12.2 162.7 12.2 163.2 12.3 163.7 12.4 164.2 12.4 164.7 12.5 165.2 12.6 165.3 12.6 165.7 12.7 166.2 12.7 166.7 12.8 167.2 12.9 167.7 12.9 168.2 13.0 168.7 13.1 169.2 13.2 169.7 13.2 170.2 13.3 170.7 13.4 171.2 13.4 171.6 13.5 171.7 13.5 172.2 13.6 172.7 13.7 173.2 13.7 173.7 13.8 174.2 13.9 174.7 13.9 175.2 14.0 175.7 14.1 176.2 14.2 176.7 14.2 177.2 14.3 177.7 14.4 177.9 14.4 178.2 14.4 178.7 14.5 179.2 14.6 179.7 14.6 180.2 14.7 180.7 14.8 181.2 14.8 181.7 14.9 182.2 15.0 182.7 15.0 183.2 15.1 183.7 15.2 184.2 15.2 184.7 15.3 185.2 15.4 185.7 15.4 186.2 15.5 186.7 15.5 187.2 15.6 187.7 15.7 188.0 15.7" fill="none" stroke="#ff00ff" stroke-width="1.25" stroke-dasharray="2.2 1.7" stroke-linejoin="round"/>
</g>
<line x1="28" y1="80.30" x2="44.2" y2="80.30" fill="none" stroke="#000000" stroke-width="1.30"/>
<text x="45.2" y="82.70" font-size="7.20"><tspan font-style="italic" font-size="7.5">H</tspan><tspan font-size="5.2" dy="1.7">1</tspan><tspan dy="-1.7"> </tspan>= 0.020&#955;<tspan font-size="5.0" dy="1.6">0</tspan></text>
<line x1="28" y1="90.72" x2="44.2" y2="90.72" fill="none" stroke="#ff0000" stroke-width="1.15" stroke-dasharray="2.6 1.8"/>
<text x="45.2" y="93.12" font-size="7.20"><tspan font-style="italic" font-size="7.5">H</tspan><tspan font-size="5.2" dy="1.7">1</tspan><tspan dy="-1.7"> </tspan>= 0.02&#955;<tspan font-size="5.0" dy="1.6">0</tspan></text>
<line x1="28" y1="101.14" x2="44.2" y2="101.14" fill="none" stroke="#3a3aff" stroke-width="1.00" stroke-dasharray="1.0 0.45"/>
<text x="45.2" y="103.54" font-size="7.20"><tspan font-style="italic" font-size="7.5">H</tspan><tspan font-size="5.2" dy="1.7">1</tspan><tspan dy="-1.7"> </tspan>= 0.022&#955;<tspan font-size="5.0" dy="1.6">0</tspan></text>
<line x1="28" y1="111.56" x2="44.2" y2="111.56" fill="none" stroke="#6a6a6a" stroke-width="0.90" stroke-dasharray="3.6 1.4 0.9 1.6"/>
<text x="45.2" y="113.96" font-size="7.20"><tspan font-style="italic" font-size="7.5">H</tspan><tspan font-size="5.2" dy="1.7">1</tspan><tspan dy="-1.7"> </tspan>= 0.023&#955;<tspan font-size="5.0" dy="1.6">0</tspan></text>
<line x1="28" y1="121.98" x2="44.2" y2="121.98" fill="none" stroke="#008000" stroke-width="1.25" stroke-dasharray="3.6 2.2 1.2 2.2 1.2 2.2"/>
<text x="45.2" y="124.38" font-size="7.20"><tspan font-style="italic" font-size="7.5">H</tspan><tspan font-size="5.2" dy="1.7">1</tspan><tspan dy="-1.7"> </tspan>= 0.024&#955;<tspan font-size="5.0" dy="1.6">0</tspan></text>
<line x1="28" y1="132.40" x2="44.2" y2="132.40" fill="none" stroke="#ff00ff" stroke-width="1.25" stroke-dasharray="2.2 1.7"/>
<text x="45.2" y="134.80" font-size="7.20"><tspan font-style="italic" font-size="7.5">H</tspan><tspan font-size="5.2" dy="1.7">1</tspan><tspan dy="-1.7"> </tspan>= 0.025&#955;<tspan font-size="5.0" dy="1.6">0</tspan></text>
<rect x="24.20" y="6.90" width="163.80" height="134.00" fill="none" stroke="#303030" stroke-width="1.15"/>
<line x1="24.20" y1="140.90" x2="24.20" y2="138.90" stroke="#303030" stroke-width="0.9"/>
<text x="24.20" y="149.60" font-size="7.40" text-anchor="middle">2.8</text>
<line x1="44.67" y1="140.90" x2="44.67" y2="139.70" stroke="#303030" stroke-width="0.9"/>
<line x1="65.15" y1="140.90" x2="65.15" y2="138.90" stroke="#303030" stroke-width="0.9"/>
<text x="65.15" y="149.60" font-size="7.40" text-anchor="middle">2.9</text>
<line x1="85.62" y1="140.90" x2="85.62" y2="139.70" stroke="#303030" stroke-width="0.9"/>
<line x1="106.10" y1="140.90" x2="106.10" y2="138.90" stroke="#303030" stroke-width="0.9"/>
<text x="106.10" y="149.60" font-size="7.40" text-anchor="middle">3.0</text>
<line x1="126.58" y1="140.90" x2="126.58" y2="139.70" stroke="#303030" stroke-width="0.9"/>
<line x1="147.05" y1="140.90" x2="147.05" y2="138.90" stroke="#303030" stroke-width="0.9"/>
<text x="147.05" y="149.60" font-size="7.40" text-anchor="middle">3.1</text>
<line x1="167.53" y1="140.90" x2="167.53" y2="139.70" stroke="#303030" stroke-width="0.9"/>
<line x1="188.00" y1="140.90" x2="188.00" y2="138.90" stroke="#303030" stroke-width="0.9"/>
<text x="188.00" y="149.60" font-size="7.40" text-anchor="middle">3.2</text>
<line x1="24.20" y1="6.90" x2="26.20" y2="6.90" stroke="#303030" stroke-width="0.9"/>
<text x="21.60" y="9.30" font-size="7.40" text-anchor="end">0</text>
<line x1="24.20" y1="20.30" x2="25.40" y2="20.30" stroke="#303030" stroke-width="0.9"/>
<line x1="24.20" y1="33.70" x2="26.20" y2="33.70" stroke="#303030" stroke-width="0.9"/>
<text x="21.60" y="36.10" font-size="7.40" text-anchor="end">-10</text>
<line x1="24.20" y1="47.10" x2="25.40" y2="47.10" stroke="#303030" stroke-width="0.9"/>
<line x1="24.20" y1="60.50" x2="26.20" y2="60.50" stroke="#303030" stroke-width="0.9"/>
<text x="21.60" y="62.90" font-size="7.40" text-anchor="end">-20</text>
<line x1="24.20" y1="73.90" x2="25.40" y2="73.90" stroke="#303030" stroke-width="0.9"/>
<line x1="24.20" y1="87.30" x2="26.20" y2="87.30" stroke="#303030" stroke-width="0.9"/>
<text x="21.60" y="89.70" font-size="7.40" text-anchor="end">-30</text>
<line x1="24.20" y1="100.70" x2="25.40" y2="100.70" stroke="#303030" stroke-width="0.9"/>
<line x1="24.20" y1="114.10" x2="26.20" y2="114.10" stroke="#303030" stroke-width="0.9"/>
<text x="21.60" y="116.50" font-size="7.40" text-anchor="end">-40</text>
<line x1="24.20" y1="127.50" x2="25.40" y2="127.50" stroke="#303030" stroke-width="0.9"/>
<line x1="24.20" y1="140.90" x2="26.20" y2="140.90" stroke="#303030" stroke-width="0.9"/>
<text x="21.60" y="143.30" font-size="7.40" text-anchor="end">-50</text>
<text x="106.10" y="162.00" font-size="7.40" text-anchor="middle">Frequency (GHz)</text>
<text transform="translate(7.5 73.90) rotate(-90)" font-size="7.40" text-anchor="middle">Reflection Coefficient (dB)</text>
<text x="96.80" y="176.60" font-size="7.60" font-weight="bold" text-anchor="middle">(d)</text>
</g>
<g transform="translate(0 372.3)">
<clipPath id="cpe"><rect x="24.20" y="6.40" width="163.80" height="134.50"/></clipPath>
<g clip-path="url(#cpe)">
<path d="M24.2 30.9 24.7 30.8 25.2 30.6 25.7 30.5 26.2 30.4 26.7 30.2 27.2 30.0 27.7 29.9 28.2 29.7 28.7 29.5 29.2 29.3 29.7 29.1 30.2 28.9 30.3 28.9 30.7 28.7 31.2 28.5 31.7 28.3 32.2 28.1 32.7 27.8 33.2 27.6 33.7 27.4 34.2 27.1 34.7 26.9 35.0 26.7 35.2 26.6 35.7 26.3 36.2 26.1 36.7 25.8 37.2 25.5 37.7 25.2 38.2 25.0 38.7 24.7 39.2 24.4 39.7 24.2 40.0 24.0 40.2 23.9 40.7 23.6 41.2 23.4 41.7 23.1 42.2 22.9 42.7 22.6 43.2 22.4 43.7 22.1 44.2 21.9 44.7 21.7 45.1 21.5 45.2 21.5 45.7 21.2 46.2 21.0 46.7 20.8 47.2 20.6 47.7 20.4 48.2 20.2 48.7 20.0 49.2 19.9 49.7 19.8 50.1 19.7 50.2 19.7 50.7 19.6 51.2 19.5 51.7 19.5 52.2 19.4 52.7 19.4 53.2 19.3 53.7 19.3 54.2 19.3 54.7 19.3 55.2 19.3 55.7 19.3 56.2 19.4 56.7 19.4 57.2 19.5 57.7 19.6 58.2 19.6 58.7 19.7 59.2 19.8 59.7 19.9 60.2 20.0 60.7 20.1 61.2 20.2 61.7 20.4 62.2 20.5 62.7 20.7 63.2 20.9 63.7 21.1 64.2 21.3 64.7 21.5 65.2 21.8 65.3 21.8 65.7 22.0 66.2 22.3 66.7 22.7 67.2 23.1 67.7 23.5 68.2 24.0 68.7 24.4 69.2 24.9 69.7 25.4 70.2 25.8 70.3 25.9 70.7 26.3 71.2 26.7 71.7 27.2 72.2 27.6 72.7 28.1 73.2 28.6 73.7 29.1 74.2 29.6 74.7 30.1 75.2 30.7 75.4 30.9 75.7 31.2 76.2 31.8 76.7 32.5 77.2 33.1 77.7 33.9 78.2 34.6 78.4 34.9 78.7 35.4 79.2 36.2 79.7 37.1 80.2 38.0 80.7 39.0 81.2 40.0 81.7 40.9 82.0 41.5 82.2 41.9 82.7 42.9 83.2 43.8 83.7 44.8 84.2 45.8 84.7 46.8 85.2 47.9 85.7 48.9 86.2 49.9 86.7 51.0 86.8 51.2 87.2 52.1 87.7 53.1 88.2 54.2 88.7 55.4 89.2 56.5 89.7 57.6 90.2 58.8 90.7 59.9 91.2 61.1 91.7 62.2 92.2 63.4 92.7 64.5 92.9 65.0 93.2 65.7 93.7 66.9 94.2 68.0 94.7 69.2 95.2 70.4 95.7 71.6 96.2 72.8 96.7 74.0 97.2 75.2 97.7 76.4 98.2 77.6 98.4 78.1 98.7 78.8 99.2 80.1 99.7 81.4 100.2 82.7 100.7 83.8 101.0 84.5 101.2 84.9 101.7 85.9 102.2 86.9 102.7 87.7 103.2 88.5 103.7 89.2 104.2 89.9 104.7 90.4 105.1 90.5 105.2 90.5 105.7 90.2 106.2 89.6 106.7 88.8 107.0 88.3 107.2 87.9 107.7 86.9 108.2 85.8 108.7 84.6 109.0 84.0 109.2 83.6 109.7 82.6 110.2 81.5 110.7 80.5 111.2 79.5 111.7 78.5 112.2 77.5 112.4 77.1 112.7 76.5 113.2 75.4 113.7 74.4 114.2 73.4 114.7 72.3 115.2 71.3 115.7 70.2 116.0 69.6 116.2 69.2 116.7 68.1 117.2 67.1 117.7 66.0 118.2 65.0 118.7 63.9 119.2 62.9 119.5 62.3 119.7 61.9 120.2 60.9 120.7 59.9 121.2 58.9 121.7 58.0 122.2 57.0 122.7 56.0 123.2 55.1 123.5 54.5 123.7 54.1 124.2 53.2 124.7 52.2 125.2 51.3 125.7 50.3 126.2 49.4 126.7 48.4 127.2 47.5 127.7 46.5 128.2 45.5 128.7 44.5 129.2 43.5 129.7 42.5 130.2 41.5 130.7 40.5 131.2 39.5 131.7 38.6 132.2 37.7 132.7 36.9 133.2 36.0 133.7 35.2 134.2 34.4 134.7 33.7 135.2 32.9 135.5 32.5 135.7 32.2 136.2 31.5 136.7 30.8 137.2 30.1 137.7 29.4 138.2 28.8 138.7 28.1 139.2 27.5 139.7 26.9 140.2 26.3 140.7 25.8 141.2 25.3 141.7 24.8 142.2 24.3 142.7 23.8 143.2 23.3 143.7 22.9 144.2 22.4 144.7 22.0 145.2 21.5 145.7 21.1 146.2 20.7 146.7 20.4 147.2 20.0 147.7 19.7 147.8 19.6 148.2 19.3 148.7 19.0 149.2 18.7 149.7 18.4 150.2 18.1 150.7 17.8 151.2 17.6 151.7 17.5 152.0 17.4 152.2 17.4 152.7 17.3 153.2 17.2 153.7 17.1 154.2 17.0 154.7 16.9 155.2 16.8 155.7 16.7 156.2 16.7 156.7 16.6 157.2 16.6 157.7 16.6 158.2 16.6 158.7 16.6 159.2 16.6 159.7 16.6 160.2 16.7 160.7 16.8 161.2 16.8 161.7 16.9 162.2 17.0 162.7 17.0 163.2 17.1 163.7 17.2 164.2 17.3 164.7 17.4 165.0 17.4 165.2 17.4 165.7 17.5 166.2 17.6 166.7 17.7 167.2 17.8 167.7 17.9 168.2 18.0 168.7 18.1 169.2 18.2 169.7 18.3 170.2 18.3 170.7 18.4 171.1 18.5 171.2 18.5 171.7 18.6 172.2 18.7 172.7 18.7 173.2 18.8 173.7 18.9 174.2 19.0 174.7 19.0 175.2 19.1 175.7 19.2 176.2 19.2 176.7 19.3 177.2 19.4 177.7 19.4 178.2 19.5 178.7 19.6 179.2 19.6 179.7 19.7 180.2 19.8 180.7 19.9 180.9 19.9 181.2 19.9 181.7 20.0 182.2 20.1 182.7 20.2 183.2 20.3 183.7 20.4 184.2 20.4 184.7 20.5 185.2 20.6 185.7 20.7 186.2 20.8 186.7 20.9 187.2 21.0 187.7 21.0 188.0 21.1" fill="none" stroke="#000000" stroke-width="1.30" stroke-linejoin="round"/>
<path d="M24.2 30.9 24.7 30.8 25.2 30.6 25.7 30.5 26.2 30.4 26.7 30.2 27.2 30.0 27.7 29.9 28.2 29.7 28.7 29.5 29.2 29.3 29.7 29.1 30.2 28.9 30.3 28.9 30.7 28.7 31.2 28.5 31.7 28.3 32.2 28.1 32.7 27.8 33.2 27.6 33.7 27.4 34.2 27.1 34.7 26.9 35.0 26.7 35.2 26.6 35.7 26.3 36.2 26.1 36.7 25.8 37.2 25.5 37.7 25.2 38.2 25.0 38.7 24.7 39.2 24.4 39.7 24.2 40.0 24.0 40.2 23.9 40.7 23.6 41.2 23.4 41.7 23.1 42.2 22.9 42.7 22.6 43.2 22.4 43.7 22.1 44.2 21.9 44.7 21.7 45.1 21.5 45.2 21.5 45.7 21.2 46.2 21.0 46.7 20.8 47.2 20.6 47.7 20.4 48.2 20.2 48.7 20.0 49.2 19.9 49.7 19.8 50.1 19.7 50.2 19.7 50.7 19.6 51.2 19.5 51.7 19.5 52.2 19.4 52.7 19.4 53.2 19.3 53.7 19.3 54.2 19.3 54.7 19.3 55.2 19.3 55.7 19.3 56.2 19.4 56.7 19.4 57.2 19.5 57.7 19.6 58.2 19.6 58.7 19.7 59.2 19.8 59.7 19.9 60.2 20.0 60.7 20.1 61.2 20.2 61.7 20.4 62.2 20.5 62.7 20.7 63.2 20.9 63.7 21.1 64.2 21.3 64.7 21.5 65.2 21.8 65.3 21.8 65.7 22.0 66.2 22.4 66.7 22.7 67.2 23.2 67.7 23.6 68.2 24.1 68.7 24.6 69.2 25.1 69.7 25.6 70.2 26.1 70.3 26.2 70.7 26.6 71.2 27.1 71.7 27.5 72.2 28.0 72.7 28.6 73.2 29.1 73.7 29.7 74.2 30.2 74.7 30.9 75.2 31.5 75.4 31.8 75.7 32.2 76.2 33.1 76.7 34.0 77.2 34.9 77.7 35.9 78.2 36.9 78.7 37.9 79.0 38.5 79.2 38.9 79.7 39.8 80.2 40.7 80.7 41.6 81.2 42.6 81.7 43.5 82.2 44.5 82.7 45.5 83.1 46.4 83.2 46.6 83.7 47.8 84.2 49.0 84.7 50.3 85.2 51.6 85.7 53.0 86.2 54.3 86.7 55.6 86.8 55.9 87.2 56.9 87.7 58.2 88.2 59.4 88.7 60.6 89.2 61.8 89.7 63.1 90.2 64.3 90.7 65.6 91.2 66.9 91.7 68.2 92.2 69.6 92.7 71.0 92.9 71.6 93.2 72.5 93.7 74.1 94.2 75.8 94.7 77.5 95.2 79.3 95.7 81.2 96.2 83.0 96.7 84.9 97.2 86.8 97.7 88.7 98.2 90.6 98.4 91.3 98.7 92.4 99.2 94.3 99.7 96.2 100.0 97.3 100.2 98.1 100.7 100.1 101.2 102.1 101.7 103.9 102.2 105.5 102.3 105.8 102.7 106.8 103.2 107.8 103.7 108.7 104.2 109.4 104.3 109.5 104.7 109.9 105.2 110.2 105.7 110.2 106.2 109.6 106.7 108.6 107.2 107.3 107.5 106.5 107.7 106.0 108.2 104.6 108.7 103.1 109.2 101.5 109.7 99.8 110.2 98.1 110.7 96.4 111.2 94.7 111.7 93.0 112.2 91.3 112.7 89.6 113.2 87.8 113.7 86.0 114.2 84.2 114.7 82.4 115.2 80.7 115.7 79.1 115.9 78.5 116.2 77.6 116.7 76.2 117.2 74.8 117.7 73.4 118.2 72.1 118.7 70.8 119.2 69.5 119.7 68.2 119.9 67.7 120.2 66.9 120.7 65.7 121.2 64.4 121.7 63.1 122.2 61.9 122.7 60.7 123.0 60.0 123.2 59.5 123.7 58.4 124.2 57.2 124.7 56.1 125.2 54.9 125.7 53.8 126.2 52.7 126.7 51.6 127.2 50.5 127.7 49.4 128.2 48.4 128.7 47.4 128.9 47.0 129.2 46.4 129.7 45.4 130.2 44.5 130.7 43.6 131.2 42.7 131.7 41.8 132.2 40.9 132.7 40.0 133.2 39.1 133.7 38.2 134.2 37.4 134.7 36.5 134.8 36.3 135.2 35.6 135.7 34.7 136.2 33.8 136.7 32.9 137.2 32.0 137.7 31.1 138.2 30.2 138.7 29.4 139.2 28.7 139.6 28.1 139.7 28.0 140.2 27.3 140.7 26.7 141.2 26.1 141.7 25.6 142.2 25.1 142.7 24.6 143.0 24.3 143.2 24.1 143.7 23.7 144.2 23.2 144.7 22.8 145.2 22.4 145.7 22.0 146.2 21.5 146.7 21.1 147.2 20.8 147.7 20.4 147.8 20.3 148.2 20.0 148.7 19.6 149.2 19.2 149.7 18.7 150.2 18.4 150.7 18.0 151.2 17.7 151.7 17.5 152.0 17.4 152.2 17.4 152.7 17.2 153.2 17.1 153.7 17.0 154.2 16.9 154.7 16.8 155.2 16.8 155.7 16.7 156.2 16.6 156.7 16.6 157.2 16.6 157.7 16.5 158.2 16.5 158.7 16.6 159.2 16.6 159.7 16.7 160.2 16.7 160.7 16.8 161.2 16.8 161.7 16.9 162.2 17.0 162.7 17.0 163.2 17.1 163.7 17.2 164.2 17.3 164.7 17.4 165.0 17.4 165.2 17.4 165.7 17.5 166.2 17.6 166.7 17.7 167.2 17.8 167.7 17.9 168.2 18.0 168.7 18.1 169.2 18.2 169.7 18.3 170.2 18.3 170.7 18.4 171.1 18.5 171.2 18.5 171.7 18.6 172.2 18.7 172.7 18.7 173.2 18.8 173.7 18.9 174.2 19.0 174.7 19.0 175.2 19.1 175.7 19.2 176.2 19.2 176.7 19.3 177.2 19.4 177.7 19.4 178.2 19.5 178.7 19.6 179.2 19.6 179.7 19.7 180.2 19.8 180.7 19.9 180.9 19.9 181.2 19.9 181.7 20.0 182.2 20.1 182.7 20.2 183.2 20.3 183.7 20.4 184.2 20.4 184.7 20.5 185.2 20.6 185.7 20.7 186.2 20.8 186.7 20.9 187.2 21.0 187.7 21.0 188.0 21.1" fill="none" stroke="#ff0000" stroke-width="1.15" stroke-dasharray="2.6 1.8" stroke-linejoin="round"/>
<path d="M24.2 30.9 24.7 30.8 25.2 30.6 25.7 30.5 26.2 30.4 26.7 30.2 27.2 30.0 27.7 29.9 28.2 29.7 28.7 29.5 29.2 29.3 29.7 29.1 30.2 28.9 30.3 28.9 30.7 28.7 31.2 28.5 31.7 28.3 32.2 28.1 32.7 27.8 33.2 27.6 33.7 27.4 34.2 27.1 34.7 26.9 35.0 26.7 35.2 26.6 35.7 26.3 36.2 26.1 36.7 25.8 37.2 25.5 37.7 25.2 38.2 25.0 38.7 24.7 39.2 24.4 39.7 24.2 40.0 24.0 40.2 23.9 40.7 23.6 41.2 23.4 41.7 23.1 42.2 22.9 42.7 22.6 43.2 22.4 43.7 22.1 44.2 21.9 44.7 21.7 45.1 21.5 45.2 21.5 45.7 21.2 46.2 21.0 46.7 20.8 47.2 20.6 47.7 20.4 48.2 20.2 48.7 20.0 49.2 19.9 49.7 19.8 50.1 19.7 50.2 19.7 50.7 19.6 51.2 19.5 51.7 19.5 52.2 19.4 52.7 19.4 53.2 19.3 53.7 19.3 54.2 19.3 54.7 19.3 55.2 19.3 55.7 19.3 56.2 19.4 56.7 19.4 57.2 19.5 57.7 19.6 58.2 19.6 58.7 19.7 59.2 19.8 59.7 19.9 60.2 20.0 60.7 20.1 61.2 20.2 61.7 20.4 62.2 20.5 62.7 20.7 63.2 20.9 63.7 21.1 64.2 21.3 64.7 21.5 65.2 21.8 65.3 21.8 65.7 22.0 66.2 22.4 66.7 22.7 67.2 23.2 67.7 23.6 68.2 24.1 68.7 24.6 69.2 25.1 69.7 25.6 70.2 26.1 70.3 26.2 70.7 26.6 71.2 27.1 71.7 27.5 72.2 28.0 72.7 28.6 73.2 29.1 73.7 29.7 74.2 30.2 74.7 30.9 75.2 31.5 75.4 31.8 75.7 32.2 76.2 33.1 76.7 34.0 77.2 34.9 77.7 35.9 78.2 36.9 78.7 37.9 79.0 38.5 79.2 38.9 79.7 39.8 80.2 40.7 80.7 41.6 81.2 42.6 81.7 43.5 82.2 44.5 82.7 45.5 83.1 46.4 83.2 46.6 83.7 47.8 84.2 49.0 84.7 50.3 85.2 51.6 85.7 53.0 86.2 54.3 86.7 55.6 86.8 55.9 87.2 56.9 87.7 58.2 88.2 59.4 88.7 60.6 89.2 61.8 89.7 63.1 90.2 64.3 90.7 65.6 91.2 66.9 91.7 68.2 92.2 69.6 92.7 71.0 92.9 71.6 93.2 72.5 93.7 74.1 94.2 75.8 94.7 77.5 95.2 79.3 95.7 81.2 96.2 83.0 96.7 84.9 97.2 86.8 97.7 88.7 98.2 90.6 98.4 91.3 98.7 92.4 99.2 94.3 99.7 96.2 100.0 97.3 100.2 98.0 100.7 99.9 101.2 101.7 101.7 103.5 102.2 105.4 102.3 105.8 102.7 107.4 103.2 109.3 103.7 111.4 104.2 113.4 104.7 115.3 105.0 116.5 105.2 117.3 105.7 119.6 106.2 121.7 106.7 123.1 106.9 123.3 107.2 123.1 107.7 121.8 108.2 119.7 108.5 118.5 108.7 117.7 109.2 115.7 109.7 113.5 110.2 111.2 110.7 109.1 111.0 107.9 111.2 107.1 111.7 105.3 112.2 103.5 112.7 101.8 113.2 100.1 113.7 98.4 114.2 96.7 114.7 95.0 115.2 93.2 115.7 91.3 116.2 89.2 116.7 87.0 117.2 84.8 117.7 82.6 118.2 80.5 118.6 79.0 118.7 78.7 119.2 77.0 119.7 75.4 120.2 74.0 120.7 72.5 121.2 71.2 121.7 69.8 122.2 68.5 122.7 67.2 123.2 65.9 123.7 64.7 124.2 63.4 124.7 62.2 125.2 61.0 125.4 60.5 125.7 59.8 126.2 58.5 126.7 57.3 127.2 56.0 127.7 54.7 128.2 53.5 128.7 52.2 129.2 51.0 129.7 49.8 130.2 48.6 130.7 47.4 131.2 46.2 131.3 46.0 131.7 45.1 132.2 44.0 132.7 42.8 133.2 41.7 133.7 40.7 134.2 39.6 134.7 38.6 135.2 37.6 135.7 36.6 136.0 36.0 136.2 35.6 136.7 34.7 137.2 33.8 137.7 32.8 138.2 31.9 138.7 31.1 139.2 30.2 139.7 29.4 140.2 28.6 140.7 27.9 141.0 27.5 141.2 27.2 141.7 26.6 142.2 26.0 142.7 25.4 143.2 24.8 143.7 24.3 144.2 23.8 144.7 23.3 145.0 23.0 145.2 22.8 145.7 22.4 146.2 21.9 146.7 21.5 147.2 21.1 147.7 20.6 148.0 20.4 148.2 20.2 148.7 19.8 149.2 19.3 149.7 18.9 150.2 18.5 150.7 18.1 151.2 17.7 151.7 17.5 152.0 17.4 152.2 17.3 152.7 17.2 153.2 17.1 153.7 17.0 154.2 16.9 154.7 16.8 155.2 16.7 155.7 16.7 156.2 16.6 156.7 16.6 157.2 16.5 157.7 16.5 158.2 16.5 158.7 16.6 159.2 16.6 159.7 16.7 160.2 16.7 160.7 16.8 161.2 16.8 161.7 16.9 162.2 17.0 162.7 17.0 163.2 17.1 163.7 17.2 164.2 17.3 164.7 17.4 165.0 17.4 165.2 17.4 165.7 17.5 166.2 17.6 166.7 17.7 167.2 17.8 167.7 17.9 168.2 18.0 168.7 18.1 169.2 18.2 169.7 18.3 170.2 18.3 170.7 18.4 171.1 18.5 171.2 18.5 171.7 18.6 172.2 18.7 172.7 18.7 173.2 18.8 173.7 18.9 174.2 19.0 174.7 19.0 175.2 19.1 175.7 19.2 176.2 19.2 176.7 19.3 177.2 19.4 177.7 19.4 178.2 19.5 178.7 19.6 179.2 19.6 179.7 19.7 180.2 19.8 180.7 19.9 180.9 19.9 181.2 19.9 181.7 20.0 182.2 20.1 182.7 20.2 183.2 20.3 183.7 20.4 184.2 20.4 184.7 20.5 185.2 20.6 185.7 20.7 186.2 20.8 186.7 20.9 187.2 21.0 187.7 21.0 188.0 21.1" fill="none" stroke="#0000ff" stroke-width="1.15" stroke-dasharray="1.1 1.0" stroke-linejoin="round"/>
<path d="M24.2 37.4 24.7 37.7 25.2 37.9 25.7 38.1 26.2 38.4 26.7 38.5 27.0 38.6 27.2 38.6 27.7 38.8 28.2 38.8 28.7 38.9 29.2 38.9 29.7 38.9 30.2 38.8 30.3 38.8 30.7 38.7 31.2 38.4 31.7 38.1 32.2 37.8 32.7 37.4 33.2 37.0 33.5 36.8 33.7 36.7 34.2 36.3 34.7 36.0 35.2 35.6 35.7 35.2 36.2 34.8 36.6 34.5 36.7 34.4 37.2 34.0 37.7 33.5 38.2 33.0 38.7 32.4 39.2 31.9 39.7 31.3 40.2 30.8 40.7 30.2 41.2 29.7 41.7 29.1 42.2 28.6 42.7 28.1 42.9 27.9 43.2 27.6 43.7 27.1 44.2 26.6 44.7 26.1 45.2 25.6 45.7 25.1 46.2 24.7 46.7 24.2 47.2 23.8 47.7 23.3 48.2 22.9 48.7 22.6 49.2 22.3 49.3 22.2 49.7 22.0 50.2 21.7 50.7 21.4 51.2 21.1 51.7 20.9 52.2 20.6 52.7 20.4 53.2 20.2 53.7 20.1 54.2 19.9 54.7 19.8 55.0 19.8 55.2 19.8 55.7 19.7 56.2 19.7 56.7 19.7 57.2 19.7 57.7 19.7 58.2 19.8 58.7 19.8 59.2 19.9 59.7 19.9 60.2 20.0 60.7 20.1 61.2 20.2 61.7 20.3 62.2 20.5 62.7 20.7 63.2 20.8 63.7 21.0 64.2 21.3 64.7 21.5 65.2 21.7 65.3 21.8 65.7 22.0 66.2 22.4 66.7 22.7 67.2 23.2 67.7 23.6 68.2 24.1 68.7 24.6 69.2 25.1 69.7 25.6 70.2 26.1 70.3 26.2 70.7 26.6 71.2 27.1 71.7 27.5 72.2 28.0 72.7 28.6 73.2 29.1 73.7 29.7 74.2 30.2 74.7 30.9 75.2 31.5 75.4 31.8 75.7 32.2 76.2 33.1 76.7 34.0 77.2 34.9 77.7 35.9 78.2 36.9 78.7 37.9 79.0 38.5 79.2 38.9 79.7 39.8 80.2 40.7 80.7 41.6 81.2 42.6 81.7 43.5 82.2 44.5 82.7 45.5 83.1 46.4 83.2 46.6 83.7 47.8 84.2 49.0 84.7 50.3 85.2 51.6 85.7 53.0 86.2 54.3 86.7 55.6 86.8 55.9 87.2 56.9 87.7 58.2 88.2 59.4 88.7 60.6 89.2 61.8 89.7 63.1 90.2 64.3 90.7 65.6 91.2 66.9 91.7 68.2 92.2 69.6 92.7 71.0 92.9 71.6 93.2 72.5 93.7 74.1 94.2 75.8 94.7 77.5 95.2 79.3 95.7 81.2 96.2 83.0 96.7 84.9 97.2 86.8 97.7 88.7 98.2 90.6 98.4 91.3 98.7 92.4 99.2 94.3 99.7 96.2 100.0 97.3 100.2 98.0 100.7 99.9 101.2 101.7 101.7 103.5 102.2 105.4 102.3 105.8 102.7 107.4 103.2 109.4 103.7 111.4 104.2 113.5 104.7 115.5 105.1 117.0 105.2 117.4 105.7 119.5 106.2 121.6 106.7 123.2 107.2 124.0 107.7 123.5 108.2 121.8 108.7 119.8 108.9 119.0 109.2 117.8 109.7 115.7 110.2 113.4 110.7 111.2 111.2 109.0 111.4 108.2 111.7 107.0 112.2 105.2 112.7 103.4 113.2 101.6 113.7 99.9 114.2 98.2 114.7 96.4 115.2 94.7 115.7 92.8 116.1 91.3 116.2 90.9 116.7 88.8 117.2 86.6 117.7 84.4 118.2 82.3 118.7 80.3 119.0 79.2 119.2 78.5 119.7 76.9 120.2 75.3 120.7 73.8 121.2 72.4 121.7 71.0 122.2 69.7 122.6 68.6 122.7 68.3 123.2 67.0 123.7 65.8 124.2 64.5 124.7 63.3 125.2 62.1 125.7 60.8 125.8 60.6 126.2 59.6 126.7 58.3 127.2 57.1 127.7 55.8 128.2 54.5 128.7 53.2 129.2 52.0 129.7 50.7 130.2 49.5 130.7 48.2 131.2 47.0 131.6 46.1 131.7 45.9 132.2 44.7 132.7 43.6 133.2 42.4 133.7 41.3 134.2 40.2 134.7 39.1 135.2 38.1 135.7 37.1 136.2 36.1 136.7 35.2 137.2 34.2 137.7 33.3 138.2 32.4 138.7 31.5 139.2 30.6 139.7 29.8 140.2 29.0 140.7 28.3 141.2 27.6 141.7 27.0 142.2 26.3 142.7 25.8 143.2 25.2 143.7 24.7 144.2 24.1 144.7 23.6 145.2 23.1 145.7 22.6 146.2 22.1 146.7 21.6 147.2 21.1 147.7 20.7 148.0 20.4 148.2 20.2 148.7 19.8 149.2 19.3 149.7 18.9 150.2 18.4 150.7 18.0 151.2 17.7 151.7 17.5 152.0 17.4 152.2 17.4 152.7 17.2 153.2 17.1 153.7 17.0 154.2 16.9 154.7 16.8 155.2 16.8 155.7 16.7 156.2 16.6 156.7 16.6 157.2 16.6 157.7 16.5 158.2 16.5 158.7 16.6 159.2 16.6 159.7 16.7 160.2 16.7 160.7 16.8 161.2 16.8 161.7 16.9 162.2 17.0 162.7 17.0 163.2 17.1 163.7 17.2 164.2 17.3 164.7 17.4 165.0 17.4 165.2 17.4 165.7 17.5 166.2 17.6 166.7 17.7 167.2 17.8 167.7 17.9 168.2 18.0 168.7 18.1 169.2 18.2 169.7 18.3 170.2 18.3 170.7 18.4 171.1 18.5 171.2 18.5 171.7 18.6 172.2 18.7 172.7 18.7 173.2 18.8 173.7 18.9 174.2 19.0 174.7 19.0 175.2 19.1 175.7 19.2 176.2 19.2 176.7 19.3 177.2 19.4 177.7 19.4 178.2 19.5 178.7 19.6 179.2 19.6 179.7 19.7 180.2 19.8 180.7 19.9 180.9 19.9 181.2 19.9 181.7 20.0 182.2 20.1 182.7 20.2 183.2 20.3 183.7 20.4 184.2 20.4 184.7 20.5 185.2 20.6 185.7 20.7 186.2 20.8 186.7 20.9 187.2 21.0 187.7 21.0 188.0 21.1" fill="none" stroke="#6a6a6a" stroke-width="0.90" stroke-dasharray="3.6 1.4 0.9 1.6" stroke-linejoin="round"/>
<path d="M24.2 36.1 24.7 36.0 25.2 35.8 25.7 35.6 26.2 35.4 26.7 35.2 27.2 35.0 27.7 34.8 28.2 34.6 28.7 34.4 29.2 34.1 29.7 33.9 30.2 33.6 30.3 33.6 30.7 33.4 31.2 33.1 31.7 32.9 32.2 32.6 32.7 32.3 33.2 32.0 33.7 31.7 34.2 31.4 34.7 31.0 35.2 30.7 35.7 30.4 36.2 30.1 36.6 29.8 36.7 29.7 37.2 29.4 37.7 29.1 38.2 28.7 38.7 28.4 39.2 28.0 39.7 27.6 40.2 27.3 40.7 26.9 41.2 26.6 41.7 26.2 42.2 25.9 42.7 25.5 42.9 25.4 43.2 25.2 43.7 24.9 44.2 24.6 44.7 24.2 45.2 23.9 45.7 23.6 46.2 23.3 46.7 23.0 47.2 22.7 47.7 22.4 48.2 22.1 48.7 21.9 49.2 21.6 49.3 21.6 49.7 21.4 50.2 21.2 50.7 21.0 51.2 20.7 51.7 20.5 52.2 20.3 52.7 20.1 53.2 20.0 53.7 19.8 54.2 19.7 54.7 19.6 55.0 19.6 55.2 19.6 55.7 19.6 56.2 19.5 56.7 19.6 57.2 19.6 57.7 19.6 58.2 19.7 58.7 19.8 59.2 19.8 59.7 19.9 60.2 20.0 60.7 20.1 61.2 20.2 61.7 20.3 62.2 20.5 62.7 20.7 63.2 20.9 63.7 21.1 64.2 21.3 64.7 21.5 65.2 21.7 65.3 21.8 65.7 22.0 66.2 22.4 66.7 22.7 67.2 23.2 67.7 23.6 68.2 24.1 68.7 24.6 69.2 25.1 69.7 25.6 70.2 26.1 70.3 26.2 70.7 26.6 71.2 27.1 71.7 27.5 72.2 28.0 72.7 28.6 73.2 29.1 73.7 29.7 74.2 30.2 74.7 30.9 75.2 31.5 75.4 31.8 75.7 32.2 76.2 33.1 76.7 34.0 77.2 34.9 77.7 35.9 78.2 36.9 78.7 37.9 79.0 38.5 79.2 38.9 79.7 39.8 80.2 40.7 80.7 41.6 81.2 42.6 81.7 43.5 82.2 44.5 82.7 45.5 83.1 46.4 83.2 46.6 83.7 47.8 84.2 49.0 84.7 50.3 85.2 51.6 85.7 53.0 86.2 54.3 86.7 55.6 86.8 55.9 87.2 56.9 87.7 58.2 88.2 59.4 88.7 60.6 89.2 61.8 89.7 63.1 90.2 64.3 90.7 65.6 91.2 66.9 91.7 68.2 92.2 69.6 92.7 71.0 92.9 71.6 93.2 72.5 93.7 74.1 94.2 75.8 94.7 77.5 95.2 79.3 95.7 81.2 96.2 83.0 96.7 84.9 97.2 86.8 97.7 88.7 98.2 90.6 98.4 91.3 98.7 92.4 99.2 94.3 99.7 96.2 100.0 97.3 100.2 98.0 100.7 99.9 101.2 101.7 101.7 103.6 102.2 105.4 102.3 105.8 102.7 107.3 103.2 109.2 103.7 111.1 104.2 113.0 104.7 114.9 105.2 116.8 105.5 118.0 105.7 118.8 106.2 121.2 106.7 123.8 107.2 126.3 107.7 128.5 108.2 129.9 108.6 130.3 108.7 130.3 109.2 129.3 109.7 127.4 110.2 125.2 110.5 124.0 110.7 123.3 111.2 121.6 111.7 119.9 112.2 118.2 112.7 116.4 113.2 114.6 113.4 113.8 113.7 112.6 114.2 110.6 114.7 108.6 115.2 106.5 115.7 104.3 116.2 102.1 116.7 100.0 117.2 97.8 117.7 95.6 118.2 93.4 118.7 91.3 119.2 89.2 119.7 87.0 120.2 84.9 120.7 82.7 121.2 80.7 121.5 79.5 121.7 78.7 122.2 76.8 122.7 75.0 123.2 73.2 123.7 71.5 124.0 70.5 124.2 69.9 124.7 68.3 125.2 66.7 125.7 65.2 126.2 63.8 126.7 62.3 127.0 61.5 127.2 61.0 127.7 59.6 128.2 58.2 128.7 56.9 129.2 55.6 129.7 54.3 130.2 53.0 130.7 51.7 131.2 50.5 131.7 49.3 132.2 48.0 132.5 47.3 132.7 46.8 133.2 45.6 133.7 44.4 134.2 43.2 134.7 42.1 135.2 40.9 135.7 39.8 136.2 38.7 136.7 37.6 137.2 36.5 137.7 35.4 138.2 34.3 138.7 33.2 139.2 32.1 139.7 31.1 140.2 30.0 140.7 29.0 141.2 28.0 141.7 27.1 142.2 26.2 142.7 25.4 143.1 24.8 143.2 24.7 143.7 24.0 144.2 23.4 144.7 22.8 145.2 22.2 145.7 21.7 146.2 21.2 146.7 20.8 147.0 20.5 147.2 20.3 147.7 19.9 148.2 19.4 148.7 18.9 149.2 18.4 149.7 18.0 150.2 17.5 150.7 17.2 151.2 16.9 151.7 16.6 152.0 16.5 152.2 16.4 152.7 16.3 153.2 16.1 153.7 16.0 154.2 15.8 154.7 15.7 155.2 15.5 155.7 15.4 156.2 15.3 156.7 15.2 157.2 15.2 157.7 15.1 158.2 15.1 158.7 15.2 159.2 15.2 159.7 15.3 160.2 15.3 160.7 15.4 161.2 15.5 161.7 15.6 162.2 15.7 162.7 15.7 163.2 15.8 163.7 15.9 164.2 16.0 164.7 16.1 165.2 16.2 165.7 16.3 166.2 16.4 166.7 16.5 167.2 16.6 167.7 16.7 168.2 16.8 168.7 16.9 169.2 17.0 169.7 17.1 170.2 17.2 170.7 17.3 171.0 17.3 171.2 17.3 171.7 17.4 172.2 17.5 172.7 17.6 173.2 17.7 173.7 17.7 174.2 17.8 174.7 17.9 175.2 18.0 175.7 18.1 176.2 18.1 176.7 18.2 177.2 18.3 177.7 18.4 178.2 18.4 178.7 18.5 179.2 18.6 179.7 18.6 180.2 18.7 180.7 18.8 180.9 18.8 181.2 18.8 181.7 18.9 182.2 19.0 182.7 19.0 183.2 19.1 183.7 19.1 184.2 19.2 184.7 19.2 185.2 19.3 185.7 19.3 186.2 19.4 186.7 19.4 187.2 19.4 187.7 19.5 188.0 19.5" fill="none" stroke="#008000" stroke-width="1.25" stroke-dasharray="3.6 2.2 1.2 2.2 1.2 2.2" stroke-linejoin="round"/>
</g>
<line x1="28" y1="89.90" x2="44.2" y2="89.90" fill="none" stroke="#000000" stroke-width="1.30"/>
<text x="45.2" y="92.30" font-size="7.20"><tspan font-style="italic" font-size="7.5">H</tspan><tspan font-size="5.2" dy="1.7">2</tspan><tspan dy="-1.7"> </tspan>= 0.0188&#955;<tspan font-size="5.0" dy="1.6">0</tspan></text>
<line x1="28" y1="100.45" x2="44.2" y2="100.45" fill="none" stroke="#ff0000" stroke-width="1.15" stroke-dasharray="2.6 1.8"/>
<text x="45.2" y="102.85" font-size="7.20"><tspan font-style="italic" font-size="7.5">H</tspan><tspan font-size="5.2" dy="1.7">2</tspan><tspan dy="-1.7"> </tspan>= 0.0198&#955;<tspan font-size="5.0" dy="1.6">0</tspan></text>
<line x1="28" y1="111.00" x2="44.2" y2="111.00" fill="none" stroke="#0000ff" stroke-width="1.15" stroke-dasharray="1.1 1.0"/>
<text x="45.2" y="113.40" font-size="7.20"><tspan font-style="italic" font-size="7.5">H</tspan><tspan font-size="5.2" dy="1.7">2</tspan><tspan dy="-1.7"> </tspan>= 0.0208&#955;<tspan font-size="5.0" dy="1.6">0</tspan></text>
<line x1="28" y1="121.55" x2="44.2" y2="121.55" fill="none" stroke="#6a6a6a" stroke-width="0.90" stroke-dasharray="3.6 1.4 0.9 1.6"/>
<text x="45.2" y="123.95" font-size="7.20"><tspan font-style="italic" font-size="7.5">H</tspan><tspan font-size="5.2" dy="1.7">2</tspan><tspan dy="-1.7"> </tspan>= 0.0218&#955;<tspan font-size="5.0" dy="1.6">0</tspan></text>
<line x1="28" y1="132.10" x2="44.2" y2="132.10" fill="none" stroke="#008000" stroke-width="1.25" stroke-dasharray="3.6 2.2 1.2 2.2 1.2 2.2"/>
<text x="45.2" y="134.50" font-size="7.20"><tspan font-style="italic" font-size="7.5">H</tspan><tspan font-size="5.2" dy="1.7">2</tspan><tspan dy="-1.7"> </tspan>= 0.0228&#955;<tspan font-size="5.0" dy="1.6">0</tspan></text>
<rect x="24.20" y="6.90" width="163.80" height="134.00" fill="none" stroke="#303030" stroke-width="1.15"/>
<line x1="24.20" y1="140.90" x2="24.20" y2="138.90" stroke="#303030" stroke-width="0.9"/>
<text x="24.20" y="149.60" font-size="7.40" text-anchor="middle">2.8</text>
<line x1="44.67" y1="140.90" x2="44.67" y2="139.70" stroke="#303030" stroke-width="0.9"/>
<line x1="65.15" y1="140.90" x2="65.15" y2="138.90" stroke="#303030" stroke-width="0.9"/>
<text x="65.15" y="149.60" font-size="7.40" text-anchor="middle">2.9</text>
<line x1="85.62" y1="140.90" x2="85.62" y2="139.70" stroke="#303030" stroke-width="0.9"/>
<line x1="106.10" y1="140.90" x2="106.10" y2="138.90" stroke="#303030" stroke-width="0.9"/>
<text x="106.10" y="149.60" font-size="7.40" text-anchor="middle">3.0</text>
<line x1="126.58" y1="140.90" x2="126.58" y2="139.70" stroke="#303030" stroke-width="0.9"/>
<line x1="147.05" y1="140.90" x2="147.05" y2="138.90" stroke="#303030" stroke-width="0.9"/>
<text x="147.05" y="149.60" font-size="7.40" text-anchor="middle">3.1</text>
<line x1="167.53" y1="140.90" x2="167.53" y2="139.70" stroke="#303030" stroke-width="0.9"/>
<line x1="188.00" y1="140.90" x2="188.00" y2="138.90" stroke="#303030" stroke-width="0.9"/>
<text x="188.00" y="149.60" font-size="7.40" text-anchor="middle">3.2</text>
<line x1="24.20" y1="6.90" x2="26.20" y2="6.90" stroke="#303030" stroke-width="0.9"/>
<text x="21.60" y="9.30" font-size="7.40" text-anchor="end">0</text>
<line x1="24.20" y1="18.07" x2="25.40" y2="18.07" stroke="#303030" stroke-width="0.9"/>
<line x1="24.20" y1="29.23" x2="26.20" y2="29.23" stroke="#303030" stroke-width="0.9"/>
<text x="21.60" y="31.63" font-size="7.40" text-anchor="end">-5</text>
<line x1="24.20" y1="40.40" x2="25.40" y2="40.40" stroke="#303030" stroke-width="0.9"/>
<line x1="24.20" y1="51.57" x2="26.20" y2="51.57" stroke="#303030" stroke-width="0.9"/>
<text x="21.60" y="53.97" font-size="7.40" text-anchor="end">-10</text>
<line x1="24.20" y1="62.73" x2="25.40" y2="62.73" stroke="#303030" stroke-width="0.9"/>
<line x1="24.20" y1="73.90" x2="26.20" y2="73.90" stroke="#303030" stroke-width="0.9"/>
<text x="21.60" y="76.30" font-size="7.40" text-anchor="end">-15</text>
<line x1="24.20" y1="85.07" x2="25.40" y2="85.07" stroke="#303030" stroke-width="0.9"/>
<line x1="24.20" y1="96.23" x2="26.20" y2="96.23" stroke="#303030" stroke-width="0.9"/>
<text x="21.60" y="98.63" font-size="7.40" text-anchor="end">-20</text>
<line x1="24.20" y1="107.40" x2="25.40" y2="107.40" stroke="#303030" stroke-width="0.9"/>
<line x1="24.20" y1="118.57" x2="26.20" y2="118.57" stroke="#303030" stroke-width="0.9"/>
<text x="21.60" y="120.97" font-size="7.40" text-anchor="end">-25</text>
<line x1="24.20" y1="129.73" x2="25.40" y2="129.73" stroke="#303030" stroke-width="0.9"/>
<line x1="24.20" y1="140.90" x2="26.20" y2="140.90" stroke="#303030" stroke-width="0.9"/>
<text x="21.60" y="143.30" font-size="7.40" text-anchor="end">-30</text>
<text x="106.10" y="160.10" font-size="7.40" text-anchor="middle">Frequency (GHz)</text>
<text transform="translate(7.5 73.90) rotate(-90)" font-size="7.40" text-anchor="middle">Reflection Coefficient (dB)</text>
<text x="96.80" y="174.20" font-size="7.60" font-weight="bold" text-anchor="middle">(e)</text>
</g>
</svg>
</body></html>
